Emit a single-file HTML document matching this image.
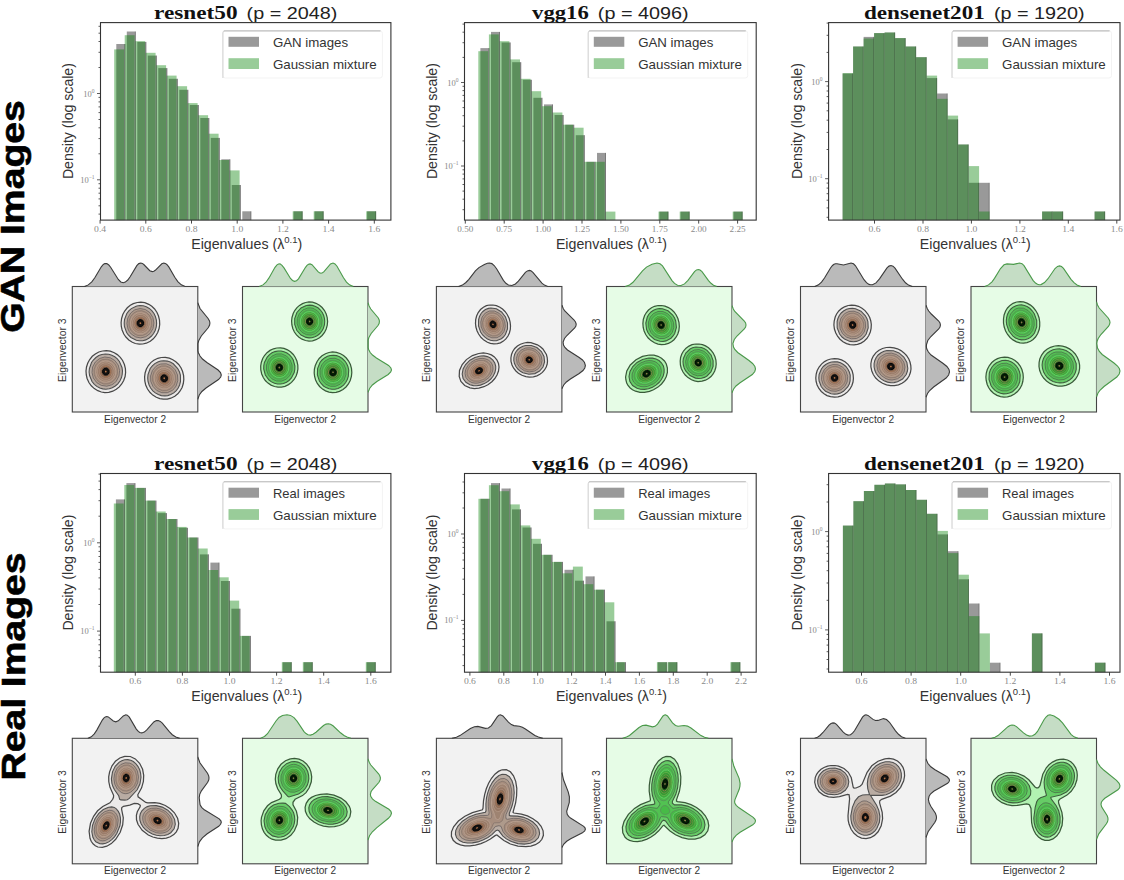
<!DOCTYPE html>
<html><head><meta charset="utf-8"><style>
html,body{margin:0;padding:0;background:#fff;}
svg{display:block;}
</style></head><body>
<svg width="1124" height="880" viewBox="0 0 1124 880">
<rect width="1124" height="880" fill="#fff"/>
<rect x="116.3" y="44" width="9.0" height="176.1" fill="rgba(128,128,128,0.8)"/>
<rect x="126.8" y="31.5" width="9.0" height="188.6" fill="rgba(128,128,128,0.8)"/>
<rect x="137.3" y="41.9" width="9.0" height="178.2" fill="rgba(128,128,128,0.8)"/>
<rect x="147.8" y="55.6" width="9.0" height="164.5" fill="rgba(128,128,128,0.8)"/>
<rect x="158.3" y="68.1" width="9.0" height="152" fill="rgba(128,128,128,0.8)"/>
<rect x="168.8" y="78.8" width="9.0" height="141.3" fill="rgba(128,128,128,0.8)"/>
<rect x="179.3" y="89.8" width="9.0" height="130.3" fill="rgba(128,128,128,0.8)"/>
<rect x="189.8" y="105" width="9.0" height="115.1" fill="rgba(128,128,128,0.8)"/>
<rect x="200.3" y="118" width="9.0" height="102.1" fill="rgba(128,128,128,0.8)"/>
<rect x="210.8" y="137.9" width="9.0" height="82.2" fill="rgba(128,128,128,0.8)"/>
<rect x="221.3" y="159.3" width="9.0" height="60.8" fill="rgba(128,128,128,0.8)"/>
<rect x="231.8" y="185" width="9.0" height="35.1" fill="rgba(128,128,128,0.8)"/>
<rect x="242.3" y="211.3" width="9.0" height="8.8" fill="rgba(128,128,128,0.8)"/>
<rect x="293.6" y="211.3" width="9.0" height="8.8" fill="rgba(128,128,128,0.8)"/>
<rect x="314.6" y="211.3" width="9.0" height="8.8" fill="rgba(128,128,128,0.8)"/>
<rect x="367.1" y="211.3" width="9.0" height="8.8" fill="rgba(128,128,128,0.8)"/>
<rect x="114.2" y="49.4" width="9.9" height="170.7" fill="rgba(0,128,0,0.4)"/>
<rect x="124.7" y="35.2" width="9.9" height="184.8" fill="rgba(0,128,0,0.4)"/>
<rect x="135.2" y="41.2" width="9.9" height="178.8" fill="rgba(0,128,0,0.4)"/>
<rect x="145.7" y="52.8" width="9.9" height="167.3" fill="rgba(0,128,0,0.4)"/>
<rect x="156.2" y="65.2" width="9.9" height="154.8" fill="rgba(0,128,0,0.4)"/>
<rect x="166.7" y="75.6" width="9.9" height="144.5" fill="rgba(0,128,0,0.4)"/>
<rect x="177.2" y="86.2" width="9.9" height="133.8" fill="rgba(0,128,0,0.4)"/>
<rect x="187.7" y="103.1" width="9.9" height="117" fill="rgba(0,128,0,0.4)"/>
<rect x="198.2" y="115.2" width="9.9" height="104.9" fill="rgba(0,128,0,0.4)"/>
<rect x="208.7" y="133.7" width="9.9" height="86.4" fill="rgba(0,128,0,0.4)"/>
<rect x="219.2" y="160" width="9.9" height="60.1" fill="rgba(0,128,0,0.4)"/>
<rect x="229.7" y="170.4" width="9.9" height="49.7" fill="rgba(0,128,0,0.4)"/>
<rect x="292.7" y="211.3" width="9.9" height="8.8" fill="rgba(0,128,0,0.4)"/>
<rect x="313.7" y="211.3" width="9.9" height="8.8" fill="rgba(0,128,0,0.4)"/>
<rect x="366.2" y="211.3" width="9.9" height="8.8" fill="rgba(0,128,0,0.4)"/>
<rect x="124.4" y="44" width="0.9" height="176.1" fill="rgba(40,40,40,0.3)"/>
<rect x="134.9" y="31.5" width="0.9" height="188.6" fill="rgba(40,40,40,0.3)"/>
<rect x="145.4" y="41.9" width="0.9" height="178.2" fill="rgba(40,40,40,0.3)"/>
<rect x="155.9" y="55.6" width="0.9" height="164.5" fill="rgba(40,40,40,0.3)"/>
<rect x="166.4" y="68.1" width="0.9" height="152" fill="rgba(40,40,40,0.3)"/>
<rect x="176.9" y="78.8" width="0.9" height="141.3" fill="rgba(40,40,40,0.3)"/>
<rect x="187.4" y="89.8" width="0.9" height="130.3" fill="rgba(40,40,40,0.3)"/>
<rect x="197.9" y="105" width="0.9" height="115.1" fill="rgba(40,40,40,0.3)"/>
<rect x="208.4" y="118" width="0.9" height="102.1" fill="rgba(40,40,40,0.3)"/>
<rect x="218.9" y="137.9" width="0.9" height="82.2" fill="rgba(40,40,40,0.3)"/>
<rect x="229.4" y="159.3" width="0.9" height="60.8" fill="rgba(40,40,40,0.3)"/>
<rect x="239.9" y="185" width="0.9" height="35.1" fill="rgba(40,40,40,0.3)"/>
<rect x="250.4" y="211.3" width="0.9" height="8.8" fill="rgba(40,40,40,0.3)"/>
<rect x="301.7" y="211.3" width="0.9" height="8.8" fill="rgba(40,40,40,0.3)"/>
<rect x="322.7" y="211.3" width="0.9" height="8.8" fill="rgba(40,40,40,0.3)"/>
<rect x="375.2" y="211.3" width="0.9" height="8.8" fill="rgba(40,40,40,0.3)"/>
<rect x="100.5" y="22.6" width="290.4" height="197.5" fill="none" stroke="#333" stroke-width="1.1"/>
<line x1="100.1" y1="220.1" x2="100.1" y2="223.6" stroke="#333" stroke-width="0.9"/>
<text x="100.1" y="231.6" font-family='"Liberation Serif", serif' font-size="8" fill="#8a8a8a" text-anchor="middle" textLength="12" lengthAdjust="spacingAndGlyphs">0.4</text>
<line x1="145.8" y1="220.1" x2="145.8" y2="223.6" stroke="#333" stroke-width="0.9"/>
<text x="145.8" y="231.6" font-family='"Liberation Serif", serif' font-size="8" fill="#8a8a8a" text-anchor="middle" textLength="12" lengthAdjust="spacingAndGlyphs">0.6</text>
<line x1="191.5" y1="220.1" x2="191.5" y2="223.6" stroke="#333" stroke-width="0.9"/>
<text x="191.5" y="231.6" font-family='"Liberation Serif", serif' font-size="8" fill="#8a8a8a" text-anchor="middle" textLength="12" lengthAdjust="spacingAndGlyphs">0.8</text>
<line x1="237.2" y1="220.1" x2="237.2" y2="223.6" stroke="#333" stroke-width="0.9"/>
<text x="237.2" y="231.6" font-family='"Liberation Serif", serif' font-size="8" fill="#8a8a8a" text-anchor="middle" textLength="12" lengthAdjust="spacingAndGlyphs">1.0</text>
<line x1="282.9" y1="220.1" x2="282.9" y2="223.6" stroke="#333" stroke-width="0.9"/>
<text x="282.9" y="231.6" font-family='"Liberation Serif", serif' font-size="8" fill="#8a8a8a" text-anchor="middle" textLength="12" lengthAdjust="spacingAndGlyphs">1.2</text>
<line x1="328.6" y1="220.1" x2="328.6" y2="223.6" stroke="#333" stroke-width="0.9"/>
<text x="328.6" y="231.6" font-family='"Liberation Serif", serif' font-size="8" fill="#8a8a8a" text-anchor="middle" textLength="12" lengthAdjust="spacingAndGlyphs">1.4</text>
<line x1="374.3" y1="220.1" x2="374.3" y2="223.6" stroke="#333" stroke-width="0.9"/>
<text x="374.3" y="231.6" font-family='"Liberation Serif", serif' font-size="8" fill="#8a8a8a" text-anchor="middle" textLength="12" lengthAdjust="spacingAndGlyphs">1.6</text>
<line x1="98.5" y1="214.1" x2="100.5" y2="214.1" stroke="#333" stroke-width="0.8"/>
<line x1="98.5" y1="205.8" x2="100.5" y2="205.8" stroke="#333" stroke-width="0.8"/>
<line x1="98.5" y1="198.9" x2="100.5" y2="198.9" stroke="#333" stroke-width="0.8"/>
<line x1="98.5" y1="193.2" x2="100.5" y2="193.2" stroke="#333" stroke-width="0.8"/>
<line x1="98.5" y1="188.2" x2="100.5" y2="188.2" stroke="#333" stroke-width="0.8"/>
<line x1="98.5" y1="183.7" x2="100.5" y2="183.7" stroke="#333" stroke-width="0.8"/>
<line x1="97" y1="179.8" x2="100.5" y2="179.8" stroke="#333" stroke-width="0.8"/>
<line x1="98.5" y1="153.8" x2="100.5" y2="153.8" stroke="#333" stroke-width="0.8"/>
<line x1="98.5" y1="138.6" x2="100.5" y2="138.6" stroke="#333" stroke-width="0.8"/>
<line x1="98.5" y1="127.8" x2="100.5" y2="127.8" stroke="#333" stroke-width="0.8"/>
<line x1="98.5" y1="119.5" x2="100.5" y2="119.5" stroke="#333" stroke-width="0.8"/>
<line x1="98.5" y1="112.6" x2="100.5" y2="112.6" stroke="#333" stroke-width="0.8"/>
<line x1="98.5" y1="106.9" x2="100.5" y2="106.9" stroke="#333" stroke-width="0.8"/>
<line x1="98.5" y1="101.9" x2="100.5" y2="101.9" stroke="#333" stroke-width="0.8"/>
<line x1="98.5" y1="97.4" x2="100.5" y2="97.4" stroke="#333" stroke-width="0.8"/>
<line x1="97" y1="93.5" x2="100.5" y2="93.5" stroke="#333" stroke-width="0.8"/>
<line x1="98.5" y1="67.5" x2="100.5" y2="67.5" stroke="#333" stroke-width="0.8"/>
<line x1="98.5" y1="52.3" x2="100.5" y2="52.3" stroke="#333" stroke-width="0.8"/>
<line x1="98.5" y1="41.5" x2="100.5" y2="41.5" stroke="#333" stroke-width="0.8"/>
<line x1="98.5" y1="33.2" x2="100.5" y2="33.2" stroke="#333" stroke-width="0.8"/>
<line x1="98.5" y1="26.3" x2="100.5" y2="26.3" stroke="#333" stroke-width="0.8"/>
<text x="94.5" y="96.5" font-family='"Liberation Serif", serif' font-size="8.5" fill="#888" text-anchor="end">10<tspan dy="-4" font-size="5.5">0</tspan></text>
<text x="94.5" y="182.8" font-family='"Liberation Serif", serif' font-size="8.5" fill="#888" text-anchor="end">10<tspan dy="-4" font-size="5.5">−1</tspan></text>
<text x="154" y="19" font-family='"Liberation Serif", serif' font-size="19" font-weight="bold" fill="#111" text-anchor="start" textLength="83.6" lengthAdjust="spacingAndGlyphs">resnet50</text>
<text x="246.6" y="19" font-family='"Liberation Sans", sans-serif' font-size="16.5" fill="#222" text-anchor="start" textLength="90.8" lengthAdjust="spacingAndGlyphs">(p = 2048)</text>
<text x="73.5" y="121.1" font-family='"Liberation Sans", sans-serif' font-size="14" fill="#333" text-anchor="middle" textLength="116" lengthAdjust="spacingAndGlyphs" transform="rotate(-90 73.5 121.1)">Density (log scale)</text>
<text x="191.2" y="249.1" font-family='"Liberation Sans", sans-serif' font-size="14.2" fill="#333" text-anchor="start">Eigenvalues (λ<tspan dy="-6" font-size="9.5">0.1</tspan><tspan dy="6">)</tspan></text>
<rect x="222.9" y="30.8" width="159.5" height="47.2" rx="2.5" fill="none" stroke="#f3f3f3" stroke-width="1"/>
<path d="M222.9 78 L222.9 32.8 Q222.9 30.8 224.9 30.8 L380.4 30.8" fill="none" stroke="#d2d2d2" stroke-width="1"/>
<path d="M223.9 30.8 L380.4 30.8" fill="none" stroke="#c8c8c8" stroke-width="1.2"/>
<rect x="228.5" y="36.8" width="30.5" height="10" fill="rgba(128,128,128,0.8)"/>
<rect x="228.5" y="58.2" width="30.5" height="10.8" fill="rgba(0,128,0,0.4)"/>
<text x="272.9" y="47.3" font-family='"Liberation Sans", sans-serif' font-size="13.5" fill="#333" text-anchor="start" textLength="75.2" lengthAdjust="spacingAndGlyphs">GAN images</text>
<text x="272.9" y="68.6" font-family='"Liberation Sans", sans-serif' font-size="13.5" fill="#333" text-anchor="start" textLength="103.8" lengthAdjust="spacingAndGlyphs">Gaussian mixture</text>
<rect x="480.4" y="48.1" width="9.0" height="172" fill="rgba(128,128,128,0.8)"/>
<rect x="491" y="31.9" width="9.0" height="188.2" fill="rgba(128,128,128,0.8)"/>
<rect x="501.6" y="42.5" width="9.0" height="177.6" fill="rgba(128,128,128,0.8)"/>
<rect x="512.2" y="62.2" width="9.0" height="157.8" fill="rgba(128,128,128,0.8)"/>
<rect x="522.8" y="79.8" width="9.0" height="140.3" fill="rgba(128,128,128,0.8)"/>
<rect x="533.4" y="97.8" width="9.0" height="122.3" fill="rgba(128,128,128,0.8)"/>
<rect x="544" y="104.4" width="9.0" height="115.7" fill="rgba(128,128,128,0.8)"/>
<rect x="554.6" y="115" width="9.0" height="105.1" fill="rgba(128,128,128,0.8)"/>
<rect x="565.2" y="124.7" width="9.0" height="95.4" fill="rgba(128,128,128,0.8)"/>
<rect x="575.8" y="135.2" width="9.0" height="84.9" fill="rgba(128,128,128,0.8)"/>
<rect x="586.4" y="161.8" width="9.0" height="58.3" fill="rgba(128,128,128,0.8)"/>
<rect x="597" y="152.9" width="9.0" height="67.2" fill="rgba(128,128,128,0.8)"/>
<rect x="659.4" y="211.6" width="9.0" height="8.5" fill="rgba(128,128,128,0.8)"/>
<rect x="680.6" y="211.6" width="9.0" height="8.5" fill="rgba(128,128,128,0.8)"/>
<rect x="733.6" y="211.6" width="9.0" height="8.5" fill="rgba(128,128,128,0.8)"/>
<rect x="478.3" y="51.2" width="9.9" height="168.8" fill="rgba(0,128,0,0.4)"/>
<rect x="488.9" y="34.4" width="9.9" height="185.7" fill="rgba(0,128,0,0.4)"/>
<rect x="499.5" y="41.2" width="9.9" height="178.8" fill="rgba(0,128,0,0.4)"/>
<rect x="510.1" y="59.4" width="9.9" height="160.7" fill="rgba(0,128,0,0.4)"/>
<rect x="520.7" y="78.8" width="9.9" height="141.3" fill="rgba(0,128,0,0.4)"/>
<rect x="531.3" y="91.2" width="9.9" height="128.8" fill="rgba(0,128,0,0.4)"/>
<rect x="541.9" y="106.2" width="9.9" height="113.8" fill="rgba(0,128,0,0.4)"/>
<rect x="552.5" y="112.5" width="9.9" height="107.6" fill="rgba(0,128,0,0.4)"/>
<rect x="563.1" y="124.7" width="9.9" height="95.4" fill="rgba(0,128,0,0.4)"/>
<rect x="573.7" y="127.7" width="9.9" height="92.4" fill="rgba(0,128,0,0.4)"/>
<rect x="584.3" y="161.8" width="9.9" height="58.3" fill="rgba(0,128,0,0.4)"/>
<rect x="594.9" y="161.8" width="9.9" height="58.3" fill="rgba(0,128,0,0.4)"/>
<rect x="605.5" y="211.6" width="9.9" height="8.5" fill="rgba(0,128,0,0.4)"/>
<rect x="658.5" y="211.6" width="9.9" height="8.5" fill="rgba(0,128,0,0.4)"/>
<rect x="679.7" y="211.6" width="9.9" height="8.5" fill="rgba(0,128,0,0.4)"/>
<rect x="732.7" y="211.6" width="9.9" height="8.5" fill="rgba(0,128,0,0.4)"/>
<rect x="488.5" y="48.1" width="0.9" height="172" fill="rgba(40,40,40,0.3)"/>
<rect x="499.1" y="31.9" width="0.9" height="188.2" fill="rgba(40,40,40,0.3)"/>
<rect x="509.7" y="42.5" width="0.9" height="177.6" fill="rgba(40,40,40,0.3)"/>
<rect x="520.3" y="62.2" width="0.9" height="157.8" fill="rgba(40,40,40,0.3)"/>
<rect x="530.9" y="79.8" width="0.9" height="140.3" fill="rgba(40,40,40,0.3)"/>
<rect x="541.5" y="97.8" width="0.9" height="122.3" fill="rgba(40,40,40,0.3)"/>
<rect x="552.1" y="104.4" width="0.9" height="115.7" fill="rgba(40,40,40,0.3)"/>
<rect x="562.7" y="115" width="0.9" height="105.1" fill="rgba(40,40,40,0.3)"/>
<rect x="573.3" y="124.7" width="0.9" height="95.4" fill="rgba(40,40,40,0.3)"/>
<rect x="583.9" y="135.2" width="0.9" height="84.9" fill="rgba(40,40,40,0.3)"/>
<rect x="594.5" y="161.8" width="0.9" height="58.3" fill="rgba(40,40,40,0.3)"/>
<rect x="605.1" y="152.9" width="0.9" height="67.2" fill="rgba(40,40,40,0.3)"/>
<rect x="667.5" y="211.6" width="0.9" height="8.5" fill="rgba(40,40,40,0.3)"/>
<rect x="688.7" y="211.6" width="0.9" height="8.5" fill="rgba(40,40,40,0.3)"/>
<rect x="741.7" y="211.6" width="0.9" height="8.5" fill="rgba(40,40,40,0.3)"/>
<rect x="464.5" y="22.6" width="291.7" height="197.5" fill="none" stroke="#333" stroke-width="1.1"/>
<line x1="465.3" y1="220.1" x2="465.3" y2="223.6" stroke="#333" stroke-width="0.9"/>
<text x="465.3" y="231.6" font-family='"Liberation Serif", serif' font-size="8" fill="#8a8a8a" text-anchor="middle" textLength="16" lengthAdjust="spacingAndGlyphs">0.50</text>
<line x1="504.2" y1="220.1" x2="504.2" y2="223.6" stroke="#333" stroke-width="0.9"/>
<text x="504.2" y="231.6" font-family='"Liberation Serif", serif' font-size="8" fill="#8a8a8a" text-anchor="middle" textLength="16" lengthAdjust="spacingAndGlyphs">0.75</text>
<line x1="543.1" y1="220.1" x2="543.1" y2="223.6" stroke="#333" stroke-width="0.9"/>
<text x="543.1" y="231.6" font-family='"Liberation Serif", serif' font-size="8" fill="#8a8a8a" text-anchor="middle" textLength="16" lengthAdjust="spacingAndGlyphs">1.00</text>
<line x1="582" y1="220.1" x2="582" y2="223.6" stroke="#333" stroke-width="0.9"/>
<text x="582" y="231.6" font-family='"Liberation Serif", serif' font-size="8" fill="#8a8a8a" text-anchor="middle" textLength="16" lengthAdjust="spacingAndGlyphs">1.25</text>
<line x1="620.9" y1="220.1" x2="620.9" y2="223.6" stroke="#333" stroke-width="0.9"/>
<text x="620.9" y="231.6" font-family='"Liberation Serif", serif' font-size="8" fill="#8a8a8a" text-anchor="middle" textLength="16" lengthAdjust="spacingAndGlyphs">1.50</text>
<line x1="659.8" y1="220.1" x2="659.8" y2="223.6" stroke="#333" stroke-width="0.9"/>
<text x="659.8" y="231.6" font-family='"Liberation Serif", serif' font-size="8" fill="#8a8a8a" text-anchor="middle" textLength="16" lengthAdjust="spacingAndGlyphs">1.75</text>
<line x1="698.7" y1="220.1" x2="698.7" y2="223.6" stroke="#333" stroke-width="0.9"/>
<text x="698.7" y="231.6" font-family='"Liberation Serif", serif' font-size="8" fill="#8a8a8a" text-anchor="middle" textLength="16" lengthAdjust="spacingAndGlyphs">2.00</text>
<line x1="737.6" y1="220.1" x2="737.6" y2="223.6" stroke="#333" stroke-width="0.9"/>
<text x="737.6" y="231.6" font-family='"Liberation Serif", serif' font-size="8" fill="#8a8a8a" text-anchor="middle" textLength="16" lengthAdjust="spacingAndGlyphs">2.25</text>
<line x1="462.5" y1="209.7" x2="464.5" y2="209.7" stroke="#333" stroke-width="0.8"/>
<line x1="462.5" y1="199.2" x2="464.5" y2="199.2" stroke="#333" stroke-width="0.8"/>
<line x1="462.5" y1="191.1" x2="464.5" y2="191.1" stroke="#333" stroke-width="0.8"/>
<line x1="462.5" y1="184.5" x2="464.5" y2="184.5" stroke="#333" stroke-width="0.8"/>
<line x1="462.5" y1="178.9" x2="464.5" y2="178.9" stroke="#333" stroke-width="0.8"/>
<line x1="462.5" y1="174.1" x2="464.5" y2="174.1" stroke="#333" stroke-width="0.8"/>
<line x1="462.5" y1="169.8" x2="464.5" y2="169.8" stroke="#333" stroke-width="0.8"/>
<line x1="461" y1="166" x2="464.5" y2="166" stroke="#333" stroke-width="0.8"/>
<line x1="462.5" y1="140.9" x2="464.5" y2="140.9" stroke="#333" stroke-width="0.8"/>
<line x1="462.5" y1="126.2" x2="464.5" y2="126.2" stroke="#333" stroke-width="0.8"/>
<line x1="462.5" y1="115.7" x2="464.5" y2="115.7" stroke="#333" stroke-width="0.8"/>
<line x1="462.5" y1="107.6" x2="464.5" y2="107.6" stroke="#333" stroke-width="0.8"/>
<line x1="462.5" y1="101" x2="464.5" y2="101" stroke="#333" stroke-width="0.8"/>
<line x1="462.5" y1="95.4" x2="464.5" y2="95.4" stroke="#333" stroke-width="0.8"/>
<line x1="462.5" y1="90.6" x2="464.5" y2="90.6" stroke="#333" stroke-width="0.8"/>
<line x1="462.5" y1="86.3" x2="464.5" y2="86.3" stroke="#333" stroke-width="0.8"/>
<line x1="461" y1="82.5" x2="464.5" y2="82.5" stroke="#333" stroke-width="0.8"/>
<line x1="462.5" y1="57.4" x2="464.5" y2="57.4" stroke="#333" stroke-width="0.8"/>
<line x1="462.5" y1="42.7" x2="464.5" y2="42.7" stroke="#333" stroke-width="0.8"/>
<line x1="462.5" y1="32.2" x2="464.5" y2="32.2" stroke="#333" stroke-width="0.8"/>
<line x1="462.5" y1="24.1" x2="464.5" y2="24.1" stroke="#333" stroke-width="0.8"/>
<text x="458.5" y="85.5" font-family='"Liberation Serif", serif' font-size="8.5" fill="#888" text-anchor="end">10<tspan dy="-4" font-size="5.5">0</tspan></text>
<text x="458.5" y="169" font-family='"Liberation Serif", serif' font-size="8.5" fill="#888" text-anchor="end">10<tspan dy="-4" font-size="5.5">−1</tspan></text>
<text x="532.1" y="19" font-family='"Liberation Serif", serif' font-size="19" font-weight="bold" fill="#111" text-anchor="start" textLength="56.7" lengthAdjust="spacingAndGlyphs">vgg16</text>
<text x="597.8" y="19" font-family='"Liberation Sans", sans-serif' font-size="16.5" fill="#222" text-anchor="start" textLength="90.8" lengthAdjust="spacingAndGlyphs">(p = 4096)</text>
<text x="437.5" y="121.1" font-family='"Liberation Sans", sans-serif' font-size="14" fill="#333" text-anchor="middle" textLength="116" lengthAdjust="spacingAndGlyphs" transform="rotate(-90 437.5 121.1)">Density (log scale)</text>
<text x="555.9" y="249.1" font-family='"Liberation Sans", sans-serif' font-size="14.2" fill="#333" text-anchor="start">Eigenvalues (λ<tspan dy="-6" font-size="9.5">0.1</tspan><tspan dy="6">)</tspan></text>
<rect x="588.2" y="30.8" width="159.5" height="47.2" rx="2.5" fill="none" stroke="#f3f3f3" stroke-width="1"/>
<path d="M588.2 78 L588.2 32.8 Q588.2 30.8 590.2 30.8 L745.7 30.8" fill="none" stroke="#d2d2d2" stroke-width="1"/>
<path d="M589.2 30.8 L745.7 30.8" fill="none" stroke="#c8c8c8" stroke-width="1.2"/>
<rect x="593.8" y="36.8" width="30.5" height="10" fill="rgba(128,128,128,0.8)"/>
<rect x="593.8" y="58.2" width="30.5" height="10.8" fill="rgba(0,128,0,0.4)"/>
<text x="638.2" y="47.3" font-family='"Liberation Sans", sans-serif' font-size="13.5" fill="#333" text-anchor="start" textLength="75.2" lengthAdjust="spacingAndGlyphs">GAN images</text>
<text x="638.2" y="68.6" font-family='"Liberation Sans", sans-serif' font-size="13.5" fill="#333" text-anchor="start" textLength="103.8" lengthAdjust="spacingAndGlyphs">Gaussian mixture</text>
<rect x="842.6" y="73.5" width="10.5" height="146.6" fill="rgba(128,128,128,0.8)"/>
<rect x="853.1" y="46.5" width="10.5" height="173.6" fill="rgba(128,128,128,0.8)"/>
<rect x="863.6" y="36.9" width="10.5" height="183.2" fill="rgba(128,128,128,0.8)"/>
<rect x="874.1" y="33.1" width="10.5" height="187" fill="rgba(128,128,128,0.8)"/>
<rect x="884.6" y="32.5" width="10.5" height="187.6" fill="rgba(128,128,128,0.8)"/>
<rect x="895.1" y="38.1" width="10.5" height="182" fill="rgba(128,128,128,0.8)"/>
<rect x="905.6" y="46.5" width="10.5" height="173.6" fill="rgba(128,128,128,0.8)"/>
<rect x="916.1" y="57.2" width="10.5" height="162.8" fill="rgba(128,128,128,0.8)"/>
<rect x="926.6" y="78.1" width="10.5" height="142" fill="rgba(128,128,128,0.8)"/>
<rect x="937.1" y="93.5" width="10.5" height="126.6" fill="rgba(128,128,128,0.8)"/>
<rect x="947.6" y="119.4" width="10.5" height="100.7" fill="rgba(128,128,128,0.8)"/>
<rect x="958.1" y="144.5" width="10.5" height="75.6" fill="rgba(128,128,128,0.8)"/>
<rect x="968.6" y="182.8" width="10.5" height="37.3" fill="rgba(128,128,128,0.8)"/>
<rect x="979.1" y="182.8" width="10.5" height="37.3" fill="rgba(128,128,128,0.8)"/>
<rect x="1042.1" y="211.5" width="10.5" height="8.6" fill="rgba(128,128,128,0.8)"/>
<rect x="1052.6" y="211.5" width="10.5" height="8.6" fill="rgba(128,128,128,0.8)"/>
<rect x="1094.6" y="211.5" width="10.5" height="8.6" fill="rgba(128,128,128,0.8)"/>
<rect x="842.6" y="73.1" width="10.5" height="147" fill="rgba(0,128,0,0.4)"/>
<rect x="853.1" y="46.5" width="10.5" height="173.6" fill="rgba(0,128,0,0.4)"/>
<rect x="863.6" y="38.5" width="10.5" height="181.6" fill="rgba(0,128,0,0.4)"/>
<rect x="874.1" y="33.1" width="10.5" height="187" fill="rgba(0,128,0,0.4)"/>
<rect x="884.6" y="32.5" width="10.5" height="187.6" fill="rgba(0,128,0,0.4)"/>
<rect x="895.1" y="38.1" width="10.5" height="182" fill="rgba(0,128,0,0.4)"/>
<rect x="905.6" y="46.5" width="10.5" height="173.6" fill="rgba(0,128,0,0.4)"/>
<rect x="916.1" y="57.2" width="10.5" height="162.8" fill="rgba(0,128,0,0.4)"/>
<rect x="926.6" y="75.6" width="10.5" height="144.5" fill="rgba(0,128,0,0.4)"/>
<rect x="937.1" y="98.8" width="10.5" height="121.3" fill="rgba(0,128,0,0.4)"/>
<rect x="947.6" y="115.6" width="10.5" height="104.5" fill="rgba(0,128,0,0.4)"/>
<rect x="958.1" y="144.5" width="10.5" height="75.6" fill="rgba(0,128,0,0.4)"/>
<rect x="968.6" y="166.1" width="10.5" height="54" fill="rgba(0,128,0,0.4)"/>
<rect x="979.1" y="211.5" width="10.5" height="8.6" fill="rgba(0,128,0,0.4)"/>
<rect x="1042.1" y="211.5" width="10.5" height="8.6" fill="rgba(0,128,0,0.4)"/>
<rect x="1052.6" y="211.5" width="10.5" height="8.6" fill="rgba(0,128,0,0.4)"/>
<rect x="1094.6" y="211.5" width="10.5" height="8.6" fill="rgba(0,128,0,0.4)"/>
<rect x="852.2" y="73.5" width="0.9" height="146.6" fill="rgba(40,40,40,0.3)"/>
<rect x="862.7" y="46.5" width="0.9" height="173.6" fill="rgba(40,40,40,0.3)"/>
<rect x="873.2" y="36.9" width="0.9" height="183.2" fill="rgba(40,40,40,0.3)"/>
<rect x="883.7" y="33.1" width="0.9" height="187" fill="rgba(40,40,40,0.3)"/>
<rect x="894.2" y="32.5" width="0.9" height="187.6" fill="rgba(40,40,40,0.3)"/>
<rect x="904.7" y="38.1" width="0.9" height="182" fill="rgba(40,40,40,0.3)"/>
<rect x="915.2" y="46.5" width="0.9" height="173.6" fill="rgba(40,40,40,0.3)"/>
<rect x="925.7" y="57.2" width="0.9" height="162.8" fill="rgba(40,40,40,0.3)"/>
<rect x="936.2" y="78.1" width="0.9" height="142" fill="rgba(40,40,40,0.3)"/>
<rect x="946.7" y="93.5" width="0.9" height="126.6" fill="rgba(40,40,40,0.3)"/>
<rect x="957.2" y="119.4" width="0.9" height="100.7" fill="rgba(40,40,40,0.3)"/>
<rect x="967.7" y="144.5" width="0.9" height="75.6" fill="rgba(40,40,40,0.3)"/>
<rect x="978.2" y="182.8" width="0.9" height="37.3" fill="rgba(40,40,40,0.3)"/>
<rect x="988.7" y="182.8" width="0.9" height="37.3" fill="rgba(40,40,40,0.3)"/>
<rect x="1051.7" y="211.5" width="0.9" height="8.6" fill="rgba(40,40,40,0.3)"/>
<rect x="1062.2" y="211.5" width="0.9" height="8.6" fill="rgba(40,40,40,0.3)"/>
<rect x="1104.2" y="211.5" width="0.9" height="8.6" fill="rgba(40,40,40,0.3)"/>
<rect x="828.6" y="22.6" width="291.4" height="197.5" fill="none" stroke="#333" stroke-width="1.1"/>
<line x1="874.5" y1="220.1" x2="874.5" y2="223.6" stroke="#333" stroke-width="0.9"/>
<text x="874.5" y="231.6" font-family='"Liberation Serif", serif' font-size="8" fill="#8a8a8a" text-anchor="middle" textLength="12" lengthAdjust="spacingAndGlyphs">0.6</text>
<line x1="923" y1="220.1" x2="923" y2="223.6" stroke="#333" stroke-width="0.9"/>
<text x="923" y="231.6" font-family='"Liberation Serif", serif' font-size="8" fill="#8a8a8a" text-anchor="middle" textLength="12" lengthAdjust="spacingAndGlyphs">0.8</text>
<line x1="971.4" y1="220.1" x2="971.4" y2="223.6" stroke="#333" stroke-width="0.9"/>
<text x="971.4" y="231.6" font-family='"Liberation Serif", serif' font-size="8" fill="#8a8a8a" text-anchor="middle" textLength="12" lengthAdjust="spacingAndGlyphs">1.0</text>
<line x1="1019.9" y1="220.1" x2="1019.9" y2="223.6" stroke="#333" stroke-width="0.9"/>
<text x="1019.9" y="231.6" font-family='"Liberation Serif", serif' font-size="8" fill="#8a8a8a" text-anchor="middle" textLength="12" lengthAdjust="spacingAndGlyphs">1.2</text>
<line x1="1068.3" y1="220.1" x2="1068.3" y2="223.6" stroke="#333" stroke-width="0.9"/>
<text x="1068.3" y="231.6" font-family='"Liberation Serif", serif' font-size="8" fill="#8a8a8a" text-anchor="middle" textLength="12" lengthAdjust="spacingAndGlyphs">1.4</text>
<line x1="1116.8" y1="220.1" x2="1116.8" y2="223.6" stroke="#333" stroke-width="0.9"/>
<text x="1116.8" y="231.6" font-family='"Liberation Serif", serif' font-size="8" fill="#8a8a8a" text-anchor="middle" textLength="12" lengthAdjust="spacingAndGlyphs">1.6</text>
<line x1="826.6" y1="217.3" x2="828.6" y2="217.3" stroke="#333" stroke-width="0.8"/>
<line x1="826.6" y1="207.9" x2="828.6" y2="207.9" stroke="#333" stroke-width="0.8"/>
<line x1="826.6" y1="200.2" x2="828.6" y2="200.2" stroke="#333" stroke-width="0.8"/>
<line x1="826.6" y1="193.7" x2="828.6" y2="193.7" stroke="#333" stroke-width="0.8"/>
<line x1="826.6" y1="188.1" x2="828.6" y2="188.1" stroke="#333" stroke-width="0.8"/>
<line x1="826.6" y1="183.1" x2="828.6" y2="183.1" stroke="#333" stroke-width="0.8"/>
<line x1="825.1" y1="178.7" x2="828.6" y2="178.7" stroke="#333" stroke-width="0.8"/>
<line x1="826.6" y1="149.5" x2="828.6" y2="149.5" stroke="#333" stroke-width="0.8"/>
<line x1="826.6" y1="132.4" x2="828.6" y2="132.4" stroke="#333" stroke-width="0.8"/>
<line x1="826.6" y1="120.2" x2="828.6" y2="120.2" stroke="#333" stroke-width="0.8"/>
<line x1="826.6" y1="110.8" x2="828.6" y2="110.8" stroke="#333" stroke-width="0.8"/>
<line x1="826.6" y1="103.1" x2="828.6" y2="103.1" stroke="#333" stroke-width="0.8"/>
<line x1="826.6" y1="96.6" x2="828.6" y2="96.6" stroke="#333" stroke-width="0.8"/>
<line x1="826.6" y1="91" x2="828.6" y2="91" stroke="#333" stroke-width="0.8"/>
<line x1="826.6" y1="86" x2="828.6" y2="86" stroke="#333" stroke-width="0.8"/>
<line x1="825.1" y1="81.6" x2="828.6" y2="81.6" stroke="#333" stroke-width="0.8"/>
<line x1="826.6" y1="52.4" x2="828.6" y2="52.4" stroke="#333" stroke-width="0.8"/>
<line x1="826.6" y1="35.3" x2="828.6" y2="35.3" stroke="#333" stroke-width="0.8"/>
<line x1="826.6" y1="23.1" x2="828.6" y2="23.1" stroke="#333" stroke-width="0.8"/>
<text x="822.6" y="84.6" font-family='"Liberation Serif", serif' font-size="8.5" fill="#888" text-anchor="end">10<tspan dy="-4" font-size="5.5">0</tspan></text>
<text x="822.6" y="181.7" font-family='"Liberation Serif", serif' font-size="8.5" fill="#888" text-anchor="end">10<tspan dy="-4" font-size="5.5">−1</tspan></text>
<text x="863.9" y="19" font-family='"Liberation Serif", serif' font-size="19" font-weight="bold" fill="#111" text-anchor="start" textLength="121" lengthAdjust="spacingAndGlyphs">densenet201</text>
<text x="993.9" y="19" font-family='"Liberation Sans", sans-serif' font-size="16.5" fill="#222" text-anchor="start" textLength="90.8" lengthAdjust="spacingAndGlyphs">(p = 1920)</text>
<text x="801.6" y="121.1" font-family='"Liberation Sans", sans-serif' font-size="14" fill="#333" text-anchor="middle" textLength="116" lengthAdjust="spacingAndGlyphs" transform="rotate(-90 801.6 121.1)">Density (log scale)</text>
<text x="919.8" y="249.1" font-family='"Liberation Sans", sans-serif' font-size="14.2" fill="#333" text-anchor="start">Eigenvalues (λ<tspan dy="-6" font-size="9.5">0.1</tspan><tspan dy="6">)</tspan></text>
<rect x="952" y="30.8" width="159.5" height="47.2" rx="2.5" fill="none" stroke="#f3f3f3" stroke-width="1"/>
<path d="M952 78 L952 32.8 Q952 30.8 954 30.8 L1109.5 30.8" fill="none" stroke="#d2d2d2" stroke-width="1"/>
<path d="M953 30.8 L1109.5 30.8" fill="none" stroke="#c8c8c8" stroke-width="1.2"/>
<rect x="957.6" y="36.8" width="30.5" height="10" fill="rgba(128,128,128,0.8)"/>
<rect x="957.6" y="58.2" width="30.5" height="10.8" fill="rgba(0,128,0,0.4)"/>
<text x="1002" y="47.3" font-family='"Liberation Sans", sans-serif' font-size="13.5" fill="#333" text-anchor="start" textLength="75.2" lengthAdjust="spacingAndGlyphs">GAN images</text>
<text x="1002" y="68.6" font-family='"Liberation Sans", sans-serif' font-size="13.5" fill="#333" text-anchor="start" textLength="103.8" lengthAdjust="spacingAndGlyphs">Gaussian mixture</text>
<rect x="115.9" y="499.4" width="9.0" height="172.8" fill="rgba(128,128,128,0.8)"/>
<rect x="126.4" y="483.1" width="9.0" height="189.1" fill="rgba(128,128,128,0.8)"/>
<rect x="136.9" y="487.9" width="9.0" height="184.3" fill="rgba(128,128,128,0.8)"/>
<rect x="147.4" y="500.6" width="9.0" height="171.6" fill="rgba(128,128,128,0.8)"/>
<rect x="157.9" y="513.1" width="9.0" height="159.1" fill="rgba(128,128,128,0.8)"/>
<rect x="168.4" y="519" width="9.0" height="153.2" fill="rgba(128,128,128,0.8)"/>
<rect x="178.9" y="527.8" width="9.0" height="144.5" fill="rgba(128,128,128,0.8)"/>
<rect x="189.4" y="537.5" width="9.0" height="134.7" fill="rgba(128,128,128,0.8)"/>
<rect x="199.9" y="554.4" width="9.0" height="117.8" fill="rgba(128,128,128,0.8)"/>
<rect x="210.4" y="562.6" width="9.0" height="109.6" fill="rgba(128,128,128,0.8)"/>
<rect x="220.9" y="581" width="9.0" height="91.2" fill="rgba(128,128,128,0.8)"/>
<rect x="231.4" y="608.7" width="9.0" height="63.5" fill="rgba(128,128,128,0.8)"/>
<rect x="241.9" y="635.9" width="9.0" height="36.3" fill="rgba(128,128,128,0.8)"/>
<rect x="282.7" y="662.2" width="9.0" height="10" fill="rgba(128,128,128,0.8)"/>
<rect x="303.7" y="662.2" width="9.0" height="10" fill="rgba(128,128,128,0.8)"/>
<rect x="366.7" y="662.2" width="9.0" height="10" fill="rgba(128,128,128,0.8)"/>
<rect x="113.8" y="503.5" width="9.9" height="168.7" fill="rgba(0,128,0,0.4)"/>
<rect x="124.3" y="485" width="9.9" height="187.2" fill="rgba(0,128,0,0.4)"/>
<rect x="134.8" y="487.9" width="9.9" height="184.3" fill="rgba(0,128,0,0.4)"/>
<rect x="145.3" y="500.6" width="9.9" height="171.6" fill="rgba(0,128,0,0.4)"/>
<rect x="155.8" y="511.5" width="9.9" height="160.7" fill="rgba(0,128,0,0.4)"/>
<rect x="166.3" y="519" width="9.9" height="153.2" fill="rgba(0,128,0,0.4)"/>
<rect x="176.8" y="526.9" width="9.9" height="145.3" fill="rgba(0,128,0,0.4)"/>
<rect x="187.3" y="537.5" width="9.9" height="134.7" fill="rgba(0,128,0,0.4)"/>
<rect x="197.8" y="548.5" width="9.9" height="123.7" fill="rgba(0,128,0,0.4)"/>
<rect x="208.3" y="570" width="9.9" height="102.2" fill="rgba(0,128,0,0.4)"/>
<rect x="218.8" y="577.3" width="9.9" height="94.9" fill="rgba(0,128,0,0.4)"/>
<rect x="229.3" y="600.6" width="9.9" height="71.6" fill="rgba(0,128,0,0.4)"/>
<rect x="239.8" y="635.9" width="9.9" height="36.3" fill="rgba(0,128,0,0.4)"/>
<rect x="281.8" y="662.2" width="9.9" height="10" fill="rgba(0,128,0,0.4)"/>
<rect x="302.8" y="662.2" width="9.9" height="10" fill="rgba(0,128,0,0.4)"/>
<rect x="365.8" y="662.2" width="9.9" height="10" fill="rgba(0,128,0,0.4)"/>
<rect x="124" y="499.4" width="0.9" height="172.8" fill="rgba(40,40,40,0.3)"/>
<rect x="134.5" y="483.1" width="0.9" height="189.1" fill="rgba(40,40,40,0.3)"/>
<rect x="145" y="487.9" width="0.9" height="184.3" fill="rgba(40,40,40,0.3)"/>
<rect x="155.5" y="500.6" width="0.9" height="171.6" fill="rgba(40,40,40,0.3)"/>
<rect x="166" y="513.1" width="0.9" height="159.1" fill="rgba(40,40,40,0.3)"/>
<rect x="176.5" y="519" width="0.9" height="153.2" fill="rgba(40,40,40,0.3)"/>
<rect x="187" y="527.8" width="0.9" height="144.5" fill="rgba(40,40,40,0.3)"/>
<rect x="197.5" y="537.5" width="0.9" height="134.7" fill="rgba(40,40,40,0.3)"/>
<rect x="208" y="554.4" width="0.9" height="117.8" fill="rgba(40,40,40,0.3)"/>
<rect x="218.5" y="562.6" width="0.9" height="109.6" fill="rgba(40,40,40,0.3)"/>
<rect x="229" y="581" width="0.9" height="91.2" fill="rgba(40,40,40,0.3)"/>
<rect x="239.5" y="608.7" width="0.9" height="63.5" fill="rgba(40,40,40,0.3)"/>
<rect x="250" y="635.9" width="0.9" height="36.3" fill="rgba(40,40,40,0.3)"/>
<rect x="290.8" y="662.2" width="0.9" height="10" fill="rgba(40,40,40,0.3)"/>
<rect x="311.8" y="662.2" width="0.9" height="10" fill="rgba(40,40,40,0.3)"/>
<rect x="374.8" y="662.2" width="0.9" height="10" fill="rgba(40,40,40,0.3)"/>
<rect x="100.5" y="473.5" width="290.4" height="198.7" fill="none" stroke="#333" stroke-width="1.1"/>
<line x1="135.3" y1="672.2" x2="135.3" y2="675.7" stroke="#333" stroke-width="0.9"/>
<text x="135.3" y="683.7" font-family='"Liberation Serif", serif' font-size="8" fill="#8a8a8a" text-anchor="middle" textLength="12" lengthAdjust="spacingAndGlyphs">0.6</text>
<line x1="182.4" y1="672.2" x2="182.4" y2="675.7" stroke="#333" stroke-width="0.9"/>
<text x="182.4" y="683.7" font-family='"Liberation Serif", serif' font-size="8" fill="#8a8a8a" text-anchor="middle" textLength="12" lengthAdjust="spacingAndGlyphs">0.8</text>
<line x1="229.5" y1="672.2" x2="229.5" y2="675.7" stroke="#333" stroke-width="0.9"/>
<text x="229.5" y="683.7" font-family='"Liberation Serif", serif' font-size="8" fill="#8a8a8a" text-anchor="middle" textLength="12" lengthAdjust="spacingAndGlyphs">1.0</text>
<line x1="276.6" y1="672.2" x2="276.6" y2="675.7" stroke="#333" stroke-width="0.9"/>
<text x="276.6" y="683.7" font-family='"Liberation Serif", serif' font-size="8" fill="#8a8a8a" text-anchor="middle" textLength="12" lengthAdjust="spacingAndGlyphs">1.2</text>
<line x1="323.7" y1="672.2" x2="323.7" y2="675.7" stroke="#333" stroke-width="0.9"/>
<text x="323.7" y="683.7" font-family='"Liberation Serif", serif' font-size="8" fill="#8a8a8a" text-anchor="middle" textLength="12" lengthAdjust="spacingAndGlyphs">1.4</text>
<line x1="370.8" y1="672.2" x2="370.8" y2="675.7" stroke="#333" stroke-width="0.9"/>
<text x="370.8" y="683.7" font-family='"Liberation Serif", serif' font-size="8" fill="#8a8a8a" text-anchor="middle" textLength="12" lengthAdjust="spacingAndGlyphs">1.6</text>
<line x1="98.5" y1="666.2" x2="100.5" y2="666.2" stroke="#333" stroke-width="0.8"/>
<line x1="98.5" y1="657.7" x2="100.5" y2="657.7" stroke="#333" stroke-width="0.8"/>
<line x1="98.5" y1="650.7" x2="100.5" y2="650.7" stroke="#333" stroke-width="0.8"/>
<line x1="98.5" y1="644.8" x2="100.5" y2="644.8" stroke="#333" stroke-width="0.8"/>
<line x1="98.5" y1="639.7" x2="100.5" y2="639.7" stroke="#333" stroke-width="0.8"/>
<line x1="98.5" y1="635.1" x2="100.5" y2="635.1" stroke="#333" stroke-width="0.8"/>
<line x1="97" y1="631.1" x2="100.5" y2="631.1" stroke="#333" stroke-width="0.8"/>
<line x1="98.5" y1="604.5" x2="100.5" y2="604.5" stroke="#333" stroke-width="0.8"/>
<line x1="98.5" y1="589" x2="100.5" y2="589" stroke="#333" stroke-width="0.8"/>
<line x1="98.5" y1="577.9" x2="100.5" y2="577.9" stroke="#333" stroke-width="0.8"/>
<line x1="98.5" y1="569.4" x2="100.5" y2="569.4" stroke="#333" stroke-width="0.8"/>
<line x1="98.5" y1="562.4" x2="100.5" y2="562.4" stroke="#333" stroke-width="0.8"/>
<line x1="98.5" y1="556.5" x2="100.5" y2="556.5" stroke="#333" stroke-width="0.8"/>
<line x1="98.5" y1="551.4" x2="100.5" y2="551.4" stroke="#333" stroke-width="0.8"/>
<line x1="98.5" y1="546.8" x2="100.5" y2="546.8" stroke="#333" stroke-width="0.8"/>
<line x1="97" y1="542.8" x2="100.5" y2="542.8" stroke="#333" stroke-width="0.8"/>
<line x1="98.5" y1="516.2" x2="100.5" y2="516.2" stroke="#333" stroke-width="0.8"/>
<line x1="98.5" y1="500.7" x2="100.5" y2="500.7" stroke="#333" stroke-width="0.8"/>
<line x1="98.5" y1="489.6" x2="100.5" y2="489.6" stroke="#333" stroke-width="0.8"/>
<line x1="98.5" y1="481.1" x2="100.5" y2="481.1" stroke="#333" stroke-width="0.8"/>
<line x1="98.5" y1="474.1" x2="100.5" y2="474.1" stroke="#333" stroke-width="0.8"/>
<text x="94.5" y="545.8" font-family='"Liberation Serif", serif' font-size="8.5" fill="#888" text-anchor="end">10<tspan dy="-4" font-size="5.5">0</tspan></text>
<text x="94.5" y="634.1" font-family='"Liberation Serif", serif' font-size="8.5" fill="#888" text-anchor="end">10<tspan dy="-4" font-size="5.5">−1</tspan></text>
<text x="154" y="469.9" font-family='"Liberation Serif", serif' font-size="19" font-weight="bold" fill="#111" text-anchor="start" textLength="83.6" lengthAdjust="spacingAndGlyphs">resnet50</text>
<text x="246.6" y="469.9" font-family='"Liberation Sans", sans-serif' font-size="16.5" fill="#222" text-anchor="start" textLength="90.8" lengthAdjust="spacingAndGlyphs">(p = 2048)</text>
<text x="73.5" y="572.6" font-family='"Liberation Sans", sans-serif' font-size="14" fill="#333" text-anchor="middle" textLength="116" lengthAdjust="spacingAndGlyphs" transform="rotate(-90 73.5 572.6)">Density (log scale)</text>
<text x="191.2" y="701.2" font-family='"Liberation Sans", sans-serif' font-size="14.2" fill="#333" text-anchor="start">Eigenvalues (λ<tspan dy="-6" font-size="9.5">0.1</tspan><tspan dy="6">)</tspan></text>
<rect x="222.9" y="481.7" width="159.5" height="47.2" rx="2.5" fill="none" stroke="#f3f3f3" stroke-width="1"/>
<path d="M222.9 528.9 L222.9 483.7 Q222.9 481.7 224.9 481.7 L380.4 481.7" fill="none" stroke="#d2d2d2" stroke-width="1"/>
<path d="M223.9 481.7 L380.4 481.7" fill="none" stroke="#c8c8c8" stroke-width="1.2"/>
<rect x="228.5" y="487.7" width="30.5" height="10" fill="rgba(128,128,128,0.8)"/>
<rect x="228.5" y="509.1" width="30.5" height="10.8" fill="rgba(0,128,0,0.4)"/>
<text x="272.9" y="498.2" font-family='"Liberation Sans", sans-serif' font-size="13.5" fill="#333" text-anchor="start" textLength="72" lengthAdjust="spacingAndGlyphs">Real images</text>
<text x="272.9" y="519.5" font-family='"Liberation Sans", sans-serif' font-size="13.5" fill="#333" text-anchor="start" textLength="103.8" lengthAdjust="spacingAndGlyphs">Gaussian mixture</text>
<rect x="480.5" y="498.8" width="9.0" height="173.5" fill="rgba(128,128,128,0.8)"/>
<rect x="491" y="483.1" width="9.0" height="189.1" fill="rgba(128,128,128,0.8)"/>
<rect x="501.5" y="488.5" width="9.0" height="183.7" fill="rgba(128,128,128,0.8)"/>
<rect x="512" y="509.4" width="9.0" height="162.8" fill="rgba(128,128,128,0.8)"/>
<rect x="522.5" y="527.5" width="9.0" height="144.7" fill="rgba(128,128,128,0.8)"/>
<rect x="533" y="543.8" width="9.0" height="128.5" fill="rgba(128,128,128,0.8)"/>
<rect x="543.5" y="554.8" width="9.0" height="117.5" fill="rgba(128,128,128,0.8)"/>
<rect x="554" y="561.9" width="9.0" height="110.3" fill="rgba(128,128,128,0.8)"/>
<rect x="564.5" y="569.8" width="9.0" height="102.4" fill="rgba(128,128,128,0.8)"/>
<rect x="575" y="580.7" width="9.0" height="91.5" fill="rgba(128,128,128,0.8)"/>
<rect x="585.5" y="576.4" width="9.0" height="95.8" fill="rgba(128,128,128,0.8)"/>
<rect x="596" y="589.7" width="9.0" height="82.5" fill="rgba(128,128,128,0.8)"/>
<rect x="606.5" y="621.3" width="9.0" height="50.9" fill="rgba(128,128,128,0.8)"/>
<rect x="617" y="662.2" width="9.0" height="10" fill="rgba(128,128,128,0.8)"/>
<rect x="657.8" y="662.2" width="9.0" height="10" fill="rgba(128,128,128,0.8)"/>
<rect x="668.3" y="662.2" width="9.0" height="10" fill="rgba(128,128,128,0.8)"/>
<rect x="731.3" y="662.2" width="9.0" height="10" fill="rgba(128,128,128,0.8)"/>
<rect x="478.4" y="498.8" width="9.9" height="173.5" fill="rgba(0,128,0,0.4)"/>
<rect x="488.9" y="485.2" width="9.9" height="187" fill="rgba(0,128,0,0.4)"/>
<rect x="499.4" y="491.2" width="9.9" height="181" fill="rgba(0,128,0,0.4)"/>
<rect x="509.9" y="504.4" width="9.9" height="167.8" fill="rgba(0,128,0,0.4)"/>
<rect x="520.4" y="525.4" width="9.9" height="146.8" fill="rgba(0,128,0,0.4)"/>
<rect x="530.9" y="538.8" width="9.9" height="133.5" fill="rgba(0,128,0,0.4)"/>
<rect x="541.4" y="554.8" width="9.9" height="117.5" fill="rgba(0,128,0,0.4)"/>
<rect x="551.9" y="561.9" width="9.9" height="110.3" fill="rgba(0,128,0,0.4)"/>
<rect x="562.4" y="573.3" width="9.9" height="98.9" fill="rgba(0,128,0,0.4)"/>
<rect x="572.9" y="566.6" width="9.9" height="105.6" fill="rgba(0,128,0,0.4)"/>
<rect x="583.4" y="584.2" width="9.9" height="88" fill="rgba(0,128,0,0.4)"/>
<rect x="593.9" y="589.7" width="9.9" height="82.5" fill="rgba(0,128,0,0.4)"/>
<rect x="604.4" y="602.3" width="9.9" height="69.9" fill="rgba(0,128,0,0.4)"/>
<rect x="614.9" y="662.2" width="9.9" height="10" fill="rgba(0,128,0,0.4)"/>
<rect x="656.9" y="662.2" width="9.9" height="10" fill="rgba(0,128,0,0.4)"/>
<rect x="667.4" y="662.2" width="9.9" height="10" fill="rgba(0,128,0,0.4)"/>
<rect x="730.4" y="662.2" width="9.9" height="10" fill="rgba(0,128,0,0.4)"/>
<rect x="488.6" y="498.8" width="0.9" height="173.5" fill="rgba(40,40,40,0.3)"/>
<rect x="499.1" y="483.1" width="0.9" height="189.1" fill="rgba(40,40,40,0.3)"/>
<rect x="509.6" y="488.5" width="0.9" height="183.7" fill="rgba(40,40,40,0.3)"/>
<rect x="520.1" y="509.4" width="0.9" height="162.8" fill="rgba(40,40,40,0.3)"/>
<rect x="530.6" y="527.5" width="0.9" height="144.7" fill="rgba(40,40,40,0.3)"/>
<rect x="541.1" y="543.8" width="0.9" height="128.5" fill="rgba(40,40,40,0.3)"/>
<rect x="551.6" y="554.8" width="0.9" height="117.5" fill="rgba(40,40,40,0.3)"/>
<rect x="562.1" y="561.9" width="0.9" height="110.3" fill="rgba(40,40,40,0.3)"/>
<rect x="572.6" y="569.8" width="0.9" height="102.4" fill="rgba(40,40,40,0.3)"/>
<rect x="583.1" y="580.7" width="0.9" height="91.5" fill="rgba(40,40,40,0.3)"/>
<rect x="593.6" y="576.4" width="0.9" height="95.8" fill="rgba(40,40,40,0.3)"/>
<rect x="604.1" y="589.7" width="0.9" height="82.5" fill="rgba(40,40,40,0.3)"/>
<rect x="614.6" y="621.3" width="0.9" height="50.9" fill="rgba(40,40,40,0.3)"/>
<rect x="625.1" y="662.2" width="0.9" height="10" fill="rgba(40,40,40,0.3)"/>
<rect x="665.9" y="662.2" width="0.9" height="10" fill="rgba(40,40,40,0.3)"/>
<rect x="676.4" y="662.2" width="0.9" height="10" fill="rgba(40,40,40,0.3)"/>
<rect x="739.4" y="662.2" width="0.9" height="10" fill="rgba(40,40,40,0.3)"/>
<rect x="464.5" y="473.5" width="291.7" height="198.7" fill="none" stroke="#333" stroke-width="1.1"/>
<line x1="469.9" y1="672.2" x2="469.9" y2="675.7" stroke="#333" stroke-width="0.9"/>
<text x="469.9" y="683.7" font-family='"Liberation Serif", serif' font-size="8" fill="#8a8a8a" text-anchor="middle" textLength="12" lengthAdjust="spacingAndGlyphs">0.6</text>
<line x1="503.8" y1="672.2" x2="503.8" y2="675.7" stroke="#333" stroke-width="0.9"/>
<text x="503.8" y="683.7" font-family='"Liberation Serif", serif' font-size="8" fill="#8a8a8a" text-anchor="middle" textLength="12" lengthAdjust="spacingAndGlyphs">0.8</text>
<line x1="537.7" y1="672.2" x2="537.7" y2="675.7" stroke="#333" stroke-width="0.9"/>
<text x="537.7" y="683.7" font-family='"Liberation Serif", serif' font-size="8" fill="#8a8a8a" text-anchor="middle" textLength="12" lengthAdjust="spacingAndGlyphs">1.0</text>
<line x1="571.6" y1="672.2" x2="571.6" y2="675.7" stroke="#333" stroke-width="0.9"/>
<text x="571.6" y="683.7" font-family='"Liberation Serif", serif' font-size="8" fill="#8a8a8a" text-anchor="middle" textLength="12" lengthAdjust="spacingAndGlyphs">1.2</text>
<line x1="605.5" y1="672.2" x2="605.5" y2="675.7" stroke="#333" stroke-width="0.9"/>
<text x="605.5" y="683.7" font-family='"Liberation Serif", serif' font-size="8" fill="#8a8a8a" text-anchor="middle" textLength="12" lengthAdjust="spacingAndGlyphs">1.4</text>
<line x1="639.4" y1="672.2" x2="639.4" y2="675.7" stroke="#333" stroke-width="0.9"/>
<text x="639.4" y="683.7" font-family='"Liberation Serif", serif' font-size="8" fill="#8a8a8a" text-anchor="middle" textLength="12" lengthAdjust="spacingAndGlyphs">1.6</text>
<line x1="673.3" y1="672.2" x2="673.3" y2="675.7" stroke="#333" stroke-width="0.9"/>
<text x="673.3" y="683.7" font-family='"Liberation Serif", serif' font-size="8" fill="#8a8a8a" text-anchor="middle" textLength="12" lengthAdjust="spacingAndGlyphs">1.8</text>
<line x1="707.2" y1="672.2" x2="707.2" y2="675.7" stroke="#333" stroke-width="0.9"/>
<text x="707.2" y="683.7" font-family='"Liberation Serif", serif' font-size="8" fill="#8a8a8a" text-anchor="middle" textLength="12" lengthAdjust="spacingAndGlyphs">2.0</text>
<line x1="741.1" y1="672.2" x2="741.1" y2="675.7" stroke="#333" stroke-width="0.9"/>
<text x="741.1" y="683.7" font-family='"Liberation Serif", serif' font-size="8" fill="#8a8a8a" text-anchor="middle" textLength="12" lengthAdjust="spacingAndGlyphs">2.2</text>
<line x1="462.5" y1="665.6" x2="464.5" y2="665.6" stroke="#333" stroke-width="0.8"/>
<line x1="462.5" y1="654.8" x2="464.5" y2="654.8" stroke="#333" stroke-width="0.8"/>
<line x1="462.5" y1="646.4" x2="464.5" y2="646.4" stroke="#333" stroke-width="0.8"/>
<line x1="462.5" y1="639.6" x2="464.5" y2="639.6" stroke="#333" stroke-width="0.8"/>
<line x1="462.5" y1="633.8" x2="464.5" y2="633.8" stroke="#333" stroke-width="0.8"/>
<line x1="462.5" y1="628.8" x2="464.5" y2="628.8" stroke="#333" stroke-width="0.8"/>
<line x1="462.5" y1="624.4" x2="464.5" y2="624.4" stroke="#333" stroke-width="0.8"/>
<line x1="461" y1="620.4" x2="464.5" y2="620.4" stroke="#333" stroke-width="0.8"/>
<line x1="462.5" y1="594.4" x2="464.5" y2="594.4" stroke="#333" stroke-width="0.8"/>
<line x1="462.5" y1="579.2" x2="464.5" y2="579.2" stroke="#333" stroke-width="0.8"/>
<line x1="462.5" y1="568.4" x2="464.5" y2="568.4" stroke="#333" stroke-width="0.8"/>
<line x1="462.5" y1="560" x2="464.5" y2="560" stroke="#333" stroke-width="0.8"/>
<line x1="462.5" y1="553.2" x2="464.5" y2="553.2" stroke="#333" stroke-width="0.8"/>
<line x1="462.5" y1="547.4" x2="464.5" y2="547.4" stroke="#333" stroke-width="0.8"/>
<line x1="462.5" y1="542.4" x2="464.5" y2="542.4" stroke="#333" stroke-width="0.8"/>
<line x1="462.5" y1="538" x2="464.5" y2="538" stroke="#333" stroke-width="0.8"/>
<line x1="461" y1="534" x2="464.5" y2="534" stroke="#333" stroke-width="0.8"/>
<line x1="462.5" y1="508" x2="464.5" y2="508" stroke="#333" stroke-width="0.8"/>
<line x1="462.5" y1="492.8" x2="464.5" y2="492.8" stroke="#333" stroke-width="0.8"/>
<line x1="462.5" y1="482" x2="464.5" y2="482" stroke="#333" stroke-width="0.8"/>
<text x="458.5" y="537" font-family='"Liberation Serif", serif' font-size="8.5" fill="#888" text-anchor="end">10<tspan dy="-4" font-size="5.5">0</tspan></text>
<text x="458.5" y="623.4" font-family='"Liberation Serif", serif' font-size="8.5" fill="#888" text-anchor="end">10<tspan dy="-4" font-size="5.5">−1</tspan></text>
<text x="532.1" y="469.9" font-family='"Liberation Serif", serif' font-size="19" font-weight="bold" fill="#111" text-anchor="start" textLength="56.7" lengthAdjust="spacingAndGlyphs">vgg16</text>
<text x="597.8" y="469.9" font-family='"Liberation Sans", sans-serif' font-size="16.5" fill="#222" text-anchor="start" textLength="90.8" lengthAdjust="spacingAndGlyphs">(p = 4096)</text>
<text x="437.5" y="572.6" font-family='"Liberation Sans", sans-serif' font-size="14" fill="#333" text-anchor="middle" textLength="116" lengthAdjust="spacingAndGlyphs" transform="rotate(-90 437.5 572.6)">Density (log scale)</text>
<text x="555.9" y="701.2" font-family='"Liberation Sans", sans-serif' font-size="14.2" fill="#333" text-anchor="start">Eigenvalues (λ<tspan dy="-6" font-size="9.5">0.1</tspan><tspan dy="6">)</tspan></text>
<rect x="588.2" y="481.7" width="159.5" height="47.2" rx="2.5" fill="none" stroke="#f3f3f3" stroke-width="1"/>
<path d="M588.2 528.9 L588.2 483.7 Q588.2 481.7 590.2 481.7 L745.7 481.7" fill="none" stroke="#d2d2d2" stroke-width="1"/>
<path d="M589.2 481.7 L745.7 481.7" fill="none" stroke="#c8c8c8" stroke-width="1.2"/>
<rect x="593.8" y="487.7" width="30.5" height="10" fill="rgba(128,128,128,0.8)"/>
<rect x="593.8" y="509.1" width="30.5" height="10.8" fill="rgba(0,128,0,0.4)"/>
<text x="638.2" y="498.2" font-family='"Liberation Sans", sans-serif' font-size="13.5" fill="#333" text-anchor="start" textLength="72" lengthAdjust="spacingAndGlyphs">Real images</text>
<text x="638.2" y="519.5" font-family='"Liberation Sans", sans-serif' font-size="13.5" fill="#333" text-anchor="start" textLength="103.8" lengthAdjust="spacingAndGlyphs">Gaussian mixture</text>
<rect x="842.9" y="525.6" width="10.5" height="146.6" fill="rgba(128,128,128,0.8)"/>
<rect x="853.4" y="501.2" width="10.5" height="171" fill="rgba(128,128,128,0.8)"/>
<rect x="863.9" y="491" width="10.5" height="181.2" fill="rgba(128,128,128,0.8)"/>
<rect x="874.4" y="484.8" width="10.5" height="187.5" fill="rgba(128,128,128,0.8)"/>
<rect x="884.9" y="483.5" width="10.5" height="188.7" fill="rgba(128,128,128,0.8)"/>
<rect x="895.4" y="484.4" width="10.5" height="187.8" fill="rgba(128,128,128,0.8)"/>
<rect x="905.9" y="490" width="10.5" height="182.2" fill="rgba(128,128,128,0.8)"/>
<rect x="916.4" y="499.8" width="10.5" height="172.5" fill="rgba(128,128,128,0.8)"/>
<rect x="926.9" y="513.8" width="10.5" height="158.5" fill="rgba(128,128,128,0.8)"/>
<rect x="937.4" y="534.4" width="10.5" height="137.8" fill="rgba(128,128,128,0.8)"/>
<rect x="947.9" y="551.2" width="10.5" height="121" fill="rgba(128,128,128,0.8)"/>
<rect x="958.4" y="579.3" width="10.5" height="92.9" fill="rgba(128,128,128,0.8)"/>
<rect x="968.9" y="603.5" width="10.5" height="68.7" fill="rgba(128,128,128,0.8)"/>
<rect x="989.9" y="662.7" width="10.5" height="9.5" fill="rgba(128,128,128,0.8)"/>
<rect x="1031.9" y="633.4" width="10.5" height="38.8" fill="rgba(128,128,128,0.8)"/>
<rect x="1094.9" y="662.7" width="10.5" height="9.5" fill="rgba(128,128,128,0.8)"/>
<rect x="842.9" y="525.6" width="10.5" height="146.6" fill="rgba(0,128,0,0.4)"/>
<rect x="853.4" y="501.2" width="10.5" height="171" fill="rgba(0,128,0,0.4)"/>
<rect x="863.9" y="491" width="10.5" height="181.2" fill="rgba(0,128,0,0.4)"/>
<rect x="874.4" y="484.8" width="10.5" height="187.5" fill="rgba(0,128,0,0.4)"/>
<rect x="884.9" y="483.5" width="10.5" height="188.7" fill="rgba(0,128,0,0.4)"/>
<rect x="895.4" y="484.4" width="10.5" height="187.8" fill="rgba(0,128,0,0.4)"/>
<rect x="905.9" y="490" width="10.5" height="182.2" fill="rgba(0,128,0,0.4)"/>
<rect x="916.4" y="499.8" width="10.5" height="172.5" fill="rgba(0,128,0,0.4)"/>
<rect x="926.9" y="513.8" width="10.5" height="158.5" fill="rgba(0,128,0,0.4)"/>
<rect x="937.4" y="530.9" width="10.5" height="141.3" fill="rgba(0,128,0,0.4)"/>
<rect x="947.9" y="553.1" width="10.5" height="119.1" fill="rgba(0,128,0,0.4)"/>
<rect x="958.4" y="574.7" width="10.5" height="97.5" fill="rgba(0,128,0,0.4)"/>
<rect x="968.9" y="616.1" width="10.5" height="56.1" fill="rgba(0,128,0,0.4)"/>
<rect x="979.4" y="633.4" width="10.5" height="38.8" fill="rgba(0,128,0,0.4)"/>
<rect x="1031.9" y="633.4" width="10.5" height="38.8" fill="rgba(0,128,0,0.4)"/>
<rect x="1094.9" y="662.7" width="10.5" height="9.5" fill="rgba(0,128,0,0.4)"/>
<rect x="852.5" y="525.6" width="0.9" height="146.6" fill="rgba(40,40,40,0.3)"/>
<rect x="863" y="501.2" width="0.9" height="171" fill="rgba(40,40,40,0.3)"/>
<rect x="873.5" y="491" width="0.9" height="181.2" fill="rgba(40,40,40,0.3)"/>
<rect x="884" y="484.8" width="0.9" height="187.5" fill="rgba(40,40,40,0.3)"/>
<rect x="894.5" y="483.5" width="0.9" height="188.7" fill="rgba(40,40,40,0.3)"/>
<rect x="905" y="484.4" width="0.9" height="187.8" fill="rgba(40,40,40,0.3)"/>
<rect x="915.5" y="490" width="0.9" height="182.2" fill="rgba(40,40,40,0.3)"/>
<rect x="926" y="499.8" width="0.9" height="172.5" fill="rgba(40,40,40,0.3)"/>
<rect x="936.5" y="513.8" width="0.9" height="158.5" fill="rgba(40,40,40,0.3)"/>
<rect x="947" y="534.4" width="0.9" height="137.8" fill="rgba(40,40,40,0.3)"/>
<rect x="957.5" y="551.2" width="0.9" height="121" fill="rgba(40,40,40,0.3)"/>
<rect x="968" y="579.3" width="0.9" height="92.9" fill="rgba(40,40,40,0.3)"/>
<rect x="978.5" y="603.5" width="0.9" height="68.7" fill="rgba(40,40,40,0.3)"/>
<rect x="999.5" y="662.7" width="0.9" height="9.5" fill="rgba(40,40,40,0.3)"/>
<rect x="1041.5" y="633.4" width="0.9" height="38.8" fill="rgba(40,40,40,0.3)"/>
<rect x="1104.5" y="662.7" width="0.9" height="9.5" fill="rgba(40,40,40,0.3)"/>
<rect x="828.6" y="473.5" width="291.4" height="198.7" fill="none" stroke="#333" stroke-width="1.1"/>
<line x1="861.5" y1="672.2" x2="861.5" y2="675.7" stroke="#333" stroke-width="0.9"/>
<text x="861.5" y="683.7" font-family='"Liberation Serif", serif' font-size="8" fill="#8a8a8a" text-anchor="middle" textLength="12" lengthAdjust="spacingAndGlyphs">0.6</text>
<line x1="911.1" y1="672.2" x2="911.1" y2="675.7" stroke="#333" stroke-width="0.9"/>
<text x="911.1" y="683.7" font-family='"Liberation Serif", serif' font-size="8" fill="#8a8a8a" text-anchor="middle" textLength="12" lengthAdjust="spacingAndGlyphs">0.8</text>
<line x1="960.7" y1="672.2" x2="960.7" y2="675.7" stroke="#333" stroke-width="0.9"/>
<text x="960.7" y="683.7" font-family='"Liberation Serif", serif' font-size="8" fill="#8a8a8a" text-anchor="middle" textLength="12" lengthAdjust="spacingAndGlyphs">1.0</text>
<line x1="1010.3" y1="672.2" x2="1010.3" y2="675.7" stroke="#333" stroke-width="0.9"/>
<text x="1010.3" y="683.7" font-family='"Liberation Serif", serif' font-size="8" fill="#8a8a8a" text-anchor="middle" textLength="12" lengthAdjust="spacingAndGlyphs">1.2</text>
<line x1="1059.9" y1="672.2" x2="1059.9" y2="675.7" stroke="#333" stroke-width="0.9"/>
<text x="1059.9" y="683.7" font-family='"Liberation Serif", serif' font-size="8" fill="#8a8a8a" text-anchor="middle" textLength="12" lengthAdjust="spacingAndGlyphs">1.4</text>
<line x1="1109.5" y1="672.2" x2="1109.5" y2="675.7" stroke="#333" stroke-width="0.9"/>
<text x="1109.5" y="683.7" font-family='"Liberation Serif", serif' font-size="8" fill="#8a8a8a" text-anchor="middle" textLength="12" lengthAdjust="spacingAndGlyphs">1.6</text>
<line x1="826.6" y1="669" x2="828.6" y2="669" stroke="#333" stroke-width="0.8"/>
<line x1="826.6" y1="659.5" x2="828.6" y2="659.5" stroke="#333" stroke-width="0.8"/>
<line x1="826.6" y1="651.7" x2="828.6" y2="651.7" stroke="#333" stroke-width="0.8"/>
<line x1="826.6" y1="645.1" x2="828.6" y2="645.1" stroke="#333" stroke-width="0.8"/>
<line x1="826.6" y1="639.4" x2="828.6" y2="639.4" stroke="#333" stroke-width="0.8"/>
<line x1="826.6" y1="634.4" x2="828.6" y2="634.4" stroke="#333" stroke-width="0.8"/>
<line x1="825.1" y1="629.9" x2="828.6" y2="629.9" stroke="#333" stroke-width="0.8"/>
<line x1="826.6" y1="600.3" x2="828.6" y2="600.3" stroke="#333" stroke-width="0.8"/>
<line x1="826.6" y1="583" x2="828.6" y2="583" stroke="#333" stroke-width="0.8"/>
<line x1="826.6" y1="570.7" x2="828.6" y2="570.7" stroke="#333" stroke-width="0.8"/>
<line x1="826.6" y1="561.2" x2="828.6" y2="561.2" stroke="#333" stroke-width="0.8"/>
<line x1="826.6" y1="553.4" x2="828.6" y2="553.4" stroke="#333" stroke-width="0.8"/>
<line x1="826.6" y1="546.8" x2="828.6" y2="546.8" stroke="#333" stroke-width="0.8"/>
<line x1="826.6" y1="541.1" x2="828.6" y2="541.1" stroke="#333" stroke-width="0.8"/>
<line x1="826.6" y1="536.1" x2="828.6" y2="536.1" stroke="#333" stroke-width="0.8"/>
<line x1="825.1" y1="531.6" x2="828.6" y2="531.6" stroke="#333" stroke-width="0.8"/>
<line x1="826.6" y1="502" x2="828.6" y2="502" stroke="#333" stroke-width="0.8"/>
<line x1="826.6" y1="484.7" x2="828.6" y2="484.7" stroke="#333" stroke-width="0.8"/>
<text x="822.6" y="534.6" font-family='"Liberation Serif", serif' font-size="8.5" fill="#888" text-anchor="end">10<tspan dy="-4" font-size="5.5">0</tspan></text>
<text x="822.6" y="632.9" font-family='"Liberation Serif", serif' font-size="8.5" fill="#888" text-anchor="end">10<tspan dy="-4" font-size="5.5">−1</tspan></text>
<text x="863.9" y="469.9" font-family='"Liberation Serif", serif' font-size="19" font-weight="bold" fill="#111" text-anchor="start" textLength="121" lengthAdjust="spacingAndGlyphs">densenet201</text>
<text x="993.9" y="469.9" font-family='"Liberation Sans", sans-serif' font-size="16.5" fill="#222" text-anchor="start" textLength="90.8" lengthAdjust="spacingAndGlyphs">(p = 1920)</text>
<text x="801.6" y="572.6" font-family='"Liberation Sans", sans-serif' font-size="14" fill="#333" text-anchor="middle" textLength="116" lengthAdjust="spacingAndGlyphs" transform="rotate(-90 801.6 572.6)">Density (log scale)</text>
<text x="919.8" y="701.2" font-family='"Liberation Sans", sans-serif' font-size="14.2" fill="#333" text-anchor="start">Eigenvalues (λ<tspan dy="-6" font-size="9.5">0.1</tspan><tspan dy="6">)</tspan></text>
<rect x="952" y="481.7" width="159.5" height="47.2" rx="2.5" fill="none" stroke="#f3f3f3" stroke-width="1"/>
<path d="M952 528.9 L952 483.7 Q952 481.7 954 481.7 L1109.5 481.7" fill="none" stroke="#d2d2d2" stroke-width="1"/>
<path d="M953 481.7 L1109.5 481.7" fill="none" stroke="#c8c8c8" stroke-width="1.2"/>
<rect x="957.6" y="487.7" width="30.5" height="10" fill="rgba(128,128,128,0.8)"/>
<rect x="957.6" y="509.1" width="30.5" height="10.8" fill="rgba(0,128,0,0.4)"/>
<text x="1002" y="498.2" font-family='"Liberation Sans", sans-serif' font-size="13.5" fill="#333" text-anchor="start" textLength="72" lengthAdjust="spacingAndGlyphs">Real images</text>
<text x="1002" y="519.5" font-family='"Liberation Sans", sans-serif' font-size="13.5" fill="#333" text-anchor="start" textLength="103.8" lengthAdjust="spacingAndGlyphs">Gaussian mixture</text>
<text x="24" y="216.5" font-family='"Liberation Sans", sans-serif' font-size="34" font-weight="bold" fill="#000" text-anchor="middle" textLength="232.7" lengthAdjust="spacingAndGlyphs" transform="rotate(-90 24 216.5)" stroke="#000" stroke-width="0.6">GAN Images</text>
<text x="25" y="666.5" font-family='"Liberation Sans", sans-serif' font-size="34" font-weight="bold" fill="#000" text-anchor="middle" textLength="228" lengthAdjust="spacingAndGlyphs" transform="rotate(-90 25 666.5)" stroke="#000" stroke-width="0.6">Real Images</text>
<clipPath id="clip72_286"><rect x="72.3" y="286.5" width="125.5" height="125.5"/></clipPath>
<rect x="72.3" y="286.5" width="125.5" height="125.5" fill="#f2f2f2"/>
<g clip-path="url(#clip72_286)">
<path d="M137.2 302.5 140.8 302.2 144.8 302.7 148.8 304.3 151.8 306.3 154.6 309 157 312.5 158.5 316 159.5 320 159.7 324.5 159.1 328.5 157.7 332.5 155.7 336 153.3 338.8 150.3 341.2 146.3 343.2 142.8 344 139.3 344.2 135.3 343.5 132.3 342.3 128.8 340 125.9 337 123.8 334 122.1 330 121.3 326.5 121.1 322.5 121.6 318.5 122.8 314.5 124.7 311 127.3 307.8 130.3 305.3 133.3 303.7 137.2 302.5ZM102.5 351 106.3 350.7 110.3 351.2 114.3 352.7 117.3 354.6 120.3 357.4 122.6 360.5 124.4 364.5 125.4 368.5 125.6 372.5 125.1 376.5 123.7 380.5 121.7 384 119.3 386.9 116.3 389.3 112.8 391.2 108.8 392.3 104.8 392.5 101.3 392 97.8 390.7 94.3 388.6 91.3 385.8 88.9 382.5 87.1 378.5 86.3 375 86 371 86.5 367 87.8 363 89.7 359.5 92.3 356.3 95.3 353.9 98.8 352 102.5 351ZM161.3 357.5 165.3 357.4 169.3 358.2 172.8 359.7 175.8 361.7 178.7 364.5 181.1 368 182.6 371.5 183.6 375.5 183.8 379.5 183.3 383.5 182.1 387.5 180.1 391 177.8 393.8 174.8 396.2 170.8 398.2 167.3 399.1 163.3 399.2 159.8 398.6 156.3 397.3 152.8 395.1 150.1 392.5 147.5 389 145.7 385 144.8 381 144.6 377 145.1 373 146.4 369 148.4 365.5 150.8 362.6 153.8 360.3 157.8 358.3 161.3 357.5Z" fill="#ebe9e8" fill-rule="evenodd"/>
<path d="M136.7 306 139.8 305.5 143.3 305.8 146.3 306.7 149.3 308.4 151.8 310.6 154 313.5 155.4 316.5 156.4 320 156.6 323.5 156.3 327 155.2 330.5 153.6 333.5 151.3 336.3 148.8 338.3 145.8 339.9 142.8 340.7 139.3 340.8 136.3 340.3 130.9 337.5 128.3 335 126.6 332.5 124.4 326.5 124.2 323 124.5 319.5 126.8 313.5 128.8 310.8 131.3 308.6 136.7 306ZM101.9 354.5 105.3 354 108.8 354.3 111.8 355.2 114.8 356.8 117.3 358.9 119.4 361.5 122 367.5 122.5 371 122.2 374.5 121.5 377.5 119.9 381 117.8 383.8 115.3 386 112.3 387.8 109.3 388.8 105.8 389.2 102.8 388.9 99.8 388 96.8 386.4 94.3 384.3 92 381.5 89.6 375.5 89.1 372 89.4 368.5 91.5 362.5 93.3 360 95.9 357.5 98.8 355.6 101.9 354.5ZM160.6 361 163.8 360.7 167.3 361.1 170.3 362.1 173.3 363.8 177.7 368.5 179.5 372 180.4 375 180.5 381.5 179.6 385 178.2 388 176.3 390.6 173.8 392.9 170.8 394.6 167.8 395.6 164.8 395.9 161.3 395.6 158.3 394.6 155.3 392.9 152.8 390.8 150.6 388 149.1 385 148 381.5 147.7 378 148 374.5 150.2 368.5 152.3 365.8 154.8 363.6 157.8 361.9 160.6 361Z" fill="#b9aca3" fill-rule="evenodd"/>
<path d="M140.1 308.5 145.3 309.5 149.8 312.6 152.9 317.5 153.9 323 153 328.5 150.1 333.5 145.8 336.7 140.8 337.9 135.8 337 131.2 334 129.3 331.6 128 329 126.9 323.5 127.8 318 130.7 313 134.8 309.8 140.1 308.5ZM104.8 357 110.3 357.8 114.8 360.5 118.2 365 119.6 370.5 119 376 116.3 381.2 114.3 383.2 111.8 384.8 106.8 386.2 101.3 385.4 96.8 382.7 93.3 378 92 372.5 92.6 367 95.3 362 99.8 358.4 104.8 357ZM160.8 364 166.3 363.8 171.3 365.9 175.3 369.9 177.5 375 177.8 380.5 176.1 386 174.3 388.5 172.3 390.4 167.3 392.7 161.8 392.7 156.8 390.5 153 386.5 150.8 381.5 150.6 376 152.4 370.5 155.8 366.5 158.3 364.9 160.8 364Z" fill="#ae9a8b" fill-rule="evenodd"/>
<path d="M137.5 311 141.8 310.7 146.3 312.4 149.8 315.8 151.7 320.5 151.8 325.5 150.2 330 146.8 333.7 142.3 335.6 137.8 335.5 133.8 333.6 130.8 330.2 129.1 326 129 321 130.6 316.5 133.6 313 137.5 311ZM102.7 359.5 107.3 359.2 111.8 360.8 115.3 364 117.3 368.5 117.5 373.5 116 378 112.8 381.7 108.3 383.9 103.8 384 99.3 382.1 96.2 379 94.2 374.5 94.1 369.5 95.7 365 98.8 361.5 102.7 359.5ZM161.5 366 165.8 365.9 170.3 367.7 173.6 371 175.6 375.5 175.9 380.5 174.3 385 171.3 388.5 166.8 390.6 162.3 390.7 157.8 388.7 154.7 385.5 152.7 381 152.6 376 154.1 371.5 157.3 367.9 161.5 366Z" fill="#a78e7e" fill-rule="evenodd"/>
<path d="M137.5 313 141.3 312.6 145.3 313.9 148.3 316.8 149.9 320.5 150.2 324.5 148.9 328.5 146.3 331.7 142.8 333.6 138.8 333.7 135.3 332.3 132.5 329.5 130.9 326 130.6 322 131.8 318 134.3 314.8 137.5 313ZM105 361 108.8 361.4 112.3 363.5 114.9 367 115.9 371 115.4 375 113.3 378.7 110.3 381.1 106.3 382.2 102.8 381.8 99.3 379.7 96.9 376.5 95.8 372.5 96.3 368 98.3 364.5 101.3 362.1 105 361ZM161.4 368 165.3 367.7 168.9 369 171.8 371.6 173.8 375.5 174.2 379.5 173 383.5 170.3 386.9 166.8 388.7 162.8 388.8 159.3 387.5 156.3 384.6 154.6 381 154.2 377 155.4 373 157.8 369.9 161.4 368Z" fill="#9e8371" fill-rule="evenodd"/>
<path d="M139.1 314.5 142.3 314.6 145.3 316.2 147.3 318.6 148.4 322 148.2 325.5 146.8 328.6 144.3 330.9 141.3 332 138.3 331.7 135.3 330 133.3 327.5 132.4 324.5 132.6 321 133.9 318 136.3 315.6 139.1 314.5ZM104.2 363 107.3 363 110.3 364.2 112.8 366.9 114 370 113.9 373.5 112.7 376.5 110.3 379 107.3 380.2 103.8 380.1 100.8 378.6 98.6 376 97.6 373 97.7 369.5 99 366.5 101.3 364.2 104.2 363ZM161.3 370 164.8 369.5 167.8 370.5 170.3 372.5 171.9 375.5 172.4 379 171.5 382.5 169.7 385 166.8 386.7 163.3 387 160.4 386 158.1 384 156.4 381 156 377.5 156.7 374.5 158.8 371.5 161.3 370Z" fill="#977966" fill-rule="evenodd"/>
<path d="M138.7 316.5 141.3 316.3 143.8 317.3 145.5 319 146.6 321.5 146.7 324.5 145.8 326.9 143.9 329 141.8 330 139.3 330 137.3 329.3 135.4 327.5 134.2 325 134 322.5 134.8 319.9 136.3 317.9 138.7 316.5ZM103.8 365 106.3 364.7 108.9 365.5 111.1 367.5 112.2 370 112.2 373 111.3 375.4 109.8 377.1 107.3 378.3 104.8 378.4 102.4 377.5 100.7 376 99.5 373.5 99.3 371 99.9 368.5 101.4 366.5 103.8 365ZM162.8 371.5 165.3 371.5 167.8 372.6 169.6 374.5 170.6 377 170.6 379.5 169.8 382 168 384 165.8 385.1 163.3 385.1 160.8 384.1 158.8 382 157.8 379.5 157.8 377 158.7 374.5 160.3 372.7 162.8 371.5Z" fill="#8f705b" fill-rule="evenodd"/>
<path d="M139.9 318 141.8 318.2 143.3 319 144.5 320.5 145.2 322.5 145.1 324.5 144.1 326.5 142.8 327.7 140.8 328.4 138.8 328.1 137.3 327.2 136.1 325.5 135.6 323.5 135.8 321.5 136.8 319.7 138.3 318.5 139.9 318ZM104.8 366.5 106.8 366.5 108.3 367.1 109.8 368.5 110.6 370.5 110.7 372.5 109.9 374.5 108.4 376 106.8 376.7 104.8 376.7 103.2 376 101.7 374.5 100.9 372.5 101 370.5 101.8 368.5 103.3 367.1 104.8 366.5ZM162.2 373.5 164.3 373.1 166 373.5 167.8 374.9 168.8 376.5 169.1 378.5 168.7 380.5 167.3 382.4 165.8 383.3 163.8 383.5 162.2 383 160.8 382 159.6 380 159.3 378 159.8 376 160.8 374.5 162.2 373.5Z" fill="#6c5547" fill-rule="evenodd"/>
<path d="M139 320 140.3 319.6 141.8 320 143.5 322 143.3 324.9 141.3 326.6 138.8 326.3 137.3 324.5 137.3 322 139 320ZM104.2 368.5 106.8 368.2 108.8 370 109 372.5 108.3 374 107.3 374.8 104.8 375 102.8 373.2 102.6 370.5 104.2 368.5ZM162.9 375 165.3 375 167.3 377 167.3 379.7 166.4 381 165.3 381.7 162.8 381.5 161.1 379.5 161.1 377 162.9 375Z" fill="#141110" fill-rule="evenodd"/>
<path d="M139.7 322.5 140.3 322.2 141 322.5 141.3 323.5 140.8 324.1 139.8 324 139.5 323 139.7 322.5ZM105.1 371 105.8 370.6 106.5 371 106.7 371.5 106.3 372.5 105.3 372.5 104.9 371.5 105.1 371ZM163.6 377.5 164.3 377.3 164.8 377.5 165.1 378.5 164.8 379.1 164.3 379.3 163.6 379 163.3 378 163.6 377.5Z" fill="#b87448"/>
<path d="M139 320 140.3 319.6 141.8 320 143.5 322 143.3 324.9 141.3 326.6 138.8 326.3 137.3 324.5 137.3 322 139 320M104.2 368.5 106.8 368.2 108.8 370 109 372.5 108.3 374 107.3 374.8 104.8 375 102.8 373.2 102.6 370.5 104.2 368.5M162.9 375 165.3 375 167.3 377 167.3 379.7 166.4 381 165.3 381.7 162.8 381.5 161.1 379.5 161.1 377 162.9 375" fill="none" stroke="#050505" stroke-width="1.0"/>
<path d="M139.9 318 141.8 318.2 143.3 319 144.5 320.5 145.2 322.5 145.1 324.5 144.1 326.5 142.8 327.7 140.8 328.4 138.8 328.1 137.3 327.2 136.1 325.5 135.6 323.5 135.8 321.5 136.8 319.7 138.3 318.5 139.9 318M104.8 366.5 106.8 366.5 108.3 367.1 109.8 368.5 110.6 370.5 110.7 372.5 109.9 374.5 108.4 376 106.8 376.7 104.8 376.7 103.2 376 101.7 374.5 100.9 372.5 101 370.5 101.8 368.5 103.3 367.1 104.8 366.5M162.2 373.5 164.3 373.1 166 373.5 167.8 374.9 168.8 376.5 169.1 378.5 168.7 380.5 167.3 382.4 165.8 383.3 163.8 383.5 162.2 383 160.8 382 159.6 380 159.3 378 159.8 376 160.8 374.5 162.2 373.5" fill="none" stroke="#b07a58" stroke-width="0.8"/>
<path d="M138.7 316.5 141.3 316.3 143.8 317.3 145.5 319 146.6 321.5 146.7 324.5 145.8 326.9 143.9 329 141.8 330 139.3 330 137.3 329.3 135.4 327.5 134.2 325 134 322.5 134.8 319.9 136.3 317.9 138.7 316.5M103.8 365 106.3 364.7 108.9 365.5 111.1 367.5 112.2 370 112.2 373 111.3 375.4 109.8 377.1 107.3 378.3 104.8 378.4 102.4 377.5 100.7 376 99.5 373.5 99.3 371 99.9 368.5 101.4 366.5 103.8 365M162.8 371.5 165.3 371.5 167.8 372.6 169.6 374.5 170.6 377 170.6 379.5 169.8 382 168 384 165.8 385.1 163.3 385.1 160.8 384.1 158.8 382 157.8 379.5 157.8 377 158.7 374.5 160.3 372.7 162.8 371.5" fill="none" stroke="#b69684" stroke-width="0.6"/>
<path d="M139.1 314.5 142.3 314.6 145.3 316.2 147.3 318.6 148.4 322 148.2 325.5 146.8 328.6 144.3 330.9 141.3 332 138.3 331.7 135.3 330 133.3 327.5 132.4 324.5 132.6 321 133.9 318 136.3 315.6 139.1 314.5M104.2 363 107.3 363 110.3 364.2 112.8 366.9 114 370 113.9 373.5 112.7 376.5 110.3 379 107.3 380.2 103.8 380.1 100.8 378.6 98.6 376 97.6 373 97.7 369.5 99 366.5 101.3 364.2 104.2 363M161.3 370 164.8 369.5 167.8 370.5 170.3 372.5 171.9 375.5 172.4 379 171.5 382.5 169.7 385 166.8 386.7 163.3 387 160.4 386 158.1 384 156.4 381 156 377.5 156.7 374.5 158.8 371.5 161.3 370" fill="none" stroke="#bca190" stroke-width="0.6"/>
<path d="M137.5 313 141.3 312.6 145.3 313.9 148.3 316.8 149.9 320.5 150.2 324.5 148.9 328.5 146.3 331.7 142.8 333.6 138.8 333.7 135.3 332.3 132.5 329.5 130.9 326 130.6 322 131.8 318 134.3 314.8 137.5 313M105 361 108.8 361.4 112.3 363.5 114.9 367 115.9 371 115.4 375 113.3 378.7 110.3 381.1 106.3 382.2 102.8 381.8 99.3 379.7 96.9 376.5 95.8 372.5 96.3 368 98.3 364.5 101.3 362.1 105 361M161.4 368 165.3 367.7 168.9 369 171.8 371.6 173.8 375.5 174.2 379.5 173 383.5 170.3 386.9 166.8 388.7 162.8 388.8 159.3 387.5 156.3 384.6 154.6 381 154.2 377 155.4 373 157.8 369.9 161.4 368" fill="none" stroke="#c2ab9c" stroke-width="0.6"/>
<path d="M137.5 311 141.8 310.7 146.3 312.4 149.8 315.8 151.7 320.5 151.8 325.5 150.2 330 146.8 333.7 142.3 335.6 137.8 335.5 133.8 333.6 130.8 330.2 129.1 326 129 321 130.6 316.5 133.6 313 137.5 311M102.7 359.5 107.3 359.2 111.8 360.8 115.3 364 117.3 368.5 117.5 373.5 116 378 112.8 381.7 108.3 383.9 103.8 384 99.3 382.1 96.2 379 94.2 374.5 94.1 369.5 95.7 365 98.8 361.5 102.7 359.5M161.5 366 165.8 365.9 170.3 367.7 173.6 371 175.6 375.5 175.9 380.5 174.3 385 171.3 388.5 166.8 390.6 162.3 390.7 157.8 388.7 154.7 385.5 152.7 381 152.6 376 154.1 371.5 157.3 367.9 161.5 366" fill="none" stroke="#807068" stroke-width="0.7"/>
<path d="M140.1 308.5 145.3 309.5 149.8 312.6 152.9 317.5 153.9 323 153 328.5 150.1 333.5 145.8 336.7 140.8 337.9 135.8 337 131.2 334 129.3 331.6 128 329 126.9 323.5 127.8 318 130.7 313 134.8 309.8 140.1 308.5M104.8 357 110.3 357.8 114.8 360.5 118.2 365 119.6 370.5 119 376 116.3 381.2 114.3 383.2 111.8 384.8 106.8 386.2 101.3 385.4 96.8 382.7 93.3 378 92 372.5 92.6 367 95.3 362 99.8 358.4 104.8 357M160.8 364 166.3 363.8 171.3 365.9 175.3 369.9 177.5 375 177.8 380.5 176.1 386 174.3 388.5 172.3 390.4 167.3 392.7 161.8 392.7 156.8 390.5 153 386.5 150.8 381.5 150.6 376 152.4 370.5 155.8 366.5 158.3 364.9 160.8 364" fill="none" stroke="#686060" stroke-width="0.8"/>
<path d="M136.7 306 139.8 305.5 143.3 305.8 146.3 306.7 149.3 308.4 151.8 310.6 154 313.5 155.4 316.5 156.4 320 156.6 323.5 156.3 327 155.2 330.5 153.6 333.5 151.3 336.3 148.8 338.3 145.8 339.9 142.8 340.7 139.3 340.8 136.3 340.3 130.9 337.5 128.3 335 126.6 332.5 124.4 326.5 124.2 323 124.5 319.5 126.8 313.5 128.8 310.8 131.3 308.6 136.7 306M101.9 354.5 105.3 354 108.8 354.3 111.8 355.2 114.8 356.8 117.3 358.9 119.4 361.5 122 367.5 122.5 371 122.2 374.5 121.5 377.5 119.9 381 117.8 383.8 115.3 386 112.3 387.8 109.3 388.8 105.8 389.2 102.8 388.9 99.8 388 96.8 386.4 94.3 384.3 92 381.5 89.6 375.5 89.1 372 89.4 368.5 91.5 362.5 93.3 360 95.9 357.5 98.8 355.6 101.9 354.5M160.6 361 163.8 360.7 167.3 361.1 170.3 362.1 173.3 363.8 177.7 368.5 179.5 372 180.4 375 180.5 381.5 179.6 385 178.2 388 176.3 390.6 173.8 392.9 170.8 394.6 167.8 395.6 164.8 395.9 161.3 395.6 158.3 394.6 155.3 392.9 152.8 390.8 150.6 388 149.1 385 148 381.5 147.7 378 148 374.5 150.2 368.5 152.3 365.8 154.8 363.6 157.8 361.9 160.6 361" fill="none" stroke="#505050" stroke-width="1.1"/>
<path d="M137.2 302.5 140.8 302.2 144.8 302.7 148.8 304.3 151.8 306.3 154.6 309 157 312.5 158.5 316 159.5 320 159.7 324.5 159.1 328.5 157.7 332.5 155.7 336 153.3 338.8 150.3 341.2 146.3 343.2 142.8 344 139.3 344.2 135.3 343.5 132.3 342.3 128.8 340 125.9 337 123.8 334 122.1 330 121.3 326.5 121.1 322.5 121.6 318.5 122.8 314.5 124.7 311 127.3 307.8 130.3 305.3 133.3 303.7 137.2 302.5M102.5 351 106.3 350.7 110.3 351.2 114.3 352.7 117.3 354.6 120.3 357.4 122.6 360.5 124.4 364.5 125.4 368.5 125.6 372.5 125.1 376.5 123.7 380.5 121.7 384 119.3 386.9 116.3 389.3 112.8 391.2 108.8 392.3 104.8 392.5 101.3 392 97.8 390.7 94.3 388.6 91.3 385.8 88.9 382.5 87.1 378.5 86.3 375 86 371 86.5 367 87.8 363 89.7 359.5 92.3 356.3 95.3 353.9 98.8 352 102.5 351M161.3 357.5 165.3 357.4 169.3 358.2 172.8 359.7 175.8 361.7 178.7 364.5 181.1 368 182.6 371.5 183.6 375.5 183.8 379.5 183.3 383.5 182.1 387.5 180.1 391 177.8 393.8 174.8 396.2 170.8 398.2 167.3 399.1 163.3 399.2 159.8 398.6 156.3 397.3 152.8 395.1 150.1 392.5 147.5 389 145.7 385 144.8 381 144.6 377 145.1 373 146.4 369 148.4 365.5 150.8 362.6 153.8 360.3 157.8 358.3 161.3 357.5" fill="none" stroke="#484848" stroke-width="1.25"/>
</g>
<rect x="72.3" y="286.5" width="125.5" height="125.5" fill="none" stroke="#444" stroke-width="1.1"/>
<path d="M84.8 286.5 L84.8 286.4 L88.3 284.9 L91.8 281.9 L94.8 277.8 L101.3 266.8 L103.3 264.5 L104.8 263.6 L106.8 263.6 L108.8 265 L110.8 267.5 L118.3 279.5 L120.8 281.9 L123.3 282.7 L125.3 282.1 L127.8 280 L130.3 276.5 L136.8 265.6 L138.8 263.6 L140.8 263 L142.3 263.4 L143.8 264.5 L149.8 270.7 L152.3 271.6 L153.8 271.3 L155.3 270.3 L161.8 263.8 L163.8 263.1 L165.3 263.4 L166.8 264.5 L168.8 266.9 L174.8 277.3 L177.8 281.6 L181.3 284.8 L184.8 286.3 L184.8 286.5" fill="#bababa" stroke="#3a3a3a" stroke-width="1.1"/>
<path d="M197.8 303 L197.9 303 L200 308.5 L208.1 318.5 L209.5 321 L209.9 323 L209.6 325 L208.4 327.5 L201.3 336 L198.8 340.5 L197.9 343.5 L197.9 351 L198.3 352.5 L200 356 L202.5 359 L206.9 362.5 L218.1 370 L220.5 372.5 L221.3 375 L220.7 377 L218.5 379.5 L206 388 L201.9 391.5 L199.3 395 L197.9 399 L197.8 399" fill="#bababa" stroke="#3a3a3a" stroke-width="1.1"/>
<text x="65.8" y="350.2" font-family='"Liberation Sans", sans-serif' font-size="11.5" fill="#333" text-anchor="middle" textLength="63.5" lengthAdjust="spacingAndGlyphs" transform="rotate(-90 65.8 350.2)">Eigenvector 3</text>
<text x="135.1" y="422.5" font-family='"Liberation Sans", sans-serif' font-size="11.5" fill="#333" text-anchor="middle" textLength="62" lengthAdjust="spacingAndGlyphs">Eigenvector 2</text>
<clipPath id="clip242_286"><rect x="242.5" y="286.5" width="125.5" height="125.5"/></clipPath>
<rect x="242.5" y="286.5" width="125.5" height="125.5" fill="#e6fce6"/>
<g clip-path="url(#clip242_286)">
<path d="M305.6 302.5 309 302 312.5 302.2 316 303.3 319.5 305.2 322.1 307.5 324.5 310.5 326.2 314 327.2 317.5 327.6 321.5 327.2 325.5 326.2 329 324.5 332.5 322.1 335.5 319.5 337.8 316 339.7 312.5 340.8 309 341 305.5 340.5 302 339.2 299 337.3 296.5 334.9 294.4 332 292.8 328.5 291.9 325 291.6 321 292 317.5 293.2 313.5 294.7 310.5 297 307.6 299.5 305.4 302.5 303.6 305.6 302.5ZM276.7 348 280.5 347.8 284 348.4 287.5 349.8 290.5 351.8 293.3 354.5 295.3 357.5 296.9 361 297.8 365 297.9 369 297.3 372.5 296.1 376 294.1 379.5 291.5 382.4 288.5 384.6 285 386.3 281.5 387.1 278 387.2 274.5 386.5 271 385.1 268 383.1 265.3 380.5 263.3 377.5 261.7 374 260.8 370 260.7 366 261.3 362.5 262.7 358.5 264.5 355.5 267 352.7 270 350.4 273.5 348.8 276.7 348ZM328.9 352.5 332.5 352 336.5 352.4 340.5 353.7 343.5 355.5 346.3 358 348.6 361 350.4 364.5 351.5 368.5 351.8 372.5 351.4 376.5 350.2 380.5 348.4 384 346 387 343 389.5 339.5 391.4 336 392.3 332.5 392.6 329 392.1 325.5 390.9 322.5 389.1 319.6 386.5 317.3 383.5 315.6 380 314.6 376.5 314.2 373 314.4 369 315.3 365.5 317.1 361.5 319.2 358.5 322 355.8 325.5 353.7 328.9 352.5Z" fill="#b2f2b2" fill-rule="evenodd"/>
<path d="M306.3 305.5 309.5 305.1 312.5 305.4 315.5 306.4 318 307.8 320.4 310 322.3 312.5 323.7 315.5 324.5 318.5 324.7 321.5 324.4 325 323.3 328.5 321.9 331 319.9 333.5 317.5 335.5 315 336.8 312 337.7 309 337.9 306 337.4 301 335 296.9 330.5 294.7 324.5 294.7 318.5 296.9 312.5 301 308 306.3 305.5ZM277.9 351 281 351 284 351.7 287 353.1 289.5 354.9 291.8 357.5 293.3 360 294.9 366 294.8 369.5 294.2 372.5 291.4 378 289 380.5 286.5 382.2 283.5 383.5 280.5 384 277.5 384 274.5 383.3 271.5 381.9 269 380 265.3 375 263.7 369 263.8 365.5 264.4 362.5 267.2 357 269.5 354.6 272 352.8 275 351.6 277.9 351ZM330.2 355.5 333.5 355.2 336.5 355.6 339.5 356.7 342.3 358.5 344.9 361 346.6 363.5 347.9 366.5 348.7 370 348.3 376.5 347.3 379.5 345.7 382.5 343.5 385.1 341 387 338 388.5 335 389.2 332 389.3 329 388.8 326 387.6 323.5 386 321.1 383.5 319.4 381 317.4 375 317.6 368.5 320 362.5 322 360 324.5 357.9 327.5 356.3 330.2 355.5Z" fill="#66cc66" fill-rule="evenodd"/>
<path d="M307.7 308 310.5 307.9 313 308.3 317.5 310.9 320.7 315 322.1 320 321.7 325.5 319.5 330 315.5 333.6 311 335.1 306.5 334.7 302 332.4 298.8 328.5 297.1 323.5 297.3 318.5 299.4 313.5 303 309.9 307.7 308ZM276.6 354 281.5 353.9 286.5 356 290.2 360 292.1 365 292 370.5 289.9 375.5 286 379.3 281.5 381.1 276.5 381 272 378.9 268.4 375 266.5 370 266.5 365 268.4 360 272 356.1 276.6 354ZM329.8 358.5 335 358.2 340 360.3 343.7 364 345.8 369 346 374.5 344.1 380 340.5 384 335.5 386.3 330.5 386.3 326 384.3 322.2 380.5 320.2 375.5 320 370 321.7 365 325 361 329.8 358.5Z" fill="#52c252" fill-rule="evenodd"/>
<path d="M307.6 310 312 310.1 315.9 312 318.9 315.5 320.2 319.5 320.2 324 318.3 328.5 315 331.6 311 333.1 307 332.9 303.3 331 300.3 327.5 299 323.5 299 319 300.6 315 303.5 311.8 307.6 310ZM276.7 356 281 355.8 285.2 357.5 288.5 360.8 290.2 365 290.3 369.5 288.6 374 285.5 377.3 281.5 379.1 277 379.1 273 377.3 270 374 268.4 370 268.3 365.5 270 361 273 357.7 276.7 356ZM330.2 360.5 334.5 360.2 339 362 342 365 344 369.5 344.1 374.5 342.4 379 339.2 382.5 335 384.3 331 384.3 326.8 382.5 323.9 379.5 322 375 321.8 370.5 323.3 366 326.3 362.5 330.2 360.5Z" fill="#47bb47" fill-rule="evenodd"/>
<path d="M306.9 312 310.5 311.6 314 312.8 316.9 315.5 318.5 319 318.7 323 317.5 326.5 315 329.5 311.5 331.2 308 331.3 304.9 330 302.3 327.5 300.7 324 300.5 320 301.7 316.5 304 313.6 306.9 312ZM278.6 357.5 282.5 358.1 285.6 360 287.8 363 288.8 367 288.3 370.5 286.5 374 283.5 376.5 280 377.5 276.5 377.1 273 375 270.8 372 269.8 368 270.3 364.5 272.1 361 275 358.6 278.6 357.5ZM332.3 362 336 362.5 339.3 364.5 341.5 367.5 342.5 371.5 342.1 375.5 340.3 379 337.4 381.5 333.5 382.6 330 382.1 326.6 380 324.5 377 323.5 373 323.9 369 325.8 365.5 328.5 363.2 332.3 362Z" fill="#3cab3c" fill-rule="evenodd"/>
<path d="M308 313.5 311 313.5 314 314.8 315.9 317 317 320 317 323 315.9 326 314 328.2 311 329.5 308 329.5 305.5 328.4 303.3 326 302.2 323 302.2 320 303.3 317 305.5 314.6 308 313.5ZM277.3 359.5 280.5 359.3 283.5 360.5 285.5 362.5 286.9 365.5 287 369 285.8 372 283.5 374.5 281 375.6 278 375.7 275.2 374.5 273 372.4 271.7 369.5 271.6 366.5 272.5 363.4 274.5 361 277.3 359.5ZM331.2 364 334 363.8 337.1 365 339.5 367.5 340.7 370.5 340.7 374 339.6 377 337.5 379.3 334.5 380.7 331.5 380.7 328.5 379.3 326.4 377 325.3 374 325.3 370.5 326.5 367.5 328.5 365.3 331.2 364Z" fill="#349b34" fill-rule="evenodd"/>
<path d="M307.4 315.5 309.5 315 312 315.6 314 317.1 315.3 319.5 315.5 322 314.9 324.5 313.5 326.4 311.5 327.6 309 327.9 307 327.3 305.3 326 304 323.7 303.6 321.5 304.1 319 305.5 316.8 307.4 315.5ZM278.8 361 281 361.2 283.2 362.5 284.8 364.5 285.4 367 285.2 369.5 284 371.7 282 373.4 279.5 374 277.5 373.7 275.3 372.5 273.8 370.5 273.2 368 273.4 365.5 274.5 363.4 276.5 361.7 278.8 361ZM330.8 366 333.5 365.6 336 366.4 337.8 368 339 370.5 339.2 373 338.5 375.5 336.9 377.5 334.5 378.8 332 378.9 330 378.2 328.1 376.5 327 374.1 326.8 371.5 327.5 369.2 329 367.2 330.8 366Z" fill="#2d8b2d" fill-rule="evenodd"/>
<path d="M307.9 317 309.5 316.6 311.5 317.1 313 318.3 313.9 320 314.1 322 313.5 323.9 312.5 325.2 311 326.1 309 326.3 307.5 325.8 306.1 324.5 305.3 323 305.5 319.5 306.5 318 307.9 317ZM277.4 363 279 362.6 281 362.9 282.5 363.9 283.5 365.5 283.9 367.5 283.5 369.5 282.5 371.1 281 372.1 279 372.4 277.5 372 276 371 275.1 369.5 274.7 367.5 275 365.7 276 364.1 277.4 363ZM331.5 367.5 333.5 367.3 335.5 368 336.9 369.5 337.5 371 337.6 373 337 375 335.6 376.5 334 377.2 332 377.2 330.5 376.6 329 375 328.4 373.5 328.8 370 330 368.4 331.5 367.5Z" fill="#1f6c1f" fill-rule="evenodd"/>
<path d="M308.3 318.5 309.5 318.2 310.9 318.5 312.5 320.4 312.3 323 310.5 324.7 308.3 324.5 306.7 322.5 306.9 320 308.3 318.5ZM277.9 364.5 280.5 364.4 282.1 366 282.3 368.5 281.5 369.9 280.5 370.6 278 370.6 276.5 369 276.3 366.5 277.9 364.5ZM332.1 369 334.5 369.3 336.1 371.5 336.1 373 335.5 374.4 333.5 375.7 331 375 329.9 373 330.3 370.5 332.1 369Z" fill="#031e03" fill-rule="evenodd"/>
<path d="M308.9 321 309.5 320.6 310 320.7 310.5 321.5 310.3 322 309.5 322.4 309 322.1 308.9 321ZM278.5 367 279.5 366.6 280.1 367 280.1 368 279.5 368.4 279 368.4 278.5 367.9 278.5 367ZM332.5 371.5 333.5 371.5 333.9 372.5 333.5 373.1 332.4 373 332.2 372 332.5 371.5Z" fill="#8a7a48"/>
<path d="M308.3 318.5 309.5 318.2 310.9 318.5 312.5 320.4 312.3 323 310.5 324.7 308.3 324.5 306.7 322.5 306.9 320 308.3 318.5M277.9 364.5 280.5 364.4 282.1 366 282.3 368.5 281.5 369.9 280.5 370.6 278 370.6 276.5 369 276.3 366.5 277.9 364.5M332.1 369 334.5 369.3 336.1 371.5 336.1 373 335.5 374.4 333.5 375.7 331 375 329.9 373 330.3 370.5 332.1 369" fill="none" stroke="#050505" stroke-width="1.0"/>
<path d="M307.9 317 309.5 316.6 311.5 317.1 313 318.3 313.9 320 314.1 322 313.5 323.9 312.5 325.2 311 326.1 309 326.3 307.5 325.8 306.1 324.5 305.3 323 305.5 319.5 306.5 318 307.9 317M277.4 363 279 362.6 281 362.9 282.5 363.9 283.5 365.5 283.9 367.5 283.5 369.5 282.5 371.1 281 372.1 279 372.4 277.5 372 276 371 275.1 369.5 274.7 367.5 275 365.7 276 364.1 277.4 363M331.5 367.5 333.5 367.3 335.5 368 336.9 369.5 337.5 371 337.6 373 337 375 335.6 376.5 334 377.2 332 377.2 330.5 376.6 329 375 328.4 373.5 328.8 370 330 368.4 331.5 367.5" fill="none" stroke="#948650" stroke-width="0.8"/>
<path d="M307.4 315.5 309.5 315 312 315.6 314 317.1 315.3 319.5 315.5 322 314.9 324.5 313.5 326.4 311.5 327.6 309 327.9 307 327.3 305.3 326 304 323.7 303.6 321.5 304.1 319 305.5 316.8 307.4 315.5M278.8 361 281 361.2 283.2 362.5 284.8 364.5 285.4 367 285.2 369.5 284 371.7 282 373.4 279.5 374 277.5 373.7 275.3 372.5 273.8 370.5 273.2 368 273.4 365.5 274.5 363.4 276.5 361.7 278.8 361M330.8 366 333.5 365.6 336 366.4 337.8 368 339 370.5 339.2 373 338.5 375.5 336.9 377.5 334.5 378.8 332 378.9 330 378.2 328.1 376.5 327 374.1 326.8 371.5 327.5 369.2 329 367.2 330.8 366" fill="none" stroke="#88944a" stroke-width="0.6"/>
<path d="M308 313.5 311 313.5 314 314.8 315.9 317 317 320 317 323 315.9 326 314 328.2 311 329.5 308 329.5 305.5 328.4 303.3 326 302.2 323 302.2 320 303.3 317 305.5 314.6 308 313.5M277.3 359.5 280.5 359.3 283.5 360.5 285.5 362.5 286.9 365.5 287 369 285.8 372 283.5 374.5 281 375.6 278 375.7 275.2 374.5 273 372.4 271.7 369.5 271.6 366.5 272.5 363.4 274.5 361 277.3 359.5M331.2 364 334 363.8 337.1 365 339.5 367.5 340.7 370.5 340.7 374 339.6 377 337.5 379.3 334.5 380.7 331.5 380.7 328.5 379.3 326.4 377 325.3 374 325.3 370.5 326.5 367.5 328.5 365.3 331.2 364" fill="none" stroke="#78b050" stroke-width="0.6"/>
<path d="M306.9 312 310.5 311.6 314 312.8 316.9 315.5 318.5 319 318.7 323 317.5 326.5 315 329.5 311.5 331.2 308 331.3 304.9 330 302.3 327.5 300.7 324 300.5 320 301.7 316.5 304 313.6 306.9 312M278.6 357.5 282.5 358.1 285.6 360 287.8 363 288.8 367 288.3 370.5 286.5 374 283.5 376.5 280 377.5 276.5 377.1 273 375 270.8 372 269.8 368 270.3 364.5 272.1 361 275 358.6 278.6 357.5M332.3 362 336 362.5 339.3 364.5 341.5 367.5 342.5 371.5 342.1 375.5 340.3 379 337.4 381.5 333.5 382.6 330 382.1 326.6 380 324.5 377 323.5 373 323.9 369 325.8 365.5 328.5 363.2 332.3 362" fill="none" stroke="#80d880" stroke-width="0.6"/>
<path d="M307.6 310 312 310.1 315.9 312 318.9 315.5 320.2 319.5 320.2 324 318.3 328.5 315 331.6 311 333.1 307 332.9 303.3 331 300.3 327.5 299 323.5 299 319 300.6 315 303.5 311.8 307.6 310M276.7 356 281 355.8 285.2 357.5 288.5 360.8 290.2 365 290.3 369.5 288.6 374 285.5 377.3 281.5 379.1 277 379.1 273 377.3 270 374 268.4 370 268.3 365.5 270 361 273 357.7 276.7 356M330.2 360.5 334.5 360.2 339 362 342 365 344 369.5 344.1 374.5 342.4 379 339.2 382.5 335 384.3 331 384.3 326.8 382.5 323.9 379.5 322 375 321.8 370.5 323.3 366 326.3 362.5 330.2 360.5" fill="none" stroke="#5a8a5a" stroke-width="0.7"/>
<path d="M307.7 308 310.5 307.9 313 308.3 317.5 310.9 320.7 315 322.1 320 321.7 325.5 319.5 330 315.5 333.6 311 335.1 306.5 334.7 302 332.4 298.8 328.5 297.1 323.5 297.3 318.5 299.4 313.5 303 309.9 307.7 308M276.6 354 281.5 353.9 286.5 356 290.2 360 292.1 365 292 370.5 289.9 375.5 286 379.3 281.5 381.1 276.5 381 272 378.9 268.4 375 266.5 370 266.5 365 268.4 360 272 356.1 276.6 354M329.8 358.5 335 358.2 340 360.3 343.7 364 345.8 369 346 374.5 344.1 380 340.5 384 335.5 386.3 330.5 386.3 326 384.3 322.2 380.5 320.2 375.5 320 370 321.7 365 325 361 329.8 358.5" fill="none" stroke="#4a704a" stroke-width="0.8"/>
<path d="M306.3 305.5 309.5 305.1 312.5 305.4 315.5 306.4 318 307.8 320.4 310 322.3 312.5 323.7 315.5 324.5 318.5 324.7 321.5 324.4 325 323.3 328.5 321.9 331 319.9 333.5 317.5 335.5 315 336.8 312 337.7 309 337.9 306 337.4 301 335 296.9 330.5 294.7 324.5 294.7 318.5 296.9 312.5 301 308 306.3 305.5M277.9 351 281 351 284 351.7 287 353.1 289.5 354.9 291.8 357.5 293.3 360 294.9 366 294.8 369.5 294.2 372.5 291.4 378 289 380.5 286.5 382.2 283.5 383.5 280.5 384 277.5 384 274.5 383.3 271.5 381.9 269 380 265.3 375 263.7 369 263.8 365.5 264.4 362.5 267.2 357 269.5 354.6 272 352.8 275 351.6 277.9 351M330.2 355.5 333.5 355.2 336.5 355.6 339.5 356.7 342.3 358.5 344.9 361 346.6 363.5 347.9 366.5 348.7 370 348.3 376.5 347.3 379.5 345.7 382.5 343.5 385.1 341 387 338 388.5 335 389.2 332 389.3 329 388.8 326 387.6 323.5 386 321.1 383.5 319.4 381 317.4 375 317.6 368.5 320 362.5 322 360 324.5 357.9 327.5 356.3 330.2 355.5" fill="none" stroke="#3e5e3e" stroke-width="1.1"/>
<path d="M305.6 302.5 309 302 312.5 302.2 316 303.3 319.5 305.2 322.1 307.5 324.5 310.5 326.2 314 327.2 317.5 327.6 321.5 327.2 325.5 326.2 329 324.5 332.5 322.1 335.5 319.5 337.8 316 339.7 312.5 340.8 309 341 305.5 340.5 302 339.2 299 337.3 296.5 334.9 294.4 332 292.8 328.5 291.9 325 291.6 321 292 317.5 293.2 313.5 294.7 310.5 297 307.6 299.5 305.4 302.5 303.6 305.6 302.5M276.7 348 280.5 347.8 284 348.4 287.5 349.8 290.5 351.8 293.3 354.5 295.3 357.5 296.9 361 297.8 365 297.9 369 297.3 372.5 296.1 376 294.1 379.5 291.5 382.4 288.5 384.6 285 386.3 281.5 387.1 278 387.2 274.5 386.5 271 385.1 268 383.1 265.3 380.5 263.3 377.5 261.7 374 260.8 370 260.7 366 261.3 362.5 262.7 358.5 264.5 355.5 267 352.7 270 350.4 273.5 348.8 276.7 348M328.9 352.5 332.5 352 336.5 352.4 340.5 353.7 343.5 355.5 346.3 358 348.6 361 350.4 364.5 351.5 368.5 351.8 372.5 351.4 376.5 350.2 380.5 348.4 384 346 387 343 389.5 339.5 391.4 336 392.3 332.5 392.6 329 392.1 325.5 390.9 322.5 389.1 319.6 386.5 317.3 383.5 315.6 380 314.6 376.5 314.2 373 314.4 369 315.3 365.5 317.1 361.5 319.2 358.5 322 355.8 325.5 353.7 328.9 352.5" fill="none" stroke="#3a5a3a" stroke-width="1.25"/>
</g>
<rect x="242.5" y="286.5" width="125.5" height="125.5" fill="none" stroke="#444" stroke-width="1.1"/>
<path d="M259.5 286.5 L259.5 286.4 L263 284.9 L266 282.2 L269 277.9 L275 267.3 L277 264.9 L278.5 264 L280 263.9 L282 265.3 L284 267.9 L290.5 278.5 L292.5 280.5 L294.5 281.3 L296.5 280.7 L298.5 278.9 L305.5 267.3 L307 265.4 L308.5 264.2 L310 263.9 L312 264.7 L318 271.6 L319.5 272.7 L321 273.2 L322.5 272.8 L324 271.7 L330.5 264 L333 263 L335 263.9 L337 266.2 L343.5 277.8 L346.5 282.1 L349.5 284.8 L353 286.4 L353 286.5" fill="#c5ddc5" stroke="#4a9a4a" stroke-width="1.1"/>
<path d="M368 303 L368.1 303 L369.1 306 L370.8 309 L378.3 318 L379.2 320 L379.4 321.5 L379.1 323.5 L378 325.5 L371.2 333.5 L368.9 337.5 L368.1 340 L368.1 347.5 L368.6 349.5 L370.2 352.5 L372.5 355 L376.4 358 L388.6 365.5 L390.9 368 L391.5 370 L390.7 372 L388.2 374.5 L376.9 381.5 L372.4 385 L369.6 388.5 L368.2 392 L368 392" fill="#c5ddc5" stroke="#4a9a4a" stroke-width="1.1"/>
<text x="236" y="350.2" font-family='"Liberation Sans", sans-serif' font-size="11.5" fill="#333" text-anchor="middle" textLength="63.5" lengthAdjust="spacingAndGlyphs" transform="rotate(-90 236 350.2)">Eigenvector 3</text>
<text x="305.2" y="422.5" font-family='"Liberation Sans", sans-serif' font-size="11.5" fill="#333" text-anchor="middle" textLength="62" lengthAdjust="spacingAndGlyphs">Eigenvector 2</text>
<clipPath id="clip436_286"><rect x="436.4" y="286.5" width="125.5" height="125.5"/></clipPath>
<rect x="436.4" y="286.5" width="125.5" height="125.5" fill="#f2f2f2"/>
<g clip-path="url(#clip436_286)">
<path d="M489.6 305 492.9 305 496.4 305.7 499.9 307.2 502.5 309 505 311.5 507.2 314.5 509.2 318.5 510.1 322 510.5 326 510.3 329.5 509.4 333 508 336 505.9 338.9 503.4 341.1 500.4 342.8 497.4 343.7 493.9 343.9 490.4 343.4 487.4 342.3 483.9 340.1 481.1 337.5 478.6 334 477.1 331 475.9 327 475.5 323.5 475.7 319.5 476.6 316 478.2 312.5 480.5 309.5 483.4 307.2 486.4 305.7 489.6 305ZM524.1 343 527.4 342.5 530.9 342.7 537.4 344.8 540.4 346.7 542.9 349 546.4 354.5 547.2 357.5 547.5 361 547.2 364 546.2 367 544.5 370 542.4 372.4 539.9 374.3 536.9 375.8 533.4 376.8 529.4 377.1 525.9 376.6 521.9 375.3 518.4 373.2 515.9 371 513.5 368 512 365 511 361.5 510.9 358 511.5 354.5 512.7 351.5 514.7 348.5 517.4 346 520.4 344.2 524.1 343ZM478.7 353.5 483.4 353 487.4 353.5 491.4 354.9 494.4 356.9 497 360 498.5 363.5 499 367 498.5 371 497 375 494.8 378.5 491.9 381.7 487.9 384.7 483.9 386.7 478.9 388.2 474.4 388.5 469.9 387.9 464.7 385.5 460.9 381.5 459.2 376.5 459.5 370.5 462.2 364.5 466.4 359.6 472.4 355.6 478.7 353.5Z" fill="#ebe9e8" fill-rule="evenodd"/>
<path d="M491.1 308 496.4 308.8 501.6 312 505.5 317 507.5 323 507.5 329 505.4 334.5 503.4 337 501.4 338.7 496.4 340.7 493.4 340.8 490.4 340.2 487.4 339 484.9 337.2 482.6 335 480.6 332 478.5 326 478.6 319.5 479.5 316.5 481.1 313.5 482.9 311.5 485.4 309.6 488.4 308.4 491.1 308ZM525.7 345.5 531.4 345.5 536.9 347.6 541.4 351.5 544 356.5 544.6 362 543 367 539.6 371 534.9 373.6 528.9 374.3 522.9 372.8 520.4 371.3 517.8 369 515.9 366.5 514.5 363.5 513.8 360.5 513.9 357.5 514.6 354.5 515.8 352 517.8 349.5 519.9 347.8 522.9 346.2 525.7 345.5ZM480.4 356 483.9 355.9 487.4 356.6 490.4 358 492.9 360.1 494.8 363 495.7 366 495.7 369 494.9 372.5 493.2 376 490.8 379 487.9 381.5 484.4 383.6 480.4 385.1 476.9 385.7 473.4 385.6 469.9 384.7 465.9 382.3 463.1 378.5 462.2 374 463.1 369 465.6 364.5 469.9 360.2 474.9 357.4 480.4 356Z" fill="#b9aca3" fill-rule="evenodd"/>
<path d="M489.5 311 494.4 311 498.9 313.1 502.4 316.6 504.7 321.5 505.3 326.5 504 331.5 501 335.5 496.9 337.7 491.9 337.8 487.4 335.9 483.5 332 481.2 327 480.8 322 482.1 317 485.3 313 489.5 311ZM525.8 348 530.4 347.8 534.9 349.2 538.6 352 541.2 356 542 360.5 541.1 365 538.4 368.7 534.4 371.1 529.4 371.9 524.4 370.8 519.9 367.7 517.2 363.5 516.4 358.5 517.6 354 520.9 350.2 525.8 348ZM480 358.5 482.9 358.4 485.9 359 488.4 360.1 490.7 362 492 364 492.8 366.5 493 369 492.3 372 490.9 375 489 377.5 483.9 381.3 477.9 383.1 474.9 383.2 471.9 382.6 468.4 380.7 465.9 377.5 465 373.5 465.7 369.5 467.9 365.5 470.9 362.4 475.4 359.7 480 358.5Z" fill="#ae9a8b" fill-rule="evenodd"/>
<path d="M489.7 313 493.4 312.8 497.4 314.2 500.9 317.5 502.9 321.5 503.5 326 502.4 330.5 499.9 333.9 496.4 335.8 492.4 336 488.4 334.4 485.2 331.5 483 327 482.5 322.5 483.7 318 486.4 314.7 489.7 313ZM527.5 349.5 531.4 349.8 535.4 351.5 538.4 354.5 539.9 358 540.1 362 538.7 365.5 535.9 368.3 532.4 369.9 527.9 370 523.7 368.5 520.3 365.5 518.4 361.5 518.4 357.5 520.1 353.5 523.4 350.7 527.5 349.5ZM478.5 360.5 483.4 360.3 485.9 361 487.9 362.2 489.6 364 490.6 366 490.8 370.5 490 373 488.4 375.5 484.4 379.1 478.9 381.2 473.9 381.2 470.9 380 468.3 377.5 467.1 374.5 467.2 371 468.6 367.5 471 364.5 474.4 362 478.5 360.5Z" fill="#a78e7e" fill-rule="evenodd"/>
<path d="M491.5 314.5 494.9 314.9 497.9 316.6 500.3 319.5 501.7 323 501.9 326.5 500.8 330 498.4 332.8 495.4 334.2 491.9 334.1 488.4 332.4 485.8 329.5 484.3 325.5 484.3 321.5 485.7 318 488.3 315.5 491.5 314.5ZM525.7 351.5 528.9 351 532.4 351.7 535.4 353.5 537.7 356.5 538.5 360 538.1 363 536.4 365.7 533.9 367.6 530.4 368.6 526.4 368 523.4 366.4 520.9 363.4 519.9 360 520.4 356.5 522.4 353.5 525.7 351.5ZM478.8 362 483.4 362 486.9 363.8 488.9 367 488.9 371 486.8 375 483.4 378 478.9 379.7 474.4 379.5 471.4 378.1 469.7 376 468.9 373.5 469.1 370.5 470.5 367.5 472.7 365 475.4 363.2 478.8 362Z" fill="#9e8371" fill-rule="evenodd"/>
<path d="M490.4 316.5 493.4 316.3 495.9 317.2 498.4 319.4 499.8 322 500.4 325 499.9 328 498.4 330.5 495.9 332.2 492.9 332.5 489.9 331.5 487.7 329.5 486.1 326.5 485.6 323.5 486.2 320.5 487.9 318 490.4 316.5ZM526.2 353 528.9 352.6 531.9 353.2 534.2 354.5 535.9 356.6 536.8 359 536.6 362 535.4 364.4 533.4 366.1 530.4 367 527.4 366.8 524.4 365.2 522.5 363 521.5 360 522 357 523.7 354.5 526.2 353ZM479.1 363.5 482.4 363.5 485.5 365 487.1 367.5 487.2 371 485.4 374.3 482.4 376.8 478.4 378.2 474.9 377.9 472.9 376.9 471.3 375 470.7 373 470.9 370.5 472.1 368 473.9 366 476.4 364.4 479.1 363.5Z" fill="#977966" fill-rule="evenodd"/>
<path d="M491.7 318 493.9 318.1 495.9 319.1 497.4 320.7 498.5 323 498.8 325.5 498.1 328 496.9 329.6 494.9 330.7 492.4 330.7 490.4 329.9 488.5 328 487.4 325.5 487.2 323 488.1 320.5 489.4 319 491.7 318ZM526.7 354.5 528.9 354.1 531.2 354.5 533.4 355.9 534.6 357.5 535.2 359.5 535.1 361.5 534 363.5 532.4 364.8 530.4 365.5 527.9 365.3 525.4 364.1 523.9 362.3 523.2 360 523.4 357.8 524.5 356 526.7 354.5ZM479.4 365 482.4 365.3 484.4 366.5 485.5 368.5 485.4 371 484.1 373.5 481.8 375.5 478.9 376.6 475.9 376.4 474 375.5 472.9 374.1 472.4 372.5 472.6 370.5 473.6 368.5 475 367 476.9 365.7 479.4 365Z" fill="#8f705b" fill-rule="evenodd"/>
<path d="M490.8 320 492.4 319.5 494.4 320 495.8 321 496.9 322.5 497.4 324.5 497.1 326.5 496.2 328 494.9 329 491.9 329 490.4 328 489.2 326.5 488.7 324.5 488.8 322.5 489.6 321 490.8 320ZM528.8 355.5 532 356.5 533.2 358 533.7 359.5 533.6 361 532.9 362.5 530.4 364 528.4 364 526.9 363.4 525.4 362 524.7 360.5 524.8 358.5 525.6 357 526.9 356 528.8 355.5ZM478.9 366.5 481.1 366.5 482.9 367.4 483.9 369 483.8 371 482.7 373 480.9 374.4 478.9 375.1 476.9 375.1 474.5 373.5 474.1 371 475.9 368 478.9 366.5Z" fill="#6c5547" fill-rule="evenodd"/>
<path d="M491.3 321.5 492.4 321.1 493.9 321.3 495.6 323 495.9 325.5 494.4 327.5 492.2 327.5 490.4 325.7 490.1 323.5 491.3 321.5ZM528.1 357 530.4 357.2 532.1 359 532.1 361 530.5 362.5 528.1 362.5 526.4 361 526.3 358.5 528.1 357ZM478.4 368 479.9 367.8 481.4 368.3 482.1 369 482.4 370.5 481.8 372 480.8 373 477.9 373.8 476.2 373 475.6 371 476.4 369.4 478.4 368Z" fill="#141110" fill-rule="evenodd"/>
<path d="M492.8 323.5 493.7 324 493.8 324.5 493.4 325.2 492.4 325 492.2 324.5 492.2 324 492.8 323.5ZM528.9 359 529.4 359 530 359.5 530 360 529.7 360.5 528.9 360.6 528.4 360 528.4 359.5 528.9 359ZM478.9 370 479.5 370 479.9 370.5 479.9 371 478.9 371.6 478.3 371.5 478.1 371 478.9 370Z" fill="#b87448"/>
<path d="M491.3 321.5 492.4 321.1 493.9 321.3 495.6 323 495.9 325.5 494.4 327.5 492.2 327.5 490.4 325.7 490.1 323.5 491.3 321.5M528.1 357 530.4 357.2 532.1 359 532.1 361 530.5 362.5 528.1 362.5 526.4 361 526.3 358.5 528.1 357M478.4 368 479.9 367.8 481.4 368.3 482.1 369 482.4 370.5 481.8 372 480.8 373 477.9 373.8 476.2 373 475.6 371 476.4 369.4 478.4 368" fill="none" stroke="#050505" stroke-width="1.0"/>
<path d="M490.8 320 492.4 319.5 494.4 320 495.8 321 496.9 322.5 497.4 324.5 497.1 326.5 496.2 328 494.9 329 491.9 329 490.4 328 489.2 326.5 488.7 324.5 488.8 322.5 489.6 321 490.8 320M528.8 355.5 532 356.5 533.2 358 533.7 359.5 533.6 361 532.9 362.5 530.4 364 528.4 364 526.9 363.4 525.4 362 524.7 360.5 524.8 358.5 525.6 357 526.9 356 528.8 355.5M478.9 366.5 481.1 366.5 482.9 367.4 483.9 369 483.8 371 482.7 373 480.9 374.4 478.9 375.1 476.9 375.1 474.5 373.5 474.1 371 475.9 368 478.9 366.5" fill="none" stroke="#b07a58" stroke-width="0.8"/>
<path d="M491.7 318 493.9 318.1 495.9 319.1 497.4 320.7 498.5 323 498.8 325.5 498.1 328 496.9 329.6 494.9 330.7 492.4 330.7 490.4 329.9 488.5 328 487.4 325.5 487.2 323 488.1 320.5 489.4 319 491.7 318M526.7 354.5 528.9 354.1 531.2 354.5 533.4 355.9 534.6 357.5 535.2 359.5 535.1 361.5 534 363.5 532.4 364.8 530.4 365.5 527.9 365.3 525.4 364.1 523.9 362.3 523.2 360 523.4 357.8 524.5 356 526.7 354.5M479.4 365 482.4 365.3 484.4 366.5 485.5 368.5 485.4 371 484.1 373.5 481.8 375.5 478.9 376.6 475.9 376.4 474 375.5 472.9 374.1 472.4 372.5 472.6 370.5 473.6 368.5 475 367 476.9 365.7 479.4 365" fill="none" stroke="#b69684" stroke-width="0.6"/>
<path d="M490.4 316.5 493.4 316.3 495.9 317.2 498.4 319.4 499.8 322 500.4 325 499.9 328 498.4 330.5 495.9 332.2 492.9 332.5 489.9 331.5 487.7 329.5 486.1 326.5 485.6 323.5 486.2 320.5 487.9 318 490.4 316.5M526.2 353 528.9 352.6 531.9 353.2 534.2 354.5 535.9 356.6 536.8 359 536.6 362 535.4 364.4 533.4 366.1 530.4 367 527.4 366.8 524.4 365.2 522.5 363 521.5 360 522 357 523.7 354.5 526.2 353M479.1 363.5 482.4 363.5 485.5 365 487.1 367.5 487.2 371 485.4 374.3 482.4 376.8 478.4 378.2 474.9 377.9 472.9 376.9 471.3 375 470.7 373 470.9 370.5 472.1 368 473.9 366 476.4 364.4 479.1 363.5" fill="none" stroke="#bca190" stroke-width="0.6"/>
<path d="M491.5 314.5 494.9 314.9 497.9 316.6 500.3 319.5 501.7 323 501.9 326.5 500.8 330 498.4 332.8 495.4 334.2 491.9 334.1 488.4 332.4 485.8 329.5 484.3 325.5 484.3 321.5 485.7 318 488.3 315.5 491.5 314.5M525.7 351.5 528.9 351 532.4 351.7 535.4 353.5 537.7 356.5 538.5 360 538.1 363 536.4 365.7 533.9 367.6 530.4 368.6 526.4 368 523.4 366.4 520.9 363.4 519.9 360 520.4 356.5 522.4 353.5 525.7 351.5M478.8 362 483.4 362 486.9 363.8 488.9 367 488.9 371 486.8 375 483.4 378 478.9 379.7 474.4 379.5 471.4 378.1 469.7 376 468.9 373.5 469.1 370.5 470.5 367.5 472.7 365 475.4 363.2 478.8 362" fill="none" stroke="#c2ab9c" stroke-width="0.6"/>
<path d="M489.7 313 493.4 312.8 497.4 314.2 500.9 317.5 502.9 321.5 503.5 326 502.4 330.5 499.9 333.9 496.4 335.8 492.4 336 488.4 334.4 485.2 331.5 483 327 482.5 322.5 483.7 318 486.4 314.7 489.7 313M527.5 349.5 531.4 349.8 535.4 351.5 538.4 354.5 539.9 358 540.1 362 538.7 365.5 535.9 368.3 532.4 369.9 527.9 370 523.7 368.5 520.3 365.5 518.4 361.5 518.4 357.5 520.1 353.5 523.4 350.7 527.5 349.5M478.5 360.5 483.4 360.3 485.9 361 487.9 362.2 489.6 364 490.6 366 490.8 370.5 490 373 488.4 375.5 484.4 379.1 478.9 381.2 473.9 381.2 470.9 380 468.3 377.5 467.1 374.5 467.2 371 468.6 367.5 471 364.5 474.4 362 478.5 360.5" fill="none" stroke="#807068" stroke-width="0.7"/>
<path d="M489.5 311 494.4 311 498.9 313.1 502.4 316.6 504.7 321.5 505.3 326.5 504 331.5 501 335.5 496.9 337.7 491.9 337.8 487.4 335.9 483.5 332 481.2 327 480.8 322 482.1 317 485.3 313 489.5 311M525.8 348 530.4 347.8 534.9 349.2 538.6 352 541.2 356 542 360.5 541.1 365 538.4 368.7 534.4 371.1 529.4 371.9 524.4 370.8 519.9 367.7 517.2 363.5 516.4 358.5 517.6 354 520.9 350.2 525.8 348M480 358.5 482.9 358.4 485.9 359 488.4 360.1 490.7 362 492 364 492.8 366.5 493 369 492.3 372 490.9 375 489 377.5 483.9 381.3 477.9 383.1 474.9 383.2 471.9 382.6 468.4 380.7 465.9 377.5 465 373.5 465.7 369.5 467.9 365.5 470.9 362.4 475.4 359.7 480 358.5" fill="none" stroke="#686060" stroke-width="0.8"/>
<path d="M491.1 308 496.4 308.8 501.6 312 505.5 317 507.5 323 507.5 329 505.4 334.5 503.4 337 501.4 338.7 496.4 340.7 493.4 340.8 490.4 340.2 487.4 339 484.9 337.2 482.6 335 480.6 332 478.5 326 478.6 319.5 479.5 316.5 481.1 313.5 482.9 311.5 485.4 309.6 488.4 308.4 491.1 308M525.7 345.5 531.4 345.5 536.9 347.6 541.4 351.5 544 356.5 544.6 362 543 367 539.6 371 534.9 373.6 528.9 374.3 522.9 372.8 520.4 371.3 517.8 369 515.9 366.5 514.5 363.5 513.8 360.5 513.9 357.5 514.6 354.5 515.8 352 517.8 349.5 519.9 347.8 522.9 346.2 525.7 345.5M480.4 356 483.9 355.9 487.4 356.6 490.4 358 492.9 360.1 494.8 363 495.7 366 495.7 369 494.9 372.5 493.2 376 490.8 379 487.9 381.5 484.4 383.6 480.4 385.1 476.9 385.7 473.4 385.6 469.9 384.7 465.9 382.3 463.1 378.5 462.2 374 463.1 369 465.6 364.5 469.9 360.2 474.9 357.4 480.4 356" fill="none" stroke="#505050" stroke-width="1.1"/>
<path d="M489.6 305 492.9 305 496.4 305.7 499.9 307.2 502.5 309 505 311.5 507.2 314.5 509.2 318.5 510.1 322 510.5 326 510.3 329.5 509.4 333 508 336 505.9 338.9 503.4 341.1 500.4 342.8 497.4 343.7 493.9 343.9 490.4 343.4 487.4 342.3 483.9 340.1 481.1 337.5 478.6 334 477.1 331 475.9 327 475.5 323.5 475.7 319.5 476.6 316 478.2 312.5 480.5 309.5 483.4 307.2 486.4 305.7 489.6 305M524.1 343 527.4 342.5 530.9 342.7 537.4 344.8 540.4 346.7 542.9 349 546.4 354.5 547.2 357.5 547.5 361 547.2 364 546.2 367 544.5 370 542.4 372.4 539.9 374.3 536.9 375.8 533.4 376.8 529.4 377.1 525.9 376.6 521.9 375.3 518.4 373.2 515.9 371 513.5 368 512 365 511 361.5 510.9 358 511.5 354.5 512.7 351.5 514.7 348.5 517.4 346 520.4 344.2 524.1 343M478.7 353.5 483.4 353 487.4 353.5 491.4 354.9 494.4 356.9 497 360 498.5 363.5 499 367 498.5 371 497 375 494.8 378.5 491.9 381.7 487.9 384.7 483.9 386.7 478.9 388.2 474.4 388.5 469.9 387.9 464.7 385.5 460.9 381.5 459.2 376.5 459.5 370.5 462.2 364.5 466.4 359.6 472.4 355.6 478.7 353.5" fill="none" stroke="#484848" stroke-width="1.25"/>
</g>
<rect x="436.4" y="286.5" width="125.5" height="125.5" fill="none" stroke="#444" stroke-width="1.1"/>
<path d="M458.9 286.5 L458.9 286.4 L462.4 285.1 L465.9 282.5 L468.9 279.3 L475.4 270.9 L478.9 267.6 L484.4 264.4 L487.4 263.3 L489.4 263 L491.9 263.6 L494.4 265.8 L496.9 269.3 L503.4 280.4 L505.9 283.3 L508.4 285 L511.9 285.5 L515.4 284 L518.4 281.2 L525.4 272.4 L527.4 270.9 L529.4 270.4 L530.9 270.8 L532.9 272.3 L541.9 283.2 L544.4 285.1 L547.4 286.3 L547.4 286.5" fill="#bababa" stroke="#3a3a3a" stroke-width="1.1"/>
<path d="M561.9 305.5 L562.1 305.5 L563.2 308.5 L564.8 311 L574.1 320 L575.5 322 L576.2 324 L575.9 326 L574.7 328 L566.9 335.5 L564.5 338.5 L563.1 342 L563.5 345 L564.9 347.5 L567.5 350 L579.2 357.5 L582.5 360 L584.5 362.5 L585.4 365.5 L584.8 368 L583 370.5 L579.2 373.5 L570.4 379 L566.4 382 L563.7 385 L562 388.5 L561.9 388.5" fill="#bababa" stroke="#3a3a3a" stroke-width="1.1"/>
<text x="429.9" y="350.2" font-family='"Liberation Sans", sans-serif' font-size="11.5" fill="#333" text-anchor="middle" textLength="63.5" lengthAdjust="spacingAndGlyphs" transform="rotate(-90 429.9 350.2)">Eigenvector 3</text>
<text x="499.1" y="422.5" font-family='"Liberation Sans", sans-serif' font-size="11.5" fill="#333" text-anchor="middle" textLength="62" lengthAdjust="spacingAndGlyphs">Eigenvector 2</text>
<clipPath id="clip606_286"><rect x="606.5" y="286.5" width="125.5" height="125.5"/></clipPath>
<rect x="606.5" y="286.5" width="125.5" height="125.5" fill="#e6fce6"/>
<g clip-path="url(#clip606_286)">
<path d="M658.2 305.5 661.5 305.5 665 306.1 668.5 307.6 671.5 309.6 674 312 676.2 315 677.9 318.5 679 322.5 679.3 326.5 678.9 330.5 677.8 334 676.2 337 674 339.7 671.5 341.8 668.5 343.4 665 344.4 661.5 344.6 658 344.1 654.5 342.8 651 340.6 648.2 338 645.7 334.5 644.1 331 643.2 327.5 642.9 323.5 643.3 319.5 644.6 315.5 646.4 312.5 648.5 310 651.5 307.7 654.5 306.3 658.2 305.5ZM695.6 344 699 344 702.5 344.7 705.5 345.9 708.5 347.8 711 350.2 713.2 353 714.9 356.5 715.9 360 716.2 364 715.8 367.5 714.7 371 713.1 374 711 376.6 708.5 378.6 705.5 380.2 702 381.2 698 381.5 694.5 380.9 691.5 379.8 688 377.6 685.2 375 683 372 681.3 368.5 680.4 365 680.2 361 680.6 357.5 681.8 354 683.5 351 686 348.2 689 346.1 692 344.7 695.6 344ZM649.4 355 654 355.2 658 356.3 661.5 358.2 664.5 361 666.3 364 667.4 368 667.4 372.5 666.3 376.5 664.3 380.5 661.5 384 658 387.1 653.5 389.8 649.5 391.4 644.5 392.3 640 392.3 635.5 391.2 632.5 389.8 630.2 388 628 385.5 626.7 383 625.9 380 625.6 377 626.8 371 630.3 365 636 359.7 642.5 356.4 649.4 355Z" fill="#b2f2b2" fill-rule="evenodd"/>
<path d="M656.5 309 659.5 308.5 662.5 308.7 668 310.8 672.7 315 674.6 318 675.7 321 676.4 327.5 674.7 333.5 673.1 336 671 338.2 666 340.9 663 341.5 660 341.3 654.5 339.4 649.9 335.5 647.9 332.5 646.6 329.5 645.8 323 647.3 317 648.7 314.5 651 312 653.5 310.2 656.5 309ZM695.7 347 701.5 347.5 704.5 348.7 707 350.3 711.1 355 713.1 360.5 713.1 366.5 710.9 372 707 376 704.5 377.4 701.5 378.3 698.5 378.5 695.5 378.1 690 375.6 685.7 371 684.2 368 683.3 365 683 361.5 683.4 358.5 685.8 353 690 349 692.5 347.8 695.7 347ZM648.6 358 652.5 358.1 656 359 659 360.5 661.6 363 663.4 366 664.1 369 664.1 372.5 663.2 376 661.4 379.5 659 382.5 656 385.1 652.5 387.2 648.5 388.7 644.5 389.4 640.5 389.3 637 388.3 632.6 385.5 629.9 381.5 629 376.5 630 371.5 632.8 366.5 637 362.4 642.5 359.4 648.6 358Z" fill="#66cc66" fill-rule="evenodd"/>
<path d="M658 311.5 663 311.6 667.5 313.6 671.3 317.5 673.5 322.5 673.8 327.5 672.2 332.5 669 336.3 664.5 338.4 659.5 338.5 654.5 336.3 650.9 332.5 648.7 327.5 648.5 322 650.3 317 653.5 313.5 658 311.5ZM694.3 350 699 349.6 704 351.3 707.7 354.5 710.1 359 710.8 364 709.6 369 706.5 373 702.5 375.3 697.5 375.8 693 374.4 688.8 371 686.3 366.5 685.6 361.5 686.8 356.5 690 352.3 694.3 350ZM645.8 361 649 360.6 652 360.8 655 361.7 657.5 363.2 659.3 365 660.7 367.5 661.3 370.5 661 373.5 660.1 376.5 658.5 379.2 656.5 381.5 653.5 383.8 647.5 386.4 644 386.8 641 386.6 636.8 385 633.6 382 632.1 378.5 632.1 374 633.9 369.5 637 365.6 641 362.8 645.8 361Z" fill="#52c252" fill-rule="evenodd"/>
<path d="M658.2 313.5 662.5 313.5 666.5 315.1 669.8 318.5 671.6 322.5 672 327 670.8 331 668.1 334.5 664.5 336.4 660 336.6 656 335 652.7 332 650.6 327.5 650.2 323 651.6 318.5 654.5 315.2 658.2 313.5ZM696.4 351.5 700.5 351.8 704.5 353.9 707.2 357 708.8 361 708.8 365.5 707.1 369.5 704.5 372.2 700.5 373.8 696.5 373.7 692.5 372 689.2 368.5 687.6 364.5 687.6 360 689.2 356 692.5 352.8 696.4 351.5ZM648.1 362.5 651 362.6 653.5 363.3 657.3 366 658.5 368 659.1 370.5 659.1 373 658.4 375.5 655.4 380 650.5 383.5 645 384.9 640 384.2 637 382.5 634.8 379.5 634 376 634.8 372 636.8 368.5 640 365.5 644 363.4 648.1 362.5Z" fill="#47bb47" fill-rule="evenodd"/>
<path d="M657.7 315.5 661.5 315.1 665 316.2 667.8 318.5 669.8 322 670.4 326 669.6 329.5 667.5 332.6 664.5 334.5 661 335 657.5 333.9 654.4 331.5 652.4 328 651.8 324 652.6 320.5 654.6 317.5 657.7 315.5ZM695.3 353.5 698.5 353.2 702 354.2 705 356.6 706.9 360 707.4 363.5 706.6 367 704.5 370 701.5 371.8 698 372.2 694.5 371.3 691.5 368.9 689.6 365.5 689.1 361.5 690 358 692 355.3 695.3 353.5ZM645.9 364.5 650.5 364.3 654.5 366 655.9 367.5 656.9 369.5 657.1 373.5 655.4 377.5 651.7 381 647 383 642.5 383 639.5 381.9 637.4 380 636.1 377 636.1 374 637.2 371 639.5 368 642.5 365.8 645.9 364.5Z" fill="#3cab3c" fill-rule="evenodd"/>
<path d="M658.9 317 661.5 316.8 664.5 317.9 666.9 320 668.4 323 668.7 326 668 329 666.1 331.5 663.5 333 660.5 333.1 657.5 332 655.3 330 653.8 327 653.5 323.5 654.5 320.5 656.5 318.1 658.9 317ZM696.2 355 699 354.9 702 356.1 704 358 705.5 361 705.7 364 704.7 367 703 369 700.5 370.3 697.5 370.5 694.5 369.4 692.4 367.5 690.9 364.5 690.7 361.5 691.6 358.5 693.5 356.3 696.2 355ZM646.6 366 650.5 366.1 653.5 367.7 655.2 370.5 655.2 374 653.5 377.3 650.5 379.9 647 381.3 643 381.4 640.5 380.3 638.7 378.5 637.8 376 638 373.5 639.1 371 641 368.7 643.5 367 646.6 366Z" fill="#349b34" fill-rule="evenodd"/>
<path d="M658.5 319 660.5 318.5 663 319 665 320.3 666.5 322.5 667.1 325 666.8 327.5 665.5 329.7 663.5 331.1 661.5 331.5 659 330.9 657 329.5 655.7 327.5 655.1 325 655.4 322.5 656.5 320.5 658.5 319ZM697.4 356.5 700 356.9 701.9 358 703.4 360 704.1 362 704 364.5 703.1 366.5 701.5 368 699.5 368.8 697 368.7 695 367.8 693.3 366 692.3 363.5 692.4 361 693.5 358.6 695.5 357 697.4 356.5ZM648 367.5 651 368.2 652.9 370 653.5 372.5 653 375 651.1 377.5 648.5 379.2 645.5 379.9 642.5 379.3 641 378.3 639.9 376.5 639.7 374.5 640.2 372.5 641.5 370.5 643.5 368.8 645.5 367.9 648 367.5Z" fill="#2d8b2d" fill-rule="evenodd"/>
<path d="M659.1 320.5 661 320.1 662.5 320.5 664 321.4 665.1 323 665.6 325 665.3 327 664.5 328.5 663 329.6 661.5 329.9 659.5 329.5 658 328.4 657 326.8 656.6 325 656.9 323 657.7 321.5 659.1 320.5ZM696 358.5 697.5 358 699.5 358.3 701 359.2 702.1 360.5 702.6 362 702.6 364 701.9 365.5 700.5 366.8 699 367.3 697 367.1 694.4 365 693.8 363.5 693.8 361.5 694.5 359.9 696 358.5ZM645.3 369.5 647.5 369 649.8 369.5 651 370.5 651.8 372.5 651.5 374.5 650.1 376.5 648 377.9 646 378.4 642.8 377.5 641.9 376.5 641.4 375 642.2 372 643.6 370.5 645.3 369.5Z" fill="#1f6c1f" fill-rule="evenodd"/>
<path d="M659.6 322 662 321.9 663.8 323.5 664.1 326 662.5 328.1 660 328 658.4 326.5 658.1 324 659.6 322ZM696.4 360 698.5 359.5 700.7 361 701.2 363.5 700 365.4 698 365.9 695.8 364.5 695.2 362 696.4 360ZM645.4 371 648 370.6 649.9 372 649.8 374.5 647.5 376.6 646 376.9 644.5 376.6 643.1 375 643.5 372.7 645.4 371Z" fill="#031e03" fill-rule="evenodd"/>
<path d="M660.4 324.5 661 324.1 661.5 324.2 662 325 661.8 325.5 661 325.9 660.5 325.6 660.4 324.5ZM697.7 362 698.5 361.9 699 362.4 699 363 698.6 363.5 698 363.6 697.5 363.2 697.4 362.5 697.7 362ZM646.2 373 647 372.8 647.5 373.2 647.5 374 647 374.4 646 374.5 645.6 374 646.2 373Z" fill="#8a7a48"/>
<path d="M659.6 322 662 321.9 663.8 323.5 664.1 326 662.5 328.1 660 328 658.4 326.5 658.1 324 659.6 322M696.4 360 698.5 359.5 700.7 361 701.2 363.5 700 365.4 698 365.9 695.8 364.5 695.2 362 696.4 360M645.4 371 648 370.6 649.9 372 649.8 374.5 647.5 376.6 646 376.9 644.5 376.6 643.1 375 643.5 372.7 645.4 371" fill="none" stroke="#050505" stroke-width="1.0"/>
<path d="M659.1 320.5 661 320.1 662.5 320.5 664 321.4 665.1 323 665.6 325 665.3 327 664.5 328.5 663 329.6 661.5 329.9 659.5 329.5 658 328.4 657 326.8 656.6 325 656.9 323 657.7 321.5 659.1 320.5M696 358.5 697.5 358 699.5 358.3 701 359.2 702.1 360.5 702.6 362 702.6 364 701.9 365.5 700.5 366.8 699 367.3 697 367.1 694.4 365 693.8 363.5 693.8 361.5 694.5 359.9 696 358.5M645.3 369.5 647.5 369 649.8 369.5 651 370.5 651.8 372.5 651.5 374.5 650.1 376.5 648 377.9 646 378.4 642.8 377.5 641.9 376.5 641.4 375 642.2 372 643.6 370.5 645.3 369.5" fill="none" stroke="#948650" stroke-width="0.8"/>
<path d="M658.5 319 660.5 318.5 663 319 665 320.3 666.5 322.5 667.1 325 666.8 327.5 665.5 329.7 663.5 331.1 661.5 331.5 659 330.9 657 329.5 655.7 327.5 655.1 325 655.4 322.5 656.5 320.5 658.5 319M697.4 356.5 700 356.9 701.9 358 703.4 360 704.1 362 704 364.5 703.1 366.5 701.5 368 699.5 368.8 697 368.7 695 367.8 693.3 366 692.3 363.5 692.4 361 693.5 358.6 695.5 357 697.4 356.5M648 367.5 651 368.2 652.9 370 653.5 372.5 653 375 651.1 377.5 648.5 379.2 645.5 379.9 642.5 379.3 641 378.3 639.9 376.5 639.7 374.5 640.2 372.5 641.5 370.5 643.5 368.8 645.5 367.9 648 367.5" fill="none" stroke="#88944a" stroke-width="0.6"/>
<path d="M658.9 317 661.5 316.8 664.5 317.9 666.9 320 668.4 323 668.7 326 668 329 666.1 331.5 663.5 333 660.5 333.1 657.5 332 655.3 330 653.8 327 653.5 323.5 654.5 320.5 656.5 318.1 658.9 317M696.2 355 699 354.9 702 356.1 704 358 705.5 361 705.7 364 704.7 367 703 369 700.5 370.3 697.5 370.5 694.5 369.4 692.4 367.5 690.9 364.5 690.7 361.5 691.6 358.5 693.5 356.3 696.2 355M646.6 366 650.5 366.1 653.5 367.7 655.2 370.5 655.2 374 653.5 377.3 650.5 379.9 647 381.3 643 381.4 640.5 380.3 638.7 378.5 637.8 376 638 373.5 639.1 371 641 368.7 643.5 367 646.6 366" fill="none" stroke="#78b050" stroke-width="0.6"/>
<path d="M657.7 315.5 661.5 315.1 665 316.2 667.8 318.5 669.8 322 670.4 326 669.6 329.5 667.5 332.6 664.5 334.5 661 335 657.5 333.9 654.4 331.5 652.4 328 651.8 324 652.6 320.5 654.6 317.5 657.7 315.5M695.3 353.5 698.5 353.2 702 354.2 705 356.6 706.9 360 707.4 363.5 706.6 367 704.5 370 701.5 371.8 698 372.2 694.5 371.3 691.5 368.9 689.6 365.5 689.1 361.5 690 358 692 355.3 695.3 353.5M645.9 364.5 650.5 364.3 654.5 366 655.9 367.5 656.9 369.5 657.1 373.5 655.4 377.5 651.7 381 647 383 642.5 383 639.5 381.9 637.4 380 636.1 377 636.1 374 637.2 371 639.5 368 642.5 365.8 645.9 364.5" fill="none" stroke="#80d880" stroke-width="0.6"/>
<path d="M658.2 313.5 662.5 313.5 666.5 315.1 669.8 318.5 671.6 322.5 672 327 670.8 331 668.1 334.5 664.5 336.4 660 336.6 656 335 652.7 332 650.6 327.5 650.2 323 651.6 318.5 654.5 315.2 658.2 313.5M696.4 351.5 700.5 351.8 704.5 353.9 707.2 357 708.8 361 708.8 365.5 707.1 369.5 704.5 372.2 700.5 373.8 696.5 373.7 692.5 372 689.2 368.5 687.6 364.5 687.6 360 689.2 356 692.5 352.8 696.4 351.5M648.1 362.5 651 362.6 653.5 363.3 657.3 366 658.5 368 659.1 370.5 659.1 373 658.4 375.5 655.4 380 650.5 383.5 645 384.9 640 384.2 637 382.5 634.8 379.5 634 376 634.8 372 636.8 368.5 640 365.5 644 363.4 648.1 362.5" fill="none" stroke="#5a8a5a" stroke-width="0.7"/>
<path d="M658 311.5 663 311.6 667.5 313.6 671.3 317.5 673.5 322.5 673.8 327.5 672.2 332.5 669 336.3 664.5 338.4 659.5 338.5 654.5 336.3 650.9 332.5 648.7 327.5 648.5 322 650.3 317 653.5 313.5 658 311.5M694.3 350 699 349.6 704 351.3 707.7 354.5 710.1 359 710.8 364 709.6 369 706.5 373 702.5 375.3 697.5 375.8 693 374.4 688.8 371 686.3 366.5 685.6 361.5 686.8 356.5 690 352.3 694.3 350M645.8 361 649 360.6 652 360.8 655 361.7 657.5 363.2 659.3 365 660.7 367.5 661.3 370.5 661 373.5 660.1 376.5 658.5 379.2 656.5 381.5 653.5 383.8 647.5 386.4 644 386.8 641 386.6 636.8 385 633.6 382 632.1 378.5 632.1 374 633.9 369.5 637 365.6 641 362.8 645.8 361" fill="none" stroke="#4a704a" stroke-width="0.8"/>
<path d="M656.5 309 659.5 308.5 662.5 308.7 668 310.8 672.7 315 674.6 318 675.7 321 676.4 327.5 674.7 333.5 673.1 336 671 338.2 666 340.9 663 341.5 660 341.3 654.5 339.4 649.9 335.5 647.9 332.5 646.6 329.5 645.8 323 647.3 317 648.7 314.5 651 312 653.5 310.2 656.5 309M695.7 347 701.5 347.5 704.5 348.7 707 350.3 711.1 355 713.1 360.5 713.1 366.5 710.9 372 707 376 704.5 377.4 701.5 378.3 698.5 378.5 695.5 378.1 690 375.6 685.7 371 684.2 368 683.3 365 683 361.5 683.4 358.5 685.8 353 690 349 692.5 347.8 695.7 347M648.6 358 652.5 358.1 656 359 659 360.5 661.6 363 663.4 366 664.1 369 664.1 372.5 663.2 376 661.4 379.5 659 382.5 656 385.1 652.5 387.2 648.5 388.7 644.5 389.4 640.5 389.3 637 388.3 632.6 385.5 629.9 381.5 629 376.5 630 371.5 632.8 366.5 637 362.4 642.5 359.4 648.6 358" fill="none" stroke="#3e5e3e" stroke-width="1.1"/>
<path d="M658.2 305.5 661.5 305.5 665 306.1 668.5 307.6 671.5 309.6 674 312 676.2 315 677.9 318.5 679 322.5 679.3 326.5 678.9 330.5 677.8 334 676.2 337 674 339.7 671.5 341.8 668.5 343.4 665 344.4 661.5 344.6 658 344.1 654.5 342.8 651 340.6 648.2 338 645.7 334.5 644.1 331 643.2 327.5 642.9 323.5 643.3 319.5 644.6 315.5 646.4 312.5 648.5 310 651.5 307.7 654.5 306.3 658.2 305.5M695.6 344 699 344 702.5 344.7 705.5 345.9 708.5 347.8 711 350.2 713.2 353 714.9 356.5 715.9 360 716.2 364 715.8 367.5 714.7 371 713.1 374 711 376.6 708.5 378.6 705.5 380.2 702 381.2 698 381.5 694.5 380.9 691.5 379.8 688 377.6 685.2 375 683 372 681.3 368.5 680.4 365 680.2 361 680.6 357.5 681.8 354 683.5 351 686 348.2 689 346.1 692 344.7 695.6 344M649.4 355 654 355.2 658 356.3 661.5 358.2 664.5 361 666.3 364 667.4 368 667.4 372.5 666.3 376.5 664.3 380.5 661.5 384 658 387.1 653.5 389.8 649.5 391.4 644.5 392.3 640 392.3 635.5 391.2 632.5 389.8 630.2 388 628 385.5 626.7 383 625.9 380 625.6 377 626.8 371 630.3 365 636 359.7 642.5 356.4 649.4 355" fill="none" stroke="#3a5a3a" stroke-width="1.25"/>
</g>
<rect x="606.5" y="286.5" width="125.5" height="125.5" fill="none" stroke="#444" stroke-width="1.1"/>
<path d="M625.5 286.5 L625.5 286.4 L629.5 284.9 L633 282.3 L642.5 270.9 L646.5 267.1 L652 264.2 L657 263 L660 263.8 L662.5 265.9 L672 280.6 L674.5 283.4 L677.5 285.2 L681 285.5 L684.5 283.9 L688 280.4 L694.5 271.6 L696.5 269.9 L698.5 269.5 L700 270 L702 271.7 L708.5 280.6 L711 283.3 L713.5 285.2 L716.5 286.4 L716.5 286.5" fill="#c5ddc5" stroke="#4a9a4a" stroke-width="1.1"/>
<path d="M732 306 L732.2 306 L733.3 309 L734.8 311.5 L744.3 321 L745.6 323 L746 325 L745.6 327 L744.3 329 L737 336 L734.3 339.5 L732.9 343.5 L733.5 347 L734.8 349.5 L737.7 352.5 L749 360.5 L752.6 363.5 L754.9 366.5 L755.5 369 L754.8 371.5 L752.3 374.5 L739.7 383 L736 386 L733.6 389 L732.1 392.5 L732 392.5" fill="#c5ddc5" stroke="#4a9a4a" stroke-width="1.1"/>
<text x="600" y="350.2" font-family='"Liberation Sans", sans-serif' font-size="11.5" fill="#333" text-anchor="middle" textLength="63.5" lengthAdjust="spacingAndGlyphs" transform="rotate(-90 600 350.2)">Eigenvector 3</text>
<text x="669.2" y="422.5" font-family='"Liberation Sans", sans-serif' font-size="11.5" fill="#333" text-anchor="middle" textLength="62" lengthAdjust="spacingAndGlyphs">Eigenvector 2</text>
<clipPath id="clip800_286"><rect x="800.5" y="286.5" width="125.5" height="125.5"/></clipPath>
<rect x="800.5" y="286.5" width="125.5" height="125.5" fill="#f2f2f2"/>
<g clip-path="url(#clip800_286)">
<path d="M848.2 305.5 851.5 305.1 855 305.4 858.5 306.3 862 308.2 865 310.6 867.8 314 869.7 317.5 870.8 321 871.3 324.5 871.1 328.5 870.3 332 868.8 335.5 866.8 338.5 864 341.2 861 343.1 857.5 344.4 854 344.9 850 344.6 846.5 343.6 843 341.7 840 339.2 837.7 336.5 835.8 333 834.4 329 833.9 325 834.2 321 835.2 317 836.6 314 838.8 311 841.5 308.6 844.5 306.8 848.2 305.5ZM886.3 347.5 890 347.3 894 347.8 897.5 348.8 901 350.6 904 352.9 906.5 355.5 908.8 359 910 362 910.8 365.5 911 369 910.4 372.5 909.1 376 907.1 379 904.6 381.5 902 383.3 898.5 384.8 894.5 385.6 890.5 385.7 886.5 384.9 882.5 383.3 879 381.1 875.7 378 873.3 374.5 871.8 371 870.9 367 870.9 363.5 871.7 359.5 873.3 356 876 352.6 879 350.2 882.5 348.5 886.3 347.5ZM830.8 359 834.5 358.6 838 358.9 841.5 359.9 845 361.8 848 364.4 850.4 367.5 852.2 371 853.1 374.5 853.4 378.5 853 382 851.9 385.5 850 389 847.5 391.9 844.5 394.3 841.5 395.9 838 396.9 834.5 397.2 830.5 396.7 827 395.6 824 393.8 821.3 391.5 818.9 388.5 817.1 385 816.1 381.5 815.8 378 816.2 374 817.2 370.5 819.1 367 821.5 364.1 824.5 361.6 827.5 360 830.8 359Z" fill="#ebe9e8" fill-rule="evenodd"/>
<path d="M849.4 308.5 852.5 308.3 855.5 308.7 861 311.2 865.2 315.5 866.9 318.5 867.9 321.5 868.2 328 866.2 334 864.4 336.5 862 338.8 859.5 340.3 856.5 341.4 853.5 341.8 850 341.4 844.5 339 842 337 839.6 334 837.2 328 837.1 321.5 837.9 318.5 839.3 315.5 841.2 313 843.5 311 846.5 309.3 849.4 308.5ZM887.1 350.5 893.5 350.7 899 352.9 903.8 357 906.9 362.5 907.8 368.5 907.3 371.5 906.2 374.5 902.6 379 897.5 381.8 894 382.6 891 382.7 887.5 382.1 884 380.7 881 378.9 878.4 376.5 876.2 373.5 874.9 370.5 874.1 367 874.1 363.5 874.8 360.5 876.2 357.5 878.1 355 881 352.7 884 351.3 887.1 350.5ZM831.4 362 834.5 361.7 837.5 361.9 840.5 362.8 843.5 364.5 845.9 366.5 847.8 369 849.3 372 850.2 375 850.1 381 849.3 384 847.7 387 843.5 391.3 840.5 393 837.5 393.9 834.5 394.1 831 393.7 825.5 391.2 823.1 389 821.2 386.5 819.1 381 818.8 378 819.1 374.5 821.4 369 823.3 366.5 825.7 364.5 828.5 362.9 831.4 362Z" fill="#b9aca3" fill-rule="evenodd"/>
<path d="M848.9 311.5 854 311.2 859 313.1 862.7 316.5 865.2 321.5 865.6 327 864.2 332 861 336 856.5 338.5 851.5 338.8 846.5 337.1 842.5 333.5 840.1 328.5 839.6 323 841 318 844.5 313.7 848.9 311.5ZM886.2 353.5 891.5 353.1 896.5 354.6 900.6 357.5 903.8 362 905 367 904.1 372 901.6 376 897.5 378.8 892 380 889 379.7 886 378.7 881.2 375.5 878 371 876.8 365.5 877.9 360.5 879.3 358 881.3 356 886.2 353.5ZM832.9 364.5 838 364.8 842.5 367.1 844.5 369 846.2 371.5 847.7 376.5 847.1 382 844.8 386.5 841 389.7 836 391.3 831 390.9 826.4 388.5 823.1 384.5 821.5 379.5 821.9 374.5 824.3 369.5 828 366.2 832.9 364.5Z" fill="#ae9a8b" fill-rule="evenodd"/>
<path d="M849.2 313.5 853.5 313.1 858 314.7 861.4 318 863.4 322 863.8 326.5 862.5 331 859.7 334.5 856 336.5 851.5 336.8 847.5 335.4 844 332.3 841.8 328 841.4 323.5 842.7 319 845.5 315.5 849.2 313.5ZM889 355 893.5 355.4 897.5 357.3 900.7 360.5 902.6 364.5 902.9 368.5 901.6 372.5 899 375.6 895 377.6 890 377.9 885.5 376.4 881.5 373 879.2 368.5 879 364 880.8 359.5 884.5 356.3 889 355ZM832.6 366.5 837 366.6 841 368.4 844 371.5 845.7 376 845.6 380.5 843.9 384.5 840.5 387.8 836.5 389.3 832 389.2 828 387.3 825 384 823.5 380 823.6 375.5 825.2 371.5 828.5 368.2 832.6 366.5Z" fill="#a78e7e" fill-rule="evenodd"/>
<path d="M850.7 315 854.5 315.1 858 316.9 860.7 320 862 323.5 861.9 327.5 860.5 331 858 333.5 854.5 335 851 334.9 847.5 333.4 844.8 330.5 843.2 326.5 843.3 322.5 844.7 319 847.5 316.3 850.7 315ZM887.7 357 891.5 356.8 895 357.8 898 360 900.4 363.5 901.1 367 900.5 370.5 898.6 373.5 895.5 375.6 891.5 376.3 887.5 375.5 883.8 373 881.4 369.5 880.7 365.5 881.7 361.5 884 358.8 887.7 357ZM831.8 368.5 835.5 368.1 839 369.2 841.9 371.5 843.7 375 844.1 379 843 382.6 840.5 385.6 837 387.4 833.5 387.7 830 386.5 827.1 384 825.4 380.5 825.1 376.5 826.3 373 828.5 370.3 831.8 368.5Z" fill="#9e8371" fill-rule="evenodd"/>
<path d="M850.1 317 853 316.7 856 317.6 858.5 319.7 860 322.5 860.4 326 859.6 329 857.7 331.5 855 333 852 333.3 849 332.3 846.5 330 845.2 327.5 844.8 324 845.6 321 847.5 318.5 850.1 317ZM889.2 358.5 892.5 358.7 895.4 360 897.5 362 899 364.9 899.3 368 898.5 370.5 896.5 372.9 894 374.2 890.5 374.5 887 373.4 884.3 371 882.8 368 882.5 365 883.6 362 886 359.6 889.2 358.5ZM832.9 370 836 369.9 839 371.2 841.2 373.5 842.4 376.5 842.3 379.5 841.1 382.5 839 384.6 836 385.9 833 385.8 830 384.5 828 382.3 826.9 379.5 826.8 376.5 828 373.5 830 371.3 832.9 370Z" fill="#977966" fill-rule="evenodd"/>
<path d="M851.4 318.5 854 318.6 856 319.6 857.7 321.5 858.7 324 858.7 326.5 857.7 329 856 330.6 854 331.5 851.5 331.4 849.4 330.5 847.5 328.5 846.5 326 846.5 323.5 847.5 321.1 849 319.5 851.4 318.5ZM888.2 360.5 890.5 360.1 893 360.6 895.2 362 896.8 364 897.5 366 897.4 368.5 896.4 370.5 894.5 372.1 892 372.8 889 372.5 886.6 371 885 369 884.3 366.5 884.6 364 886 361.9 888.2 360.5ZM832.2 372 834.5 371.5 837 372 839 373.4 840.4 375.5 840.8 378 840.3 380.5 838.9 382.5 836.5 384 834 384.3 832 383.7 830 382.2 828.7 380 828.4 377.5 829 375.1 830.5 373.1 832.2 372Z" fill="#8f705b" fill-rule="evenodd"/>
<path d="M850.5 320.5 852 320.1 854 320.3 855.5 321.2 856.8 323 857.3 325 856.9 327 856 328.5 854.5 329.6 853 330 851 329.6 849.5 328.6 848.4 327 848.1 323.5 849 321.7 850.5 320.5ZM888.8 362 890.5 361.7 892.5 362.1 894 363 895.3 364.5 895.8 366 895.8 368 895 369.5 893.5 370.8 891.5 371.3 889.5 371 887.8 370 886.5 368.5 885.9 366.5 886.2 364.5 887.2 363 888.8 362ZM832.7 373.5 834.5 373.1 836.5 373.5 837.9 374.5 838.9 376 839.3 377.5 839 379.5 838 381.2 836.5 382.3 835 382.7 833 382.4 831.5 381.5 830.4 380 829.9 378.5 830.1 376.5 831 374.8 832.7 373.5Z" fill="#6c5547" fill-rule="evenodd"/>
<path d="M851 322 853.5 321.8 855.4 323.5 855.7 326 854 328.1 851.5 328.1 849.8 326.5 849.5 324 851 322ZM889.3 363.5 892 363.5 893.8 365 894.2 367.5 893 369.2 890.5 369.7 889 369.1 888 368 887.6 365.5 888.1 364.5 889.3 363.5ZM833.1 375 835.5 374.8 837.5 376.5 837.6 379 836 380.8 833.5 381 831.8 379.5 831.5 377 833.1 375Z" fill="#141110" fill-rule="evenodd"/>
<path d="M851.8 324.5 852.5 324.1 853 324.2 853.5 325 853.4 325.5 852.5 325.9 852 325.7 851.8 324.5ZM890.1 366 890.5 365.7 891.5 365.8 891.8 366.5 891.7 367 891 367.4 890.5 367.3 890 366.7 890.1 366ZM834.4 377 835 377.1 835.5 378 835 378.7 834.5 378.8 834 378.6 833.7 378 833.8 377.5 834.4 377Z" fill="#b87448"/>
<path d="M851 322 853.5 321.8 855.4 323.5 855.7 326 854 328.1 851.5 328.1 849.8 326.5 849.5 324 851 322M889.3 363.5 892 363.5 893.8 365 894.2 367.5 893 369.2 890.5 369.7 889 369.1 888 368 887.6 365.5 888.1 364.5 889.3 363.5M833.1 375 835.5 374.8 837.5 376.5 837.6 379 836 380.8 833.5 381 831.8 379.5 831.5 377 833.1 375" fill="none" stroke="#050505" stroke-width="1.0"/>
<path d="M850.5 320.5 852 320.1 854 320.3 855.5 321.2 856.8 323 857.3 325 856.9 327 856 328.5 854.5 329.6 853 330 851 329.6 849.5 328.6 848.4 327 848.1 323.5 849 321.7 850.5 320.5M888.8 362 890.5 361.7 892.5 362.1 894 363 895.3 364.5 895.8 366 895.8 368 895 369.5 893.5 370.8 891.5 371.3 889.5 371 887.8 370 886.5 368.5 885.9 366.5 886.2 364.5 887.2 363 888.8 362M832.7 373.5 834.5 373.1 836.5 373.5 837.9 374.5 838.9 376 839.3 377.5 839 379.5 838 381.2 836.5 382.3 835 382.7 833 382.4 831.5 381.5 830.4 380 829.9 378.5 830.1 376.5 831 374.8 832.7 373.5" fill="none" stroke="#b07a58" stroke-width="0.8"/>
<path d="M851.4 318.5 854 318.6 856 319.6 857.7 321.5 858.7 324 858.7 326.5 857.7 329 856 330.6 854 331.5 851.5 331.4 849.4 330.5 847.5 328.5 846.5 326 846.5 323.5 847.5 321.1 849 319.5 851.4 318.5M888.2 360.5 890.5 360.1 893 360.6 895.2 362 896.8 364 897.5 366 897.4 368.5 896.4 370.5 894.5 372.1 892 372.8 889 372.5 886.6 371 885 369 884.3 366.5 884.6 364 886 361.9 888.2 360.5M832.2 372 834.5 371.5 837 372 839 373.4 840.4 375.5 840.8 378 840.3 380.5 838.9 382.5 836.5 384 834 384.3 832 383.7 830 382.2 828.7 380 828.4 377.5 829 375.1 830.5 373.1 832.2 372" fill="none" stroke="#b69684" stroke-width="0.6"/>
<path d="M850.1 317 853 316.7 856 317.6 858.5 319.7 860 322.5 860.4 326 859.6 329 857.7 331.5 855 333 852 333.3 849 332.3 846.5 330 845.2 327.5 844.8 324 845.6 321 847.5 318.5 850.1 317M889.2 358.5 892.5 358.7 895.4 360 897.5 362 899 364.9 899.3 368 898.5 370.5 896.5 372.9 894 374.2 890.5 374.5 887 373.4 884.3 371 882.8 368 882.5 365 883.6 362 886 359.6 889.2 358.5M832.9 370 836 369.9 839 371.2 841.2 373.5 842.4 376.5 842.3 379.5 841.1 382.5 839 384.6 836 385.9 833 385.8 830 384.5 828 382.3 826.9 379.5 826.8 376.5 828 373.5 830 371.3 832.9 370" fill="none" stroke="#bca190" stroke-width="0.6"/>
<path d="M850.7 315 854.5 315.1 858 316.9 860.7 320 862 323.5 861.9 327.5 860.5 331 858 333.5 854.5 335 851 334.9 847.5 333.4 844.8 330.5 843.2 326.5 843.3 322.5 844.7 319 847.5 316.3 850.7 315M887.7 357 891.5 356.8 895 357.8 898 360 900.4 363.5 901.1 367 900.5 370.5 898.6 373.5 895.5 375.6 891.5 376.3 887.5 375.5 883.8 373 881.4 369.5 880.7 365.5 881.7 361.5 884 358.8 887.7 357M831.8 368.5 835.5 368.1 839 369.2 841.9 371.5 843.7 375 844.1 379 843 382.6 840.5 385.6 837 387.4 833.5 387.7 830 386.5 827.1 384 825.4 380.5 825.1 376.5 826.3 373 828.5 370.3 831.8 368.5" fill="none" stroke="#c2ab9c" stroke-width="0.6"/>
<path d="M849.2 313.5 853.5 313.1 858 314.7 861.4 318 863.4 322 863.8 326.5 862.5 331 859.7 334.5 856 336.5 851.5 336.8 847.5 335.4 844 332.3 841.8 328 841.4 323.5 842.7 319 845.5 315.5 849.2 313.5M889 355 893.5 355.4 897.5 357.3 900.7 360.5 902.6 364.5 902.9 368.5 901.6 372.5 899 375.6 895 377.6 890 377.9 885.5 376.4 881.5 373 879.2 368.5 879 364 880.8 359.5 884.5 356.3 889 355M832.6 366.5 837 366.6 841 368.4 844 371.5 845.7 376 845.6 380.5 843.9 384.5 840.5 387.8 836.5 389.3 832 389.2 828 387.3 825 384 823.5 380 823.6 375.5 825.2 371.5 828.5 368.2 832.6 366.5" fill="none" stroke="#807068" stroke-width="0.7"/>
<path d="M848.9 311.5 854 311.2 859 313.1 862.7 316.5 865.2 321.5 865.6 327 864.2 332 861 336 856.5 338.5 851.5 338.8 846.5 337.1 842.5 333.5 840.1 328.5 839.6 323 841 318 844.5 313.7 848.9 311.5M886.2 353.5 891.5 353.1 896.5 354.6 900.6 357.5 903.8 362 905 367 904.1 372 901.6 376 897.5 378.8 892 380 889 379.7 886 378.7 881.2 375.5 878 371 876.8 365.5 877.9 360.5 879.3 358 881.3 356 886.2 353.5M832.9 364.5 838 364.8 842.5 367.1 844.5 369 846.2 371.5 847.7 376.5 847.1 382 844.8 386.5 841 389.7 836 391.3 831 390.9 826.4 388.5 823.1 384.5 821.5 379.5 821.9 374.5 824.3 369.5 828 366.2 832.9 364.5" fill="none" stroke="#686060" stroke-width="0.8"/>
<path d="M849.4 308.5 852.5 308.3 855.5 308.7 861 311.2 865.2 315.5 866.9 318.5 867.9 321.5 868.2 328 866.2 334 864.4 336.5 862 338.8 859.5 340.3 856.5 341.4 853.5 341.8 850 341.4 844.5 339 842 337 839.6 334 837.2 328 837.1 321.5 837.9 318.5 839.3 315.5 841.2 313 843.5 311 846.5 309.3 849.4 308.5M887.1 350.5 893.5 350.7 899 352.9 903.8 357 906.9 362.5 907.8 368.5 907.3 371.5 906.2 374.5 902.6 379 897.5 381.8 894 382.6 891 382.7 887.5 382.1 884 380.7 881 378.9 878.4 376.5 876.2 373.5 874.9 370.5 874.1 367 874.1 363.5 874.8 360.5 876.2 357.5 878.1 355 881 352.7 884 351.3 887.1 350.5M831.4 362 834.5 361.7 837.5 361.9 840.5 362.8 843.5 364.5 845.9 366.5 847.8 369 849.3 372 850.2 375 850.1 381 849.3 384 847.7 387 843.5 391.3 840.5 393 837.5 393.9 834.5 394.1 831 393.7 825.5 391.2 823.1 389 821.2 386.5 819.1 381 818.8 378 819.1 374.5 821.4 369 823.3 366.5 825.7 364.5 828.5 362.9 831.4 362" fill="none" stroke="#505050" stroke-width="1.1"/>
<path d="M848.2 305.5 851.5 305.1 855 305.4 858.5 306.3 862 308.2 865 310.6 867.8 314 869.7 317.5 870.8 321 871.3 324.5 871.1 328.5 870.3 332 868.8 335.5 866.8 338.5 864 341.2 861 343.1 857.5 344.4 854 344.9 850 344.6 846.5 343.6 843 341.7 840 339.2 837.7 336.5 835.8 333 834.4 329 833.9 325 834.2 321 835.2 317 836.6 314 838.8 311 841.5 308.6 844.5 306.8 848.2 305.5M886.3 347.5 890 347.3 894 347.8 897.5 348.8 901 350.6 904 352.9 906.5 355.5 908.8 359 910 362 910.8 365.5 911 369 910.4 372.5 909.1 376 907.1 379 904.6 381.5 902 383.3 898.5 384.8 894.5 385.6 890.5 385.7 886.5 384.9 882.5 383.3 879 381.1 875.7 378 873.3 374.5 871.8 371 870.9 367 870.9 363.5 871.7 359.5 873.3 356 876 352.6 879 350.2 882.5 348.5 886.3 347.5M830.8 359 834.5 358.6 838 358.9 841.5 359.9 845 361.8 848 364.4 850.4 367.5 852.2 371 853.1 374.5 853.4 378.5 853 382 851.9 385.5 850 389 847.5 391.9 844.5 394.3 841.5 395.9 838 396.9 834.5 397.2 830.5 396.7 827 395.6 824 393.8 821.3 391.5 818.9 388.5 817.1 385 816.1 381.5 815.8 378 816.2 374 817.2 370.5 819.1 367 821.5 364.1 824.5 361.6 827.5 360 830.8 359" fill="none" stroke="#484848" stroke-width="1.25"/>
</g>
<rect x="800.5" y="286.5" width="125.5" height="125.5" fill="none" stroke="#444" stroke-width="1.1"/>
<path d="M815 286.5 L815 286.4 L818.5 284.8 L821.5 282.1 L824.5 278 L830.5 268 L832.5 265.5 L834 264.3 L835.5 263.7 L837 263.7 L843.5 265 L851 263 L853.5 263.8 L855.5 265.8 L864 279.7 L866.5 282.7 L869 284.4 L870.5 284.8 L872.5 284.7 L876 282.9 L879.5 278.9 L887 267.9 L889 266.1 L891 265.5 L893 266.2 L895 268.1 L902.5 279.2 L905.5 282.8 L908.5 285.1 L912 286.4 L912 286.5" fill="#bababa" stroke="#3a3a3a" stroke-width="1.1"/>
<path d="M926 305.5 L926.1 305.5 L927.2 308.5 L928.7 311 L931.3 314 L938.7 321 L940 323 L940.4 325 L940 327 L938.7 329 L930.9 336.5 L927.8 340.5 L926.5 344.5 L926.4 347 L926.8 349 L928.4 352 L931.1 355 L943.2 363.5 L946.9 366.5 L949 369.5 L949.5 372 L948.6 375 L946.1 378 L933.6 387 L929.7 390.5 L927.5 393.5 L926.1 397 L926 397" fill="#bababa" stroke="#3a3a3a" stroke-width="1.1"/>
<text x="794" y="350.2" font-family='"Liberation Sans", sans-serif' font-size="11.5" fill="#333" text-anchor="middle" textLength="63.5" lengthAdjust="spacingAndGlyphs" transform="rotate(-90 794 350.2)">Eigenvector 3</text>
<text x="863.2" y="422.5" font-family='"Liberation Sans", sans-serif' font-size="11.5" fill="#333" text-anchor="middle" textLength="62" lengthAdjust="spacingAndGlyphs">Eigenvector 2</text>
<clipPath id="clip971_286"><rect x="971" y="286.5" width="125.5" height="125.5"/></clipPath>
<rect x="971" y="286.5" width="125.5" height="125.5" fill="#e6fce6"/>
<g clip-path="url(#clip971_286)">
<path d="M1016.6 302 1020 301.6 1023.5 301.9 1027 303.1 1030.5 305.1 1033.3 307.5 1035.7 310.5 1037.7 314 1039.1 318 1039.7 322 1039.7 326 1039.2 329.5 1037.7 333.5 1035.5 337 1033.1 339.5 1030.5 341.3 1027 342.7 1023.5 343.2 1020 342.9 1016.5 341.9 1013 339.9 1010.1 337.5 1007.6 334.5 1005.6 331 1004.2 327 1003.5 323 1003.5 319 1004.1 315 1005.6 311 1007.5 308 1010 305.4 1013 303.3 1016.6 302ZM1054.7 346 1058.5 345.7 1062.5 346.1 1066 347.1 1069.5 348.9 1072.5 351.1 1075.2 354 1077.4 357.5 1078.8 361 1079.6 365 1079.6 368.5 1078.9 372.5 1077.4 376 1075.5 379 1072.5 381.9 1069.5 383.9 1066 385.3 1062 386 1058 386 1054 385.2 1050 383.4 1046.5 381 1043.6 378 1041.3 374.5 1039.7 370.5 1039 366.5 1039.1 362.5 1039.8 359 1041.6 355 1044 351.8 1047 349.2 1050.5 347.3 1054.7 346ZM1000.9 357.5 1004.5 357.1 1008 357.4 1012 358.7 1015 360.5 1017.9 363 1020.2 366 1021.9 369.5 1023 373.5 1023.3 377.5 1022.8 381.5 1021.8 385 1020 388.5 1017.5 391.6 1014.5 394.1 1011 395.9 1007.5 396.9 1004 397.1 1000.5 396.6 997 395.4 993.5 393.2 990.7 390.5 988.6 387.5 987.2 384.5 986.2 380.5 985.9 377 986.3 373 987.3 369.5 989.4 365.5 991.8 362.5 994.5 360.3 997.5 358.6 1000.9 357.5Z" fill="#b2f2b2" fill-rule="evenodd"/>
<path d="M1018.8 305 1021.5 304.9 1024.5 305.5 1027.5 306.8 1030 308.5 1032.4 311 1034.4 314 1036.7 320.5 1036.7 327 1034.5 333 1032.6 335.5 1030.5 337.4 1028 338.8 1025 339.7 1021.5 339.9 1018.5 339.2 1015.5 337.9 1013 336.1 1008.9 331 1006.6 324.5 1006.3 321 1006.6 317.5 1007.4 314.5 1008.9 311.5 1010.9 309 1013 307.2 1016 305.7 1018.8 305ZM1056.5 349 1059.5 348.9 1063 349.5 1066 350.6 1069 352.4 1071.5 354.5 1073.8 357.5 1076.2 363.5 1076.2 369.5 1075.4 372.5 1073.9 375.5 1071.9 378 1069.5 380.1 1066.5 381.7 1063.5 382.6 1060 382.9 1056.5 382.5 1053 381.4 1050 379.7 1047.3 377.5 1045.3 375 1043.6 372 1042.5 368.5 1042.1 365 1042.5 361.5 1043.5 358.5 1045.2 355.5 1047.5 353 1050 351.2 1053 349.8 1056.5 349ZM1002 360.5 1005.5 360.3 1008.5 360.8 1011.5 362 1014 363.6 1016.4 366 1018.1 368.5 1019.4 371.5 1020.2 375 1019.8 381.5 1018.7 384.5 1017 387.5 1012.5 391.7 1009.5 393.1 1006.5 393.8 1003.5 393.9 1000.5 393.3 997.5 392.1 995 390.4 992.6 388 991 385.5 989 379.5 989.3 373 990.3 370 992 367 994 364.7 996.5 362.7 1002 360.5Z" fill="#66cc66" fill-rule="evenodd"/>
<path d="M1018.7 308 1023.5 308.2 1028.1 310.5 1031.8 314.5 1034 320 1034.2 325.5 1032.7 330.5 1029.5 334.5 1025 336.7 1020 336.7 1015.3 334.5 1011.6 330.5 1009.3 325 1008.9 319.5 1010.6 314 1014 310.1 1016 308.8 1018.7 308ZM1055.9 352 1061.5 352 1066.5 354 1070.5 357.7 1073 362.5 1073.5 368 1072 373 1068.7 377 1064 379.5 1058.5 380 1053 378.3 1048.4 374.5 1045.7 369.5 1045.1 364 1045.7 361 1046.8 358.5 1050.5 354.3 1053 352.9 1055.9 352ZM1001.5 363.5 1006.5 363.2 1011.5 365.2 1015.3 369 1017.4 374 1017.5 379.5 1015.5 384.9 1012 388.7 1007 390.9 1002 390.8 997.5 388.9 993.8 385 991.8 380 991.7 374.5 993.6 369.5 997 365.7 1001.5 363.5Z" fill="#52c252" fill-rule="evenodd"/>
<path d="M1019.5 310 1023.5 310.3 1027.6 312.5 1030.8 316.5 1032.3 321 1032.3 326 1030.8 330 1028 333.1 1024 334.8 1019.5 334.4 1015.5 332.2 1012.5 328.5 1010.9 324 1010.9 319 1012.5 314.7 1015.5 311.5 1019.5 310ZM1056.3 354 1061 354 1065.5 355.7 1069 359 1071 363 1071.5 367.5 1070.2 372 1067.2 375.5 1063 377.6 1058 377.9 1053.5 376.3 1049.7 373 1047.5 368.5 1047.1 364 1048.6 359.5 1052 355.8 1056.3 354ZM1001.7 365.5 1006 365.2 1010.5 366.9 1013.6 370 1015.6 374.5 1015.7 379 1014.1 383.5 1011 387 1007 388.8 1002.5 388.9 998.5 387.2 995.4 384 993.7 380 993.5 375.5 994.9 371 997.9 367.5 1001.7 365.5Z" fill="#47bb47" fill-rule="evenodd"/>
<path d="M1019.1 312 1022.5 312 1026 313.5 1028.9 316.5 1030.6 320.5 1030.8 324.5 1029.6 328.5 1027 331.5 1024 332.8 1020.5 332.8 1017 331.2 1014.5 328.5 1012.7 324.5 1012.4 320.5 1013.5 316.5 1016 313.5 1019.1 312ZM1056 356 1060 355.7 1063.5 356.7 1066.7 359 1068.9 362.5 1069.7 366.5 1069 370 1066.7 373.5 1063.5 375.5 1059.5 376.2 1055.5 375.3 1052 372.9 1049.6 369 1048.9 365 1049.9 361 1052.5 357.8 1056 356ZM1003.4 367 1007 367.2 1010.5 369.1 1012.8 372 1014.1 376 1013.7 380 1012 383.5 1009 386.1 1005.5 387.2 1002 386.9 998.5 384.9 996.3 382 995.1 378 995.5 374 997.4 370.5 1000 368.2 1003.4 367Z" fill="#3cab3c" fill-rule="evenodd"/>
<path d="M1019 314 1022 313.7 1025 314.9 1027.2 317 1028.8 320 1029.2 323.5 1028.5 326.7 1026.5 329.5 1024 330.9 1021 331 1018 329.8 1015.8 327.5 1014.3 324.5 1014 321 1014.7 318 1016.5 315.5 1019 314ZM1057.7 357.5 1061 357.7 1064 359 1066.4 361.5 1067.7 364.5 1067.8 367.5 1066.7 370.5 1064.5 372.9 1061.5 374.2 1058 374.2 1055 373 1052.3 370.5 1051 367.5 1050.9 364 1052.1 361 1054.5 358.7 1057.7 357.5ZM1002.6 369 1006 368.8 1008.8 370 1011.2 372.5 1012.3 375.5 1012.2 379 1011 382 1009 384 1006 385.4 1003 385.3 1000.1 384 998.2 382 997 379 996.8 376 997.8 373 999.8 370.5 1002.6 369Z" fill="#349b34" fill-rule="evenodd"/>
<path d="M1018.9 316 1021 315.5 1023.5 316 1025.5 317.5 1027.1 320 1027.6 323 1027.2 325.5 1026 327.5 1024 328.9 1022 329.3 1019.5 328.7 1017.5 327.1 1016.2 325 1015.6 322 1015.9 319.5 1017 317.5 1018.9 316ZM1057 359.5 1059.5 359.2 1062 359.9 1064.2 361.5 1065.5 363.6 1066 366 1065.6 368.5 1064.4 370.5 1062 372.2 1059.5 372.6 1056.8 372 1054.5 370.4 1053 368 1052.5 365.5 1053.1 363 1054.5 361 1057 359.5ZM1004.1 370.5 1006.5 370.8 1008.5 372 1010.1 374 1010.8 376.5 1010.5 379 1009.2 381.5 1007.4 383 1005 383.7 1002.5 383.3 1000.5 382.1 999 380 998.4 377.5 998.7 375 1000 372.7 1002 371.1 1004.1 370.5Z" fill="#2d8b2d" fill-rule="evenodd"/>
<path d="M1019.8 317.5 1021.5 317.2 1023.5 317.9 1025 319.3 1025.9 321 1026.1 323 1025.7 325 1024.5 326.6 1023 327.4 1021.5 327.6 1019.8 327 1018.5 325.9 1017.4 324 1017.1 322 1017.4 320 1018.4 318.5 1019.8 317.5ZM1057.9 361 1060 360.9 1061.6 361.5 1063 362.6 1064.1 364.5 1064.4 366.5 1063.8 368.5 1062.5 370 1061 370.7 1059 370.9 1057 370.3 1055.4 369 1054.5 367.3 1054.2 365.5 1054.7 363.5 1056 361.9 1057.9 361ZM1002.8 372.5 1004.5 372.1 1006.5 372.5 1008 373.7 1009 375.5 1009.2 377.5 1008.7 379.5 1007.5 381 1006 381.9 1004 382 1002.5 381.6 1000.3 379 999.9 377 1000.4 375 1001.4 373.5 1002.8 372.5Z" fill="#1f6c1f" fill-rule="evenodd"/>
<path d="M1020.5 319 1023 319.4 1024.5 321.5 1024.5 324 1023.5 325.3 1022.5 325.8 1020 325.3 1018.6 323 1018.9 320.5 1020.5 319ZM1058.7 362.5 1061 363 1062.1 364 1062.7 365.5 1062.1 368 1060 369.3 1057.5 368.7 1055.9 366.5 1056.3 364 1057.3 363 1058.7 362.5ZM1003.3 374 1004.5 373.7 1006 374 1007.6 376 1007.5 378.5 1005.5 380.4 1003 380 1001.5 378 1001.8 375.5 1003.3 374Z" fill="#031e03" fill-rule="evenodd"/>
<path d="M1021.2 321.5 1022 321.6 1022.3 322 1022.5 322.5 1022 323.3 1021.5 323.4 1020.9 323 1020.8 322 1021.2 321.5ZM1058.9 365 1059.5 365 1060.2 365.5 1060.1 366.5 1059.5 366.8 1058.6 366.5 1058.4 366 1058.4 365.5 1058.9 365ZM1003.9 376.5 1004.5 376.2 1005.3 376.5 1005.5 377 1005 378 1004 377.8 1003.7 377 1003.9 376.5Z" fill="#8a7a48"/>
<path d="M1020.5 319 1023 319.4 1024.5 321.5 1024.5 324 1023.5 325.3 1022.5 325.8 1020 325.3 1018.6 323 1018.9 320.5 1020.5 319M1058.7 362.5 1061 363 1062.1 364 1062.7 365.5 1062.1 368 1060 369.3 1057.5 368.7 1055.9 366.5 1056.3 364 1057.3 363 1058.7 362.5M1003.3 374 1004.5 373.7 1006 374 1007.6 376 1007.5 378.5 1005.5 380.4 1003 380 1001.5 378 1001.8 375.5 1003.3 374" fill="none" stroke="#050505" stroke-width="1.0"/>
<path d="M1019.8 317.5 1021.5 317.2 1023.5 317.9 1025 319.3 1025.9 321 1026.1 323 1025.7 325 1024.5 326.6 1023 327.4 1021.5 327.6 1019.8 327 1018.5 325.9 1017.4 324 1017.1 322 1017.4 320 1018.4 318.5 1019.8 317.5M1057.9 361 1060 360.9 1061.6 361.5 1063 362.6 1064.1 364.5 1064.4 366.5 1063.8 368.5 1062.5 370 1061 370.7 1059 370.9 1057 370.3 1055.4 369 1054.5 367.3 1054.2 365.5 1054.7 363.5 1056 361.9 1057.9 361M1002.8 372.5 1004.5 372.1 1006.5 372.5 1008 373.7 1009 375.5 1009.2 377.5 1008.7 379.5 1007.5 381 1006 381.9 1004 382 1002.5 381.6 1000.3 379 999.9 377 1000.4 375 1001.4 373.5 1002.8 372.5" fill="none" stroke="#948650" stroke-width="0.8"/>
<path d="M1018.9 316 1021 315.5 1023.5 316 1025.5 317.5 1027.1 320 1027.6 323 1027.2 325.5 1026 327.5 1024 328.9 1022 329.3 1019.5 328.7 1017.5 327.1 1016.2 325 1015.6 322 1015.9 319.5 1017 317.5 1018.9 316M1057 359.5 1059.5 359.2 1062 359.9 1064.2 361.5 1065.5 363.6 1066 366 1065.6 368.5 1064.4 370.5 1062 372.2 1059.5 372.6 1056.8 372 1054.5 370.4 1053 368 1052.5 365.5 1053.1 363 1054.5 361 1057 359.5M1004.1 370.5 1006.5 370.8 1008.5 372 1010.1 374 1010.8 376.5 1010.5 379 1009.2 381.5 1007.4 383 1005 383.7 1002.5 383.3 1000.5 382.1 999 380 998.4 377.5 998.7 375 1000 372.7 1002 371.1 1004.1 370.5" fill="none" stroke="#88944a" stroke-width="0.6"/>
<path d="M1019 314 1022 313.7 1025 314.9 1027.2 317 1028.8 320 1029.2 323.5 1028.5 326.7 1026.5 329.5 1024 330.9 1021 331 1018 329.8 1015.8 327.5 1014.3 324.5 1014 321 1014.7 318 1016.5 315.5 1019 314M1057.7 357.5 1061 357.7 1064 359 1066.4 361.5 1067.7 364.5 1067.8 367.5 1066.7 370.5 1064.5 372.9 1061.5 374.2 1058 374.2 1055 373 1052.3 370.5 1051 367.5 1050.9 364 1052.1 361 1054.5 358.7 1057.7 357.5M1002.6 369 1006 368.8 1008.8 370 1011.2 372.5 1012.3 375.5 1012.2 379 1011 382 1009 384 1006 385.4 1003 385.3 1000.1 384 998.2 382 997 379 996.8 376 997.8 373 999.8 370.5 1002.6 369" fill="none" stroke="#78b050" stroke-width="0.6"/>
<path d="M1019.1 312 1022.5 312 1026 313.5 1028.9 316.5 1030.6 320.5 1030.8 324.5 1029.6 328.5 1027 331.5 1024 332.8 1020.5 332.8 1017 331.2 1014.5 328.5 1012.7 324.5 1012.4 320.5 1013.5 316.5 1016 313.5 1019.1 312M1056 356 1060 355.7 1063.5 356.7 1066.7 359 1068.9 362.5 1069.7 366.5 1069 370 1066.7 373.5 1063.5 375.5 1059.5 376.2 1055.5 375.3 1052 372.9 1049.6 369 1048.9 365 1049.9 361 1052.5 357.8 1056 356M1003.4 367 1007 367.2 1010.5 369.1 1012.8 372 1014.1 376 1013.7 380 1012 383.5 1009 386.1 1005.5 387.2 1002 386.9 998.5 384.9 996.3 382 995.1 378 995.5 374 997.4 370.5 1000 368.2 1003.4 367" fill="none" stroke="#80d880" stroke-width="0.6"/>
<path d="M1019.5 310 1023.5 310.3 1027.6 312.5 1030.8 316.5 1032.3 321 1032.3 326 1030.8 330 1028 333.1 1024 334.8 1019.5 334.4 1015.5 332.2 1012.5 328.5 1010.9 324 1010.9 319 1012.5 314.7 1015.5 311.5 1019.5 310M1056.3 354 1061 354 1065.5 355.7 1069 359 1071 363 1071.5 367.5 1070.2 372 1067.2 375.5 1063 377.6 1058 377.9 1053.5 376.3 1049.7 373 1047.5 368.5 1047.1 364 1048.6 359.5 1052 355.8 1056.3 354M1001.7 365.5 1006 365.2 1010.5 366.9 1013.6 370 1015.6 374.5 1015.7 379 1014.1 383.5 1011 387 1007 388.8 1002.5 388.9 998.5 387.2 995.4 384 993.7 380 993.5 375.5 994.9 371 997.9 367.5 1001.7 365.5" fill="none" stroke="#5a8a5a" stroke-width="0.7"/>
<path d="M1018.7 308 1023.5 308.2 1028.1 310.5 1031.8 314.5 1034 320 1034.2 325.5 1032.7 330.5 1029.5 334.5 1025 336.7 1020 336.7 1015.3 334.5 1011.6 330.5 1009.3 325 1008.9 319.5 1010.6 314 1014 310.1 1016 308.8 1018.7 308M1055.9 352 1061.5 352 1066.5 354 1070.5 357.7 1073 362.5 1073.5 368 1072 373 1068.7 377 1064 379.5 1058.5 380 1053 378.3 1048.4 374.5 1045.7 369.5 1045.1 364 1045.7 361 1046.8 358.5 1050.5 354.3 1053 352.9 1055.9 352M1001.5 363.5 1006.5 363.2 1011.5 365.2 1015.3 369 1017.4 374 1017.5 379.5 1015.5 384.9 1012 388.7 1007 390.9 1002 390.8 997.5 388.9 993.8 385 991.8 380 991.7 374.5 993.6 369.5 997 365.7 1001.5 363.5" fill="none" stroke="#4a704a" stroke-width="0.8"/>
<path d="M1018.8 305 1021.5 304.9 1024.5 305.5 1027.5 306.8 1030 308.5 1032.4 311 1034.4 314 1036.7 320.5 1036.7 327 1034.5 333 1032.6 335.5 1030.5 337.4 1028 338.8 1025 339.7 1021.5 339.9 1018.5 339.2 1015.5 337.9 1013 336.1 1008.9 331 1006.6 324.5 1006.3 321 1006.6 317.5 1007.4 314.5 1008.9 311.5 1010.9 309 1013 307.2 1016 305.7 1018.8 305M1056.5 349 1059.5 348.9 1063 349.5 1066 350.6 1069 352.4 1071.5 354.5 1073.8 357.5 1076.2 363.5 1076.2 369.5 1075.4 372.5 1073.9 375.5 1071.9 378 1069.5 380.1 1066.5 381.7 1063.5 382.6 1060 382.9 1056.5 382.5 1053 381.4 1050 379.7 1047.3 377.5 1045.3 375 1043.6 372 1042.5 368.5 1042.1 365 1042.5 361.5 1043.5 358.5 1045.2 355.5 1047.5 353 1050 351.2 1053 349.8 1056.5 349M1002 360.5 1005.5 360.3 1008.5 360.8 1011.5 362 1014 363.6 1016.4 366 1018.1 368.5 1019.4 371.5 1020.2 375 1019.8 381.5 1018.7 384.5 1017 387.5 1012.5 391.7 1009.5 393.1 1006.5 393.8 1003.5 393.9 1000.5 393.3 997.5 392.1 995 390.4 992.6 388 991 385.5 989 379.5 989.3 373 990.3 370 992 367 994 364.7 996.5 362.7 1002 360.5" fill="none" stroke="#3e5e3e" stroke-width="1.1"/>
<path d="M1016.6 302 1020 301.6 1023.5 301.9 1027 303.1 1030.5 305.1 1033.3 307.5 1035.7 310.5 1037.7 314 1039.1 318 1039.7 322 1039.7 326 1039.2 329.5 1037.7 333.5 1035.5 337 1033.1 339.5 1030.5 341.3 1027 342.7 1023.5 343.2 1020 342.9 1016.5 341.9 1013 339.9 1010.1 337.5 1007.6 334.5 1005.6 331 1004.2 327 1003.5 323 1003.5 319 1004.1 315 1005.6 311 1007.5 308 1010 305.4 1013 303.3 1016.6 302M1054.7 346 1058.5 345.7 1062.5 346.1 1066 347.1 1069.5 348.9 1072.5 351.1 1075.2 354 1077.4 357.5 1078.8 361 1079.6 365 1079.6 368.5 1078.9 372.5 1077.4 376 1075.5 379 1072.5 381.9 1069.5 383.9 1066 385.3 1062 386 1058 386 1054 385.2 1050 383.4 1046.5 381 1043.6 378 1041.3 374.5 1039.7 370.5 1039 366.5 1039.1 362.5 1039.8 359 1041.6 355 1044 351.8 1047 349.2 1050.5 347.3 1054.7 346M1000.9 357.5 1004.5 357.1 1008 357.4 1012 358.7 1015 360.5 1017.9 363 1020.2 366 1021.9 369.5 1023 373.5 1023.3 377.5 1022.8 381.5 1021.8 385 1020 388.5 1017.5 391.6 1014.5 394.1 1011 395.9 1007.5 396.9 1004 397.1 1000.5 396.6 997 395.4 993.5 393.2 990.7 390.5 988.6 387.5 987.2 384.5 986.2 380.5 985.9 377 986.3 373 987.3 369.5 989.4 365.5 991.8 362.5 994.5 360.3 997.5 358.6 1000.9 357.5" fill="none" stroke="#3a5a3a" stroke-width="1.25"/>
</g>
<rect x="971" y="286.5" width="125.5" height="125.5" fill="none" stroke="#444" stroke-width="1.1"/>
<path d="M985 286.5 L985 286.4 L988.5 284.9 L992 281.8 L994.5 278.4 L1000.5 268.5 L1004 264.8 L1007 263.9 L1013.5 264.4 L1019.5 263 L1022 263.7 L1024 265.6 L1033 280.3 L1035.5 283 L1037.5 284.3 L1039 284.7 L1041 284.6 L1044.5 282.6 L1048 278.7 L1055 268.5 L1057.5 266.4 L1059.5 265.9 L1061.5 266.6 L1063.5 268.4 L1071 279.3 L1074 282.7 L1077 285 L1080.5 286.4 L1080.5 286.5" fill="#c5ddc5" stroke="#4a9a4a" stroke-width="1.1"/>
<path d="M1096.5 302 L1096.6 302 L1097.5 305 L1099.2 308 L1108.2 318 L1109.6 320.5 L1110 322.5 L1109.5 324.5 L1108.4 326.5 L1100.9 334.5 L1098.2 338.5 L1097.2 341 L1096.8 343.5 L1097.5 348 L1099.4 351.5 L1102.2 354.5 L1114 363 L1117.5 366 L1119.3 368.5 L1120 371 L1119.2 374 L1116.8 377 L1104 386.5 L1100.2 390 L1098 393 L1096.7 396.5 L1096.5 396.5" fill="#c5ddc5" stroke="#4a9a4a" stroke-width="1.1"/>
<text x="964.5" y="350.2" font-family='"Liberation Sans", sans-serif' font-size="11.5" fill="#333" text-anchor="middle" textLength="63.5" lengthAdjust="spacingAndGlyphs" transform="rotate(-90 964.5 350.2)">Eigenvector 3</text>
<text x="1033.8" y="422.5" font-family='"Liberation Sans", sans-serif' font-size="11.5" fill="#333" text-anchor="middle" textLength="62" lengthAdjust="spacingAndGlyphs">Eigenvector 2</text>
<clipPath id="clip72_738"><rect x="72.3" y="738.3" width="125.5" height="125.5"/></clipPath>
<rect x="72.3" y="738.3" width="125.5" height="125.5" fill="#f2f2f2"/>
<g clip-path="url(#clip72_738)">
<path d="M124.7 756.3 130.3 756.5 135.3 758.9 139.6 763.3 142.6 769.3 143.7 775.3 143.4 781.3 141.6 787.8 137.8 794.8 138.1 796.8 145.8 802.4 147.8 802.8 154.8 802.6 159.8 803.4 165.3 805.5 170.3 808.7 174.4 812.8 177.6 818.3 178.7 823.3 178.1 828.3 176.3 831.8 173.8 834.6 170.3 836.8 166.3 838.1 161.8 838.6 157.3 838.2 152.8 837 148.3 835 142.2 830.3 138 824.3 136.5 819.8 136.4 815.3 137.3 811.8 140.1 806.8 140.3 805.3 137.8 803.7 134.3 803.5 129.8 805.1 123.5 806.3 121.8 807.6 121.6 809.3 123.3 817.8 122.7 824.8 120.2 832.3 115.7 839.3 111.3 843.6 106.8 846.2 102.3 847.4 97.8 847 95.3 845.8 93 843.8 91.2 841.3 90 838.3 89.1 831.3 90.5 823.3 93.6 816.3 97.6 810.8 102.8 806.4 109.9 802.8 112.7 799.3 113.5 797.3 113.6 795.3 110 787.3 108.8 781.8 108.7 776.8 109.6 771.8 112 765.8 115.4 761.3 119.8 758 124.7 756.3Z" fill="#ebe9e8" fill-rule="evenodd"/>
<path d="M124.6 759.8 127.8 759.6 130.8 760.3 133.3 761.5 136 763.8 137.9 766.3 139.7 769.8 140.6 773.3 141 777.3 140 783.8 137.2 789.8 129.3 798.4 127.3 799.7 124.8 800.1 120.8 799.9 119.7 799.3 118.7 795.8 114.5 789.8 113 786.8 111.9 783.3 111.4 778.8 112.5 771.8 115.2 766.3 119.3 762.1 121.8 760.7 124.6 759.8ZM150.2 805.8 156.3 805.6 162.3 807.1 167.8 810.2 171.9 814.3 174.6 819.3 175.3 824.3 174.1 828.8 170.8 832.7 167.8 834.4 164.3 835.5 160.3 835.7 156.3 835.2 152.3 833.9 148.8 832.1 145.7 829.8 143 826.8 141.1 823.8 139.9 820.3 139.7 816.8 140.3 813.8 141.9 810.8 144.3 808.4 147.3 806.6 150.2 805.8ZM108.6 807.3 111.8 806.9 114.3 807.4 116.3 808.9 118.3 811.4 119.7 814.3 120.4 817.8 120.5 821.8 119.9 825.8 116.9 833.3 114.5 836.8 111.8 839.6 108.8 841.9 105.8 843.3 102.8 843.9 99.8 843.7 95.8 841.7 94.2 839.8 92.9 837.3 91.8 831.8 92.5 825.3 95 818.8 98.8 813.4 103.3 809.5 108.6 807.3Z" fill="#b9aca3" fill-rule="evenodd"/>
<path d="M125.2 762.8 129.8 763.2 132.3 764.4 134.3 766.1 137.3 770.8 138.5 776.8 137.7 782.8 135 788.3 130.8 792.1 128.3 793.3 125.8 793.7 123.8 793.5 121.3 792.5 117.3 789 114.8 784.3 113.9 778.8 114.7 773.3 117 768.3 120.8 764.5 125.2 762.8ZM151.5 808.3 156.3 808.1 161.3 809.3 165.8 811.7 169.5 815.3 171.7 819.3 172.3 823.8 171.1 827.8 168.4 830.8 165.8 832.2 162.8 833 159.8 833.2 156.3 832.7 150.3 830.2 145.4 825.8 143.9 823.3 142.9 820.3 142.7 817.3 143.2 814.8 144.6 812.3 146.3 810.6 148.8 809.1 151.5 808.3ZM109.2 810.3 111.8 810.5 113.8 811.4 115.4 812.8 116.8 814.8 117.7 817.3 118.2 820.3 117.3 826.8 114.6 832.8 110.3 837.8 105.3 840.5 102.8 840.9 100.3 840.6 96.9 838.3 94.9 834.8 94.2 829.8 95.1 824.3 97.5 818.8 100.8 814.6 104.8 811.6 109.2 810.3Z" fill="#ae9a8b" fill-rule="evenodd"/>
<path d="M124 765.3 128.3 765 132.3 767 135.2 770.8 136.6 775.8 136.3 781.3 134.3 786 130.8 789.6 126.8 791.1 122.8 790.6 119.3 788.3 117 784.8 115.8 780.3 116 775.3 117.6 770.8 120.3 767.4 124 765.3ZM151.4 810.3 155.3 809.8 159.8 810.6 163.8 812.4 167.3 815.5 169.6 819.3 170.2 822.8 169.4 826.3 167.3 829 165.3 830.3 162.8 831.1 157.3 831.2 151.8 829.1 147.8 825.8 145.2 821.3 144.9 816.8 145.6 814.8 147.1 812.8 149 811.3 151.4 810.3ZM107.1 812.8 109.3 812.5 111.3 812.8 113.2 813.8 114.6 815.3 116.3 819.8 116.1 825.3 114 830.8 110.3 835.5 106.3 838.1 103.8 838.7 101.8 838.6 98.8 837.1 96.9 834.3 96 830.8 96.3 826.3 97.7 821.8 100.3 817.6 103.3 814.7 107.1 812.8Z" fill="#a78e7e" fill-rule="evenodd"/>
<path d="M124.1 767.3 127.8 767 131.3 768.6 133.8 771.8 135 775.8 134.9 780.3 133.3 784.4 130.3 787.7 126.8 789.1 123.8 788.8 120.8 787.1 118.6 784.3 117.4 780.3 117.4 776.3 118.7 772.3 120.9 769.3 124.1 767.3ZM152.5 811.8 156.3 811.5 159.8 812.2 163.3 814 165.9 816.3 167.7 819.3 168.3 822.3 167.7 825.3 165.8 827.7 161.8 829.6 157.3 829.6 152.8 827.9 149.1 824.8 147 820.8 147 816.8 148.8 813.8 152.5 811.8ZM106.7 814.8 110.3 814.7 111.8 815.3 113.3 816.8 114.7 820.3 114.6 825.3 112.8 830 109.8 833.9 105.8 836.4 102.3 836.6 99.8 835.2 98.2 832.8 97.5 829.3 97.8 825.8 99 822.3 101.2 818.8 103.8 816.3 106.7 814.8Z" fill="#9e8371" fill-rule="evenodd"/>
<path d="M124.1 769.3 126.8 768.8 129.8 769.8 132.1 772.3 133.4 775.8 133.4 779.8 132 783.3 129.8 785.8 126.8 787.1 124.3 787 121.8 785.6 119.8 782.8 118.9 779.8 119 776.3 120 773.3 121.8 770.9 124.1 769.3ZM153.6 813.3 156.8 813.1 159.7 813.8 162.5 815.3 164.6 817.3 166 819.8 166.4 822.3 165.7 824.8 164.3 826.5 161.3 827.9 157.3 828 153.3 826.4 150.3 823.8 148.7 820.3 148.9 817.3 150.6 814.8 153.6 813.3ZM106.3 816.8 109.3 816.5 111.8 818 113.1 820.8 113.2 824.8 111.9 828.8 109.3 832.3 106.3 834.3 103.3 834.7 101.3 833.8 99.8 832 99.1 829.3 99.2 826.3 100.1 823.3 101.8 820.4 103.8 818.3 106.3 816.8Z" fill="#977966" fill-rule="evenodd"/>
<path d="M125.8 770.8 128.3 771.2 130.3 772.7 131.5 774.8 132 777.8 131.6 780.3 130.3 782.9 128.3 784.6 125.8 785.2 123.8 784.7 122.1 783.3 120.8 780.9 120.4 778.3 120.7 775.8 121.9 773.3 123.8 771.5 125.8 770.8ZM154.6 814.8 156.8 814.7 159.3 815.3 161.3 816.3 163.3 818.3 164.3 820.3 164.5 822.3 164 823.8 162.8 825.3 160.3 826.4 157.3 826.4 154.3 825.3 152 823.3 150.7 820.8 150.6 818.3 151.8 816.2 154.6 814.8ZM105.9 818.8 108.3 818.4 110.3 819.3 111.7 821.8 111.8 824.8 110.8 827.9 108.8 830.8 106.3 832.5 103.8 832.8 102.3 832.1 101.2 830.8 100.6 828.8 100.7 826.3 102.5 821.8 104.3 819.8 105.9 818.8Z" fill="#8f705b" fill-rule="evenodd"/>
<path d="M125.1 772.8 126.8 772.6 128.6 773.3 129.8 774.8 130.5 776.8 130.4 779.3 129.6 781.3 128.1 782.8 126.3 783.4 124.8 783.2 123.3 782.2 122.4 780.8 121.9 778.8 122.5 775.3 123.6 773.8 125.1 772.8ZM155 816.3 158.8 816.6 161.8 818.8 162.8 821.8 162.3 823.3 161.3 824.3 159.3 825 157.3 825 155.3 824.2 153.3 822.6 152.4 820.8 152.3 818.8 153.3 817.2 155 816.3ZM106.5 820.3 108.3 820.3 109.7 821.3 110.3 822.8 110.3 825.3 109.4 827.8 107.8 829.8 106.2 830.8 104.3 831 103.1 830.3 102.3 829.2 102.1 825.8 103.8 822.2 106.5 820.3Z" fill="#6c5547" fill-rule="evenodd"/>
<path d="M126.1 774.3 128.3 775.3 129.2 777.8 128.3 780.5 126.3 781.7 124.2 780.8 123.2 778.3 123.9 775.8 124.8 774.8 126.1 774.3ZM155.4 817.8 157.8 817.7 159.9 818.8 161.1 820.8 160.5 822.8 159.3 823.5 157.8 823.6 155 822.3 153.9 819.8 154.3 818.7 155.4 817.8ZM105.7 822.3 107.3 821.9 108.2 822.3 108.9 823.3 109.1 824.8 107.8 827.9 106.8 828.8 105.3 829.3 103.8 828.5 103.3 826.3 104.2 823.8 105.7 822.3Z" fill="#141110" fill-rule="evenodd"/>
<path d="M125.6 777.3 126.3 777 126.8 777.3 127 778.3 126.3 779 125.8 778.9 125.4 778.3 125.6 777.3ZM157 819.8 157.8 819.8 158.4 820.3 158.2 821.3 157.3 821.4 156.8 821.1 156.5 820.3 157 819.8ZM105.9 824.8 106.8 824.7 107 825.3 106.6 826.3 105.8 826.6 105.4 825.8 105.9 824.8Z" fill="#b87448"/>
<path d="M126.1 774.3 128.3 775.3 129.2 777.8 128.3 780.5 126.3 781.7 124.2 780.8 123.2 778.3 123.9 775.8 124.8 774.8 126.1 774.3M155.4 817.8 157.8 817.7 159.9 818.8 161.1 820.8 160.5 822.8 159.3 823.5 157.8 823.6 155 822.3 153.9 819.8 154.3 818.7 155.4 817.8M105.7 822.3 107.3 821.9 108.2 822.3 108.9 823.3 109.1 824.8 107.8 827.9 106.8 828.8 105.3 829.3 103.8 828.5 103.3 826.3 104.2 823.8 105.7 822.3" fill="none" stroke="#050505" stroke-width="1.0"/>
<path d="M125.1 772.8 126.8 772.6 128.6 773.3 129.8 774.8 130.5 776.8 130.4 779.3 129.6 781.3 128.1 782.8 126.3 783.4 124.8 783.2 123.3 782.2 122.4 780.8 121.9 778.8 122.5 775.3 123.6 773.8 125.1 772.8M155 816.3 158.8 816.6 161.8 818.8 162.8 821.8 162.3 823.3 161.3 824.3 159.3 825 157.3 825 155.3 824.2 153.3 822.6 152.4 820.8 152.3 818.8 153.3 817.2 155 816.3M106.5 820.3 108.3 820.3 109.7 821.3 110.3 822.8 110.3 825.3 109.4 827.8 107.8 829.8 106.2 830.8 104.3 831 103.1 830.3 102.3 829.2 102.1 825.8 103.8 822.2 106.5 820.3" fill="none" stroke="#b07a58" stroke-width="0.8"/>
<path d="M125.8 770.8 128.3 771.2 130.3 772.7 131.5 774.8 132 777.8 131.6 780.3 130.3 782.9 128.3 784.6 125.8 785.2 123.8 784.7 122.1 783.3 120.8 780.9 120.4 778.3 120.7 775.8 121.9 773.3 123.8 771.5 125.8 770.8M154.6 814.8 156.8 814.7 159.3 815.3 161.3 816.3 163.3 818.3 164.3 820.3 164.5 822.3 164 823.8 162.8 825.3 160.3 826.4 157.3 826.4 154.3 825.3 152 823.3 150.7 820.8 150.6 818.3 151.8 816.2 154.6 814.8M105.9 818.8 108.3 818.4 110.3 819.3 111.7 821.8 111.8 824.8 110.8 827.9 108.8 830.8 106.3 832.5 103.8 832.8 102.3 832.1 101.2 830.8 100.6 828.8 100.7 826.3 102.5 821.8 104.3 819.8 105.9 818.8" fill="none" stroke="#b69684" stroke-width="0.6"/>
<path d="M124.1 769.3 126.8 768.8 129.8 769.8 132.1 772.3 133.4 775.8 133.4 779.8 132 783.3 129.8 785.8 126.8 787.1 124.3 787 121.8 785.6 119.8 782.8 118.9 779.8 119 776.3 120 773.3 121.8 770.9 124.1 769.3M153.6 813.3 156.8 813.1 159.7 813.8 162.5 815.3 164.6 817.3 166 819.8 166.4 822.3 165.7 824.8 164.3 826.5 161.3 827.9 157.3 828 153.3 826.4 150.3 823.8 148.7 820.3 148.9 817.3 150.6 814.8 153.6 813.3M106.3 816.8 109.3 816.5 111.8 818 113.1 820.8 113.2 824.8 111.9 828.8 109.3 832.3 106.3 834.3 103.3 834.7 101.3 833.8 99.8 832 99.1 829.3 99.2 826.3 100.1 823.3 101.8 820.4 103.8 818.3 106.3 816.8" fill="none" stroke="#bca190" stroke-width="0.6"/>
<path d="M124.1 767.3 127.8 767 131.3 768.6 133.8 771.8 135 775.8 134.9 780.3 133.3 784.4 130.3 787.7 126.8 789.1 123.8 788.8 120.8 787.1 118.6 784.3 117.4 780.3 117.4 776.3 118.7 772.3 120.9 769.3 124.1 767.3M152.5 811.8 156.3 811.5 159.8 812.2 163.3 814 165.9 816.3 167.7 819.3 168.3 822.3 167.7 825.3 165.8 827.7 161.8 829.6 157.3 829.6 152.8 827.9 149.1 824.8 147 820.8 147 816.8 148.8 813.8 152.5 811.8M106.7 814.8 110.3 814.7 111.8 815.3 113.3 816.8 114.7 820.3 114.6 825.3 112.8 830 109.8 833.9 105.8 836.4 102.3 836.6 99.8 835.2 98.2 832.8 97.5 829.3 97.8 825.8 99 822.3 101.2 818.8 103.8 816.3 106.7 814.8" fill="none" stroke="#c2ab9c" stroke-width="0.6"/>
<path d="M124 765.3 128.3 765 132.3 767 135.2 770.8 136.6 775.8 136.3 781.3 134.3 786 130.8 789.6 126.8 791.1 122.8 790.6 119.3 788.3 117 784.8 115.8 780.3 116 775.3 117.6 770.8 120.3 767.4 124 765.3M151.4 810.3 155.3 809.8 159.8 810.6 163.8 812.4 167.3 815.5 169.6 819.3 170.2 822.8 169.4 826.3 167.3 829 165.3 830.3 162.8 831.1 157.3 831.2 151.8 829.1 147.8 825.8 145.2 821.3 144.9 816.8 145.6 814.8 147.1 812.8 149 811.3 151.4 810.3M107.1 812.8 109.3 812.5 111.3 812.8 113.2 813.8 114.6 815.3 116.3 819.8 116.1 825.3 114 830.8 110.3 835.5 106.3 838.1 103.8 838.7 101.8 838.6 98.8 837.1 96.9 834.3 96 830.8 96.3 826.3 97.7 821.8 100.3 817.6 103.3 814.7 107.1 812.8" fill="none" stroke="#807068" stroke-width="0.7"/>
<path d="M125.2 762.8 129.8 763.2 132.3 764.4 134.3 766.1 137.3 770.8 138.5 776.8 137.7 782.8 135 788.3 130.8 792.1 128.3 793.3 125.8 793.7 123.8 793.5 121.3 792.5 117.3 789 114.8 784.3 113.9 778.8 114.7 773.3 117 768.3 120.8 764.5 125.2 762.8M151.5 808.3 156.3 808.1 161.3 809.3 165.8 811.7 169.5 815.3 171.7 819.3 172.3 823.8 171.1 827.8 168.4 830.8 165.8 832.2 162.8 833 159.8 833.2 156.3 832.7 150.3 830.2 145.4 825.8 143.9 823.3 142.9 820.3 142.7 817.3 143.2 814.8 144.6 812.3 146.3 810.6 148.8 809.1 151.5 808.3M109.2 810.3 111.8 810.5 113.8 811.4 115.4 812.8 116.8 814.8 117.7 817.3 118.2 820.3 117.3 826.8 114.6 832.8 110.3 837.8 105.3 840.5 102.8 840.9 100.3 840.6 96.9 838.3 94.9 834.8 94.2 829.8 95.1 824.3 97.5 818.8 100.8 814.6 104.8 811.6 109.2 810.3" fill="none" stroke="#686060" stroke-width="0.8"/>
<path d="M124.6 759.8 127.8 759.6 130.8 760.3 133.3 761.5 136 763.8 137.9 766.3 139.7 769.8 140.6 773.3 141 777.3 140 783.8 137.2 789.8 129.3 798.4 127.3 799.7 124.8 800.1 120.8 799.9 119.7 799.3 118.7 795.8 114.5 789.8 113 786.8 111.9 783.3 111.4 778.8 112.5 771.8 115.2 766.3 119.3 762.1 121.8 760.7 124.6 759.8M150.2 805.8 156.3 805.6 162.3 807.1 167.8 810.2 171.9 814.3 174.6 819.3 175.3 824.3 174.1 828.8 170.8 832.7 167.8 834.4 164.3 835.5 160.3 835.7 156.3 835.2 152.3 833.9 148.8 832.1 145.7 829.8 143 826.8 141.1 823.8 139.9 820.3 139.7 816.8 140.3 813.8 141.9 810.8 144.3 808.4 147.3 806.6 150.2 805.8M108.6 807.3 111.8 806.9 114.3 807.4 116.3 808.9 118.3 811.4 119.7 814.3 120.4 817.8 120.5 821.8 119.9 825.8 116.9 833.3 114.5 836.8 111.8 839.6 108.8 841.9 105.8 843.3 102.8 843.9 99.8 843.7 95.8 841.7 94.2 839.8 92.9 837.3 91.8 831.8 92.5 825.3 95 818.8 98.8 813.4 103.3 809.5 108.6 807.3" fill="none" stroke="#505050" stroke-width="1.1"/>
<path d="M124.7 756.3 130.3 756.5 135.3 758.9 139.6 763.3 142.6 769.3 143.7 775.3 143.4 781.3 141.6 787.8 137.8 794.8 138.1 796.8 145.8 802.4 147.8 802.8 154.8 802.6 159.8 803.4 165.3 805.5 170.3 808.7 174.4 812.8 177.6 818.3 178.7 823.3 178.1 828.3 176.3 831.8 173.8 834.6 170.3 836.8 166.3 838.1 161.8 838.6 157.3 838.2 152.8 837 148.3 835 142.2 830.3 138 824.3 136.5 819.8 136.4 815.3 137.3 811.8 140.1 806.8 140.3 805.3 137.8 803.7 134.3 803.5 129.8 805.1 123.5 806.3 121.8 807.6 121.6 809.3 123.3 817.8 122.7 824.8 120.2 832.3 115.7 839.3 111.3 843.6 106.8 846.2 102.3 847.4 97.8 847 95.3 845.8 93 843.8 91.2 841.3 90 838.3 89.1 831.3 90.5 823.3 93.6 816.3 97.6 810.8 102.8 806.4 109.9 802.8 112.7 799.3 113.5 797.3 113.6 795.3 110 787.3 108.8 781.8 108.7 776.8 109.6 771.8 112 765.8 115.4 761.3 119.8 758 124.7 756.3" fill="none" stroke="#484848" stroke-width="1.25"/>
</g>
<rect x="72.3" y="738.3" width="125.5" height="125.5" fill="none" stroke="#444" stroke-width="1.1"/>
<path d="M88.3 738.3 L88.3 738.2 L91.3 736.8 L94.3 733.9 L96.8 730.1 L102.3 720.1 L103.8 718.1 L105.3 716.9 L106.8 716.5 L108.3 716.9 L113.3 721 L115.8 721.8 L118.3 720.8 L123.3 715.9 L125.8 714.8 L127.3 715.2 L129.3 717.1 L136.3 729.1 L138.3 731.4 L139.8 732.5 L141.8 732.9 L144.3 732.1 L146.8 729.9 L153.8 722 L156.3 720.6 L158.3 720.5 L160.3 721.4 L162.3 723.1 L169.3 731.7 L172.3 734.7 L175.8 737 L179.3 738.2 L179.3 738.3" fill="#bababa" stroke="#3a3a3a" stroke-width="1.1"/>
<path d="M197.8 757.3 L197.9 757.3 L199.9 762.8 L207.5 773.3 L208.7 775.8 L209 777.8 L208.8 779.8 L207.7 782.3 L201.4 790.8 L199.7 794.3 L199.2 797.8 L200.1 804.8 L201.6 807.3 L204.3 809.8 L219.2 818.8 L220.9 820.8 L221.3 822.3 L220.6 824.3 L218.7 826.3 L207.2 833.8 L202.4 837.8 L199.4 841.8 L197.9 846.3 L197.8 846.3" fill="#bababa" stroke="#3a3a3a" stroke-width="1.1"/>
<text x="65.8" y="802" font-family='"Liberation Sans", sans-serif' font-size="11.5" fill="#333" text-anchor="middle" textLength="63.5" lengthAdjust="spacingAndGlyphs" transform="rotate(-90 65.8 802)">Eigenvector 3</text>
<text x="135.1" y="874.3" font-family='"Liberation Sans", sans-serif' font-size="11.5" fill="#333" text-anchor="middle" textLength="62" lengthAdjust="spacingAndGlyphs">Eigenvector 2</text>
<clipPath id="clip242_738"><rect x="242.5" y="738.3" width="125.5" height="125.5"/></clipPath>
<rect x="242.5" y="738.3" width="125.5" height="125.5" fill="#e6fce6"/>
<g clip-path="url(#clip242_738)">
<path d="M290.3 758.8 294.5 758.4 299 759.1 303 761 306.5 763.9 309.3 767.8 310.9 771.8 311.7 776.8 311.3 781.8 309.2 787.8 306 792.6 302.5 795.6 295.1 799.3 293 802.3 293 804.8 296.4 811.3 297.7 817.3 297.1 824.3 294.4 830.8 290.8 835.3 286 838.7 281 840.2 275.5 840.2 272 839.2 269 837.5 266.4 835.3 264.1 832.3 262.4 828.8 261.4 824.8 261.1 820.8 261.5 817.3 263.8 810.8 267.5 805.8 271.5 802.6 279.5 799.3 281.1 797.8 281.5 796.3 281.3 794.8 277.7 788.8 275.9 783.8 275.3 779.3 275.8 774.3 277.8 768.8 281 764.3 285.5 760.7 290.3 758.8ZM320.4 794.3 327 793.9 334 795.1 341 798.1 345.9 801.8 349.3 806.3 350.3 808.8 350.8 811.8 349.9 816.8 347 821.1 343.5 823.8 339.5 825.5 334.5 826.7 329 826.8 323.5 826.1 318.5 824.5 314 822.1 309.9 818.8 307.1 815.3 305.4 811.3 305.1 807.3 306.2 803.3 308.5 799.8 311.5 797.4 315.5 795.5 320.4 794.3Z" fill="#b2f2b2" fill-rule="evenodd"/>
<path d="M291.3 761.8 294.5 761.5 298 762.1 301 763.4 304 765.7 306.1 768.3 307.8 771.8 308.6 775.3 308.8 778.8 308.2 782.3 307.2 785.3 305.5 788.3 303 791.1 298.5 794 289 797 288 796.6 282.8 790.8 280.3 787.3 278.6 782.8 278.2 777.8 279.4 772.3 282.3 767.3 286.5 763.7 291.3 761.8ZM322 796.8 327.5 796.6 333.5 797.7 339 800.1 343.2 803.3 346.1 807.3 347.2 811.8 346.5 815.8 344 819.4 341 821.7 337.5 823.2 333 824.1 328.5 824.2 324 823.5 319.5 822 316 820.1 312.6 817.3 310.3 814.3 309.1 811.3 308.8 807.8 309.6 804.8 311.5 801.9 314 799.7 317.5 797.9 322 796.8ZM279 803.3 283 803.1 285.5 803.4 289.5 806.6 292 809.8 293.6 812.8 294.5 816.3 294.8 819.8 294.3 823.3 293.2 826.8 289.6 832.3 287 834.5 284 836.2 281 837 278 837.3 272.5 835.9 267.9 832.3 266.2 829.8 264.9 826.8 264 820.8 265.2 814.8 268.5 809.1 271 806.7 273.5 805 279 803.3Z" fill="#66cc66" fill-rule="evenodd"/>
<path d="M290.7 764.8 293.5 764.3 296 764.5 300.5 766.4 304.2 770.3 306.1 775.8 305.7 781.8 303.3 786.8 299.5 790.4 294.5 792.2 290 792 285.5 789.5 282.5 785.8 280.9 780.8 281.1 775.8 283 770.8 286.5 766.9 290.7 764.8ZM321.8 799.3 326.5 798.9 331.5 799.5 336 801.2 340 803.9 342.8 807.3 343.9 810.8 343.6 814.3 341.5 817.7 339 819.7 336 821 332.5 821.8 329 821.9 322 820.5 318.5 818.8 315.9 816.8 313.7 814.3 312.5 811.8 312 808.8 312.5 806.3 313.9 803.8 316 801.8 318.5 800.3 321.8 799.3ZM278.4 806.3 283.5 806.6 286 807.7 288 809.3 291.1 813.8 292.2 819.3 291.3 824.8 288.4 829.8 284 833.2 279 834.4 274.5 833.6 270.3 830.8 267.7 826.8 266.6 821.3 267.4 816.3 270 811.3 274 807.9 278.4 806.3Z" fill="#52c252" fill-rule="evenodd"/>
<path d="M290.8 766.8 295.5 766.5 299.5 768.1 302.6 771.3 304.2 775.8 304.2 780.3 302.4 784.8 299.2 788.3 295 790.1 291 790.1 287 788.2 284.2 784.8 282.8 780.8 282.8 776.3 284.3 772.3 287 768.9 290.8 766.8ZM323.1 800.8 327.5 800.5 331.5 801.2 335.5 802.8 338.8 805.3 340.9 808.3 341.7 811.3 341.1 814.3 339.4 816.8 335 819.5 329 820.3 322.5 818.9 317.5 815.8 315.8 813.8 314.6 811.3 314.3 808.8 314.7 806.8 316 804.6 318 802.8 323.1 800.8ZM278.6 808.3 283 808.7 286.7 810.8 289.4 814.8 290.4 819.3 289.7 823.8 287.2 828.3 283.5 831.2 279 832.4 275 831.6 271.6 829.3 269.4 825.8 268.4 821.3 269.1 816.8 271.2 812.8 274.5 809.8 278.6 808.3Z" fill="#47bb47" fill-rule="evenodd"/>
<path d="M292.2 768.3 296 768.4 299 769.9 301.4 772.8 302.7 776.8 302.4 780.8 300.5 784.7 297.5 787.3 294 788.4 290.5 788 287.5 786.2 285.3 783.3 284.3 779.8 284.6 775.8 286.2 772.3 289 769.6 292.2 768.3ZM323.6 802.3 327.5 802 331 802.6 334 803.8 336.9 805.8 338.8 808.3 339.6 810.8 339.3 813.3 337.7 815.8 334 818.1 328.5 818.8 323 817.5 319 814.9 316.7 811.3 316.4 809.3 316.8 807.3 319.1 804.3 323.6 802.3ZM277.8 810.3 281.5 810.2 285 811.8 287.5 814.8 288.7 818.8 288.3 822.8 286.2 826.8 283 829.5 279.5 830.5 276 830.1 273.2 828.3 271 825.3 270.1 821.8 270.5 817.8 272 814.6 274.5 811.9 277.8 810.3Z" fill="#3cab3c" fill-rule="evenodd"/>
<path d="M291.5 770.3 294.5 770 297.5 771 299.8 773.3 301 776.3 300.9 779.8 299.8 782.8 297.5 785.3 294.5 786.6 291.5 786.4 289 785.2 287 782.9 286 780.3 286 777.3 286.9 774.3 288.9 771.8 291.5 770.3ZM324 803.8 327 803.5 330 803.9 332.7 804.8 335 806.3 336.7 808.3 337.6 810.8 337.3 812.8 336.1 814.8 333 816.7 328.5 817.3 324.5 816.5 320.8 814.3 318.7 811.3 318.6 808.3 320.5 805.5 324 803.8ZM277.3 812.3 280.5 811.9 283.5 812.9 285.8 815.3 286.9 818.3 286.8 821.8 285.5 825 283 827.5 280 828.7 277 828.5 274.7 827.3 273 825.3 271.9 822.3 271.9 819.3 272.9 816.3 274.8 813.8 277.3 812.3Z" fill="#349b34" fill-rule="evenodd"/>
<path d="M292.7 771.8 295 771.9 297 772.8 298.7 774.8 299.5 777.3 299.3 779.8 298.2 782.3 296.5 783.9 294 784.9 291.5 784.6 289.5 783.4 288.1 781.3 287.5 779.3 287.7 776.8 288.8 774.3 290.5 772.7 292.7 771.8ZM324.5 805.3 327 804.9 329.5 805.2 333.5 807.2 334.9 808.8 335.5 810.3 335.3 812.3 334.5 813.7 332.1 815.3 329 815.9 325.5 815.3 322.5 813.6 320.8 811.3 320.6 808.8 321.8 806.8 324.5 805.3ZM278.4 813.8 281 813.8 283 814.7 284.7 816.8 285.4 819.3 285.2 821.8 284 824.3 282 826.1 279.5 827 277.5 826.7 275.5 825.6 274.1 823.8 273.4 821.3 273.6 818.8 274.5 816.7 276.3 814.8 278.4 813.8Z" fill="#2d8b2d" fill-rule="evenodd"/>
<path d="M291.7 773.8 293.5 773.3 295.5 773.8 297 775 297.9 776.8 298 778.8 297.3 780.8 296.1 782.3 294.5 783.1 292.5 783.2 291 782.5 289.1 779.8 289.4 776.3 291.7 773.8ZM326.9 806.3 330.5 807 332.9 808.8 333.7 811.3 332.5 813.3 330.5 814.3 328 814.5 325.4 813.8 323.3 812.3 322.3 810.3 322.8 808.3 324.5 806.9 326.9 806.3ZM279.3 815.3 281 815.5 282.5 816.4 283.7 818.3 283.9 820.3 283.5 822.3 282.5 823.8 281 824.9 279 825.3 277.5 825 276 823.8 275.1 822.3 274.9 820.3 275.3 818.3 276.3 816.8 277.6 815.8 279.3 815.3Z" fill="#1f6c1f" fill-rule="evenodd"/>
<path d="M292.2 775.3 294.5 775.1 296.3 776.8 296.4 779.3 295.5 780.8 294.5 781.5 292 781.3 290.7 779.8 290.6 777.3 292.2 775.3ZM326.1 807.8 328.5 807.7 330.5 808.5 331.8 810.3 331.5 811.9 330.5 812.7 329 813.2 327 813 325.5 812.3 324.5 811.3 324.1 809.8 324.6 808.8 326.1 807.8ZM278.1 817.3 279.5 816.9 281 817.3 282.4 819.3 282 822 280 823.6 278 823.4 276.5 821.7 276.5 819.3 278.1 817.3Z" fill="#031e03" fill-rule="evenodd"/>
<path d="M292.8 777.8 293.5 777.3 294 777.5 294.3 778.3 294 779 293.5 779.3 293 779.1 292.7 778.3 292.8 777.8ZM327.2 809.8 328.6 809.8 329.1 810.3 329 810.8 328.5 811.1 327.5 811 326.9 810.3 327.2 809.8ZM278.7 819.8 279.5 819.3 280 819.6 280.2 820.3 280 820.9 279 821.2 278.5 820.3 278.7 819.8Z" fill="#8a7a48"/>
<path d="M292.2 775.3 294.5 775.1 296.3 776.8 296.4 779.3 295.5 780.8 294.5 781.5 292 781.3 290.7 779.8 290.6 777.3 292.2 775.3M326.1 807.8 328.5 807.7 330.5 808.5 331.8 810.3 331.5 811.9 330.5 812.7 329 813.2 327 813 325.5 812.3 324.5 811.3 324.1 809.8 324.6 808.8 326.1 807.8M278.1 817.3 279.5 816.9 281 817.3 282.4 819.3 282 822 280 823.6 278 823.4 276.5 821.7 276.5 819.3 278.1 817.3" fill="none" stroke="#050505" stroke-width="1.0"/>
<path d="M291.7 773.8 293.5 773.3 295.5 773.8 297 775 297.9 776.8 298 778.8 297.3 780.8 296.1 782.3 294.5 783.1 292.5 783.2 291 782.5 289.1 779.8 289.4 776.3 291.7 773.8M326.9 806.3 330.5 807 332.9 808.8 333.7 811.3 332.5 813.3 330.5 814.3 328 814.5 325.4 813.8 323.3 812.3 322.3 810.3 322.8 808.3 324.5 806.9 326.9 806.3M279.3 815.3 281 815.5 282.5 816.4 283.7 818.3 283.9 820.3 283.5 822.3 282.5 823.8 281 824.9 279 825.3 277.5 825 276 823.8 275.1 822.3 274.9 820.3 275.3 818.3 276.3 816.8 277.6 815.8 279.3 815.3" fill="none" stroke="#948650" stroke-width="0.8"/>
<path d="M292.7 771.8 295 771.9 297 772.8 298.7 774.8 299.5 777.3 299.3 779.8 298.2 782.3 296.5 783.9 294 784.9 291.5 784.6 289.5 783.4 288.1 781.3 287.5 779.3 287.7 776.8 288.8 774.3 290.5 772.7 292.7 771.8M324.5 805.3 327 804.9 329.5 805.2 333.5 807.2 334.9 808.8 335.5 810.3 335.3 812.3 334.5 813.7 332.1 815.3 329 815.9 325.5 815.3 322.5 813.6 320.8 811.3 320.6 808.8 321.8 806.8 324.5 805.3M278.4 813.8 281 813.8 283 814.7 284.7 816.8 285.4 819.3 285.2 821.8 284 824.3 282 826.1 279.5 827 277.5 826.7 275.5 825.6 274.1 823.8 273.4 821.3 273.6 818.8 274.5 816.7 276.3 814.8 278.4 813.8" fill="none" stroke="#88944a" stroke-width="0.6"/>
<path d="M291.5 770.3 294.5 770 297.5 771 299.8 773.3 301 776.3 300.9 779.8 299.8 782.8 297.5 785.3 294.5 786.6 291.5 786.4 289 785.2 287 782.9 286 780.3 286 777.3 286.9 774.3 288.9 771.8 291.5 770.3M324 803.8 327 803.5 330 803.9 332.7 804.8 335 806.3 336.7 808.3 337.6 810.8 337.3 812.8 336.1 814.8 333 816.7 328.5 817.3 324.5 816.5 320.8 814.3 318.7 811.3 318.6 808.3 320.5 805.5 324 803.8M277.3 812.3 280.5 811.9 283.5 812.9 285.8 815.3 286.9 818.3 286.8 821.8 285.5 825 283 827.5 280 828.7 277 828.5 274.7 827.3 273 825.3 271.9 822.3 271.9 819.3 272.9 816.3 274.8 813.8 277.3 812.3" fill="none" stroke="#78b050" stroke-width="0.6"/>
<path d="M292.2 768.3 296 768.4 299 769.9 301.4 772.8 302.7 776.8 302.4 780.8 300.5 784.7 297.5 787.3 294 788.4 290.5 788 287.5 786.2 285.3 783.3 284.3 779.8 284.6 775.8 286.2 772.3 289 769.6 292.2 768.3M323.6 802.3 327.5 802 331 802.6 334 803.8 336.9 805.8 338.8 808.3 339.6 810.8 339.3 813.3 337.7 815.8 334 818.1 328.5 818.8 323 817.5 319 814.9 316.7 811.3 316.4 809.3 316.8 807.3 319.1 804.3 323.6 802.3M277.8 810.3 281.5 810.2 285 811.8 287.5 814.8 288.7 818.8 288.3 822.8 286.2 826.8 283 829.5 279.5 830.5 276 830.1 273.2 828.3 271 825.3 270.1 821.8 270.5 817.8 272 814.6 274.5 811.9 277.8 810.3" fill="none" stroke="#80d880" stroke-width="0.6"/>
<path d="M290.8 766.8 295.5 766.5 299.5 768.1 302.6 771.3 304.2 775.8 304.2 780.3 302.4 784.8 299.2 788.3 295 790.1 291 790.1 287 788.2 284.2 784.8 282.8 780.8 282.8 776.3 284.3 772.3 287 768.9 290.8 766.8M323.1 800.8 327.5 800.5 331.5 801.2 335.5 802.8 338.8 805.3 340.9 808.3 341.7 811.3 341.1 814.3 339.4 816.8 335 819.5 329 820.3 322.5 818.9 317.5 815.8 315.8 813.8 314.6 811.3 314.3 808.8 314.7 806.8 316 804.6 318 802.8 323.1 800.8M278.6 808.3 283 808.7 286.7 810.8 289.4 814.8 290.4 819.3 289.7 823.8 287.2 828.3 283.5 831.2 279 832.4 275 831.6 271.6 829.3 269.4 825.8 268.4 821.3 269.1 816.8 271.2 812.8 274.5 809.8 278.6 808.3" fill="none" stroke="#5a8a5a" stroke-width="0.7"/>
<path d="M290.7 764.8 293.5 764.3 296 764.5 300.5 766.4 304.2 770.3 306.1 775.8 305.7 781.8 303.3 786.8 299.5 790.4 294.5 792.2 290 792 285.5 789.5 282.5 785.8 280.9 780.8 281.1 775.8 283 770.8 286.5 766.9 290.7 764.8M321.8 799.3 326.5 798.9 331.5 799.5 336 801.2 340 803.9 342.8 807.3 343.9 810.8 343.6 814.3 341.5 817.7 339 819.7 336 821 332.5 821.8 329 821.9 322 820.5 318.5 818.8 315.9 816.8 313.7 814.3 312.5 811.8 312 808.8 312.5 806.3 313.9 803.8 316 801.8 318.5 800.3 321.8 799.3M278.4 806.3 283.5 806.6 286 807.7 288 809.3 291.1 813.8 292.2 819.3 291.3 824.8 288.4 829.8 284 833.2 279 834.4 274.5 833.6 270.3 830.8 267.7 826.8 266.6 821.3 267.4 816.3 270 811.3 274 807.9 278.4 806.3" fill="none" stroke="#4a704a" stroke-width="0.8"/>
<path d="M291.3 761.8 294.5 761.5 298 762.1 301 763.4 304 765.7 306.1 768.3 307.8 771.8 308.6 775.3 308.8 778.8 308.2 782.3 307.2 785.3 305.5 788.3 303 791.1 298.5 794 289 797 288 796.6 282.8 790.8 280.3 787.3 278.6 782.8 278.2 777.8 279.4 772.3 282.3 767.3 286.5 763.7 291.3 761.8M322 796.8 327.5 796.6 333.5 797.7 339 800.1 343.2 803.3 346.1 807.3 347.2 811.8 346.5 815.8 344 819.4 341 821.7 337.5 823.2 333 824.1 328.5 824.2 324 823.5 319.5 822 316 820.1 312.6 817.3 310.3 814.3 309.1 811.3 308.8 807.8 309.6 804.8 311.5 801.9 314 799.7 317.5 797.9 322 796.8M279 803.3 283 803.1 285.5 803.4 289.5 806.6 292 809.8 293.6 812.8 294.5 816.3 294.8 819.8 294.3 823.3 293.2 826.8 289.6 832.3 287 834.5 284 836.2 281 837 278 837.3 272.5 835.9 267.9 832.3 266.2 829.8 264.9 826.8 264 820.8 265.2 814.8 268.5 809.1 271 806.7 273.5 805 279 803.3" fill="none" stroke="#3e5e3e" stroke-width="1.1"/>
<path d="M290.3 758.8 294.5 758.4 299 759.1 303 761 306.5 763.9 309.3 767.8 310.9 771.8 311.7 776.8 311.3 781.8 309.2 787.8 306 792.6 302.5 795.6 295.1 799.3 293 802.3 293 804.8 296.4 811.3 297.7 817.3 297.1 824.3 294.4 830.8 290.8 835.3 286 838.7 281 840.2 275.5 840.2 272 839.2 269 837.5 266.4 835.3 264.1 832.3 262.4 828.8 261.4 824.8 261.1 820.8 261.5 817.3 263.8 810.8 267.5 805.8 271.5 802.6 279.5 799.3 281.1 797.8 281.5 796.3 281.3 794.8 277.7 788.8 275.9 783.8 275.3 779.3 275.8 774.3 277.8 768.8 281 764.3 285.5 760.7 290.3 758.8M320.4 794.3 327 793.9 334 795.1 341 798.1 345.9 801.8 349.3 806.3 350.3 808.8 350.8 811.8 349.9 816.8 347 821.1 343.5 823.8 339.5 825.5 334.5 826.7 329 826.8 323.5 826.1 318.5 824.5 314 822.1 309.9 818.8 307.1 815.3 305.4 811.3 305.1 807.3 306.2 803.3 308.5 799.8 311.5 797.4 315.5 795.5 320.4 794.3" fill="none" stroke="#3a5a3a" stroke-width="1.25"/>
</g>
<rect x="242.5" y="738.3" width="125.5" height="125.5" fill="none" stroke="#444" stroke-width="1.1"/>
<path d="M261 738.3 L261 738.1 L264.5 736.5 L267.5 733.7 L276 721 L279 717.5 L282.5 715.5 L287 714.8 L290.5 715.4 L294 717.6 L297 721.2 L304 731.6 L306 733.6 L308 734.7 L310.5 735.1 L313 734.3 L316 732.2 L323.5 725.5 L326 724.1 L328.5 723.8 L330.5 724.3 L333 725.8 L340.5 732.8 L344 735.5 L347 737.1 L350.5 738.2 L350.5 738.3" fill="#c5ddc5" stroke="#4a9a4a" stroke-width="1.1"/>
<path d="M368 759.3 L368.1 759.3 L369.2 762.3 L370.6 764.8 L378.6 773.8 L379.8 775.8 L380.4 777.8 L380.2 779.8 L379 782.3 L372.7 789.3 L371 791.8 L370.4 794.3 L370.7 796.3 L372.4 798.8 L375.4 801.3 L388.9 809.3 L390.9 811.3 L391.5 813.3 L390.6 815.8 L388.4 818.3 L376.6 827.8 L372.4 831.8 L369.5 835.8 L368.1 839.8 L368 839.8" fill="#c5ddc5" stroke="#4a9a4a" stroke-width="1.1"/>
<text x="236" y="802" font-family='"Liberation Sans", sans-serif' font-size="11.5" fill="#333" text-anchor="middle" textLength="63.5" lengthAdjust="spacingAndGlyphs" transform="rotate(-90 236 802)">Eigenvector 3</text>
<text x="305.2" y="874.3" font-family='"Liberation Sans", sans-serif' font-size="11.5" fill="#333" text-anchor="middle" textLength="62" lengthAdjust="spacingAndGlyphs">Eigenvector 2</text>
<clipPath id="clip436_738"><rect x="436.4" y="738.3" width="125.5" height="125.5"/></clipPath>
<rect x="436.4" y="738.3" width="125.5" height="125.5" fill="#f2f2f2"/>
<g clip-path="url(#clip436_738)">
<path d="M502 769.8 506.4 769.7 510.4 771.8 513.5 775.8 515.7 781.3 516.8 788.3 516.6 795.8 515.6 802.8 513 812.3 513.9 813 521.4 814.1 527.4 815.9 532.9 818.7 537.7 822.3 541.1 826.3 543.1 830.8 543.4 835.3 541.9 839.3 539.3 842.3 535.4 844.7 530.9 846.1 525.9 846.7 517.9 846.1 510.4 844 503.9 840.5 496.9 834.9 495.4 835.4 490.4 839 485.9 841.5 480.9 843.6 475.4 845.2 469.9 845.9 464.9 845.8 460.4 844.9 456.4 843.2 453.2 840.3 451.4 836.3 451.5 831.8 453.6 826.8 458.4 821 464.9 816.2 472.4 812.6 482.4 809.8 483 808.3 483.5 800.8 484.7 794.3 486.3 788.8 488.6 783.3 491.5 778.3 494.9 774.2 498.4 771.4 502 769.8Z" fill="#ebe9e8" fill-rule="evenodd"/>
<path d="M502.3 774.3 505.9 774.5 509.4 776.7 512 780.8 513.7 786.3 514.2 792.8 513.6 799.3 512.1 805.8 509.3 813.3 509.3 815.3 510.4 815.9 517.4 816.1 522.9 817.1 527.9 819 532.9 822 536.8 825.8 539 829.8 539.6 833.8 538.3 837.8 534.9 841.2 530.4 843.2 524.4 844.1 517.9 843.6 511.4 841.6 506.4 838.9 502.9 836.1 498.9 830.8 497.4 830 495.9 830.7 491.9 834.6 487.9 837.5 482.9 840.1 477.9 841.9 472.4 842.9 467.4 843 462.9 842.2 459.4 840.6 456.6 837.8 455.4 834.3 455.8 830.3 457.8 826.3 462.4 821.2 468.9 816.9 475.9 814.2 485.4 812.2 486 810.8 485.9 803.8 486.5 797.8 487.7 792.8 489.7 787.3 492.4 782.3 495.4 778.5 498.9 775.6 502.3 774.3Z" fill="#b9aca3" fill-rule="evenodd"/>
<path d="M500.6 778.8 504.4 778.5 507.7 780.3 510 783.8 511.5 789.3 511.8 794.8 511.2 800.3 509.6 806.3 506.1 814.3 505.8 816.8 506.1 818.8 507.4 819.3 513.4 818.3 518.9 818.5 524.4 820 528.9 822.2 532.9 825.4 535.5 829.3 536.1 833.3 534.9 836.7 531.9 839.5 526.9 841.4 520.9 841.7 514.9 840.5 509.9 838.3 505.9 835.4 503.1 831.8 501 826.3 498.9 825.7 495.4 826.5 491.6 831.3 488.9 833.9 484.9 836.6 479.9 838.9 474.9 840.2 469.9 840.6 465.9 840 462.4 838.5 460.9 837.3 459.6 835.3 459.1 831.3 460.8 826.8 464.3 822.8 468.9 819.5 474.4 817 479.9 815.7 487.4 815.4 488.7 814.8 489.1 812.8 488.3 806.8 488.3 801.8 489 796.8 490.2 792.3 492.4 787.3 494.9 783.4 497.9 780.3 500.6 778.8Z" fill="#ae9a8b" fill-rule="evenodd"/>
<path d="M502.2 781.3 505.4 782.1 507.9 784.7 509.5 788.8 510.1 794.3 509.7 799.3 508.7 803.8 507.1 807.8 504 813.8 503 818.8 502.2 820.8 499.4 822.7 494.4 822.9 493.6 823.3 491.3 828.3 489.1 831.3 485.5 834.3 481.4 836.6 476.9 838.1 471.9 838.8 467.9 838.4 464.4 836.9 462.1 834.3 461.6 832.3 461.7 830.3 463.6 826.3 467.9 822.1 472.9 819.3 478.4 817.6 483.9 817.3 490.4 818.5 491.4 817.8 491.8 814.8 490.2 807.8 489.9 803.8 490.2 799.3 491.3 794.3 493.3 789.3 495.9 785.3 498.9 782.5 502.2 781.3ZM512 820.3 516.4 820 520.9 820.6 525.4 822.2 529.4 824.7 532.3 827.8 533.5 830.8 533.5 833.8 532.2 836.3 530.4 837.9 527.9 839.2 524.9 839.9 521.4 840 514.4 838.6 508.9 835.6 505.2 831.3 504.4 828.8 504.4 826.3 505.1 824.3 506.5 822.8 508.9 821.3 512 820.3Z" fill="#a78e7e" fill-rule="evenodd"/>
<path d="M500.5 784.3 502.4 784 503.9 784.3 505.4 785.2 506.7 786.8 508.3 791.3 508.5 797.3 507.6 802.3 505.7 807.3 501.3 813.8 499.8 818.3 498.9 819.2 497.4 819.5 496.4 819.1 495.4 817.8 494.5 814.3 492.2 808.8 491.5 804.8 491.5 800.8 492.5 795.3 494.6 790.3 497.4 786.4 500.5 784.3ZM477.7 819.3 481.4 818.9 484.4 819.1 486.9 819.9 488.9 821.3 489.8 822.8 490.2 824.8 489.8 826.8 488.5 829.3 483.9 833.6 477.4 836.4 470.9 837.1 467.9 836.4 465.9 835.3 464.4 833.5 463.9 831.3 464.4 828.8 465.8 826.3 467.9 824.1 470.9 822 477.7 819.3ZM513 821.8 516.4 821.5 520.4 822 524.4 823.3 527.6 825.3 530 827.8 531.2 830.3 531.4 832.8 530.3 835.3 528.6 836.8 526.5 837.8 521.4 838.5 515.4 837.4 510.5 834.8 507.4 831.3 506.7 829.3 506.6 827.3 507.3 825.3 508.6 823.8 513 821.8Z" fill="#9e8371" fill-rule="evenodd"/>
<path d="M500.7 786.8 503.4 786.9 505.7 789.3 506.9 793.3 506.9 798.3 505.8 803.3 503.8 807.3 500.9 810.6 497.9 811.8 495.9 810.9 493.9 807.9 493 804.3 493.1 799.8 494 795.3 495.8 791.3 498.2 788.3 500.7 786.8ZM477.7 820.8 482.9 820.6 486.5 822.3 487.5 823.8 487.8 825.3 487.4 827.3 486.3 829.3 482.4 832.8 477.4 834.9 471.9 835.5 467.9 834 466.8 832.8 466.2 830.8 466.6 828.8 467.6 826.8 471.9 823.1 477.7 820.8ZM513.8 823.3 516.9 823 519.9 823.3 523 824.3 525.9 826 527.9 827.9 529.1 830.3 529.2 832.3 528.3 834.3 525.4 836.3 520.9 837 515.9 836.1 511.9 833.9 509.3 830.8 508.8 827.8 509.3 826.3 510.4 824.9 513.8 823.3Z" fill="#977966" fill-rule="evenodd"/>
<path d="M500.8 789.3 502.9 789.6 504.7 791.8 505.5 794.8 505.4 798.8 504.4 802.8 502.4 806.4 499.9 808.5 497.9 808.7 496.3 807.8 494.9 805.3 494.4 802.3 494.7 798.8 495.4 795.8 496.9 792.6 498.9 790.3 500.8 789.3ZM477.7 822.3 481.4 822.2 484.4 823.4 485.5 825.8 484.4 828.9 481.4 831.7 477.4 833.4 472.9 833.9 469.9 832.8 468.9 831.8 468.5 830.3 468.7 828.8 469.8 826.8 473.4 823.9 477.7 822.3ZM514.5 824.8 519.4 824.7 521.9 825.4 524.4 826.8 526 828.3 527 830.3 527.1 831.8 526.4 833.3 524.4 834.9 520.9 835.5 516.9 834.9 513.7 833.3 511.4 830.8 510.9 828.3 511.9 826.3 514.5 824.8Z" fill="#8f705b" fill-rule="evenodd"/>
<path d="M500.3 791.8 501.9 791.8 503.4 793.3 504.1 795.3 504.1 798.3 503.5 801.3 502.4 803.8 500.9 805.5 498.9 806.4 497.4 805.8 496.4 804.3 495.9 799.8 497.4 794.6 498.9 792.7 500.3 791.8ZM477.1 823.8 479.9 823.6 482.4 824.4 483.4 826.3 482.8 828.3 480.9 830.4 477.9 831.9 474.4 832.5 471.9 831.8 470.6 829.8 471.4 827.3 473.6 825.3 477.1 823.8ZM515 826.3 518.9 825.9 522.7 827.3 524.9 829.8 524.7 832.3 523.4 833.5 520.9 834.2 517.9 833.8 515.5 832.8 513.8 831.3 512.9 829.3 513.4 827.5 515 826.3Z" fill="#6c5547" fill-rule="evenodd"/>
<path d="M499.8 794.3 500.9 794 501.9 794.5 502.6 795.8 502.9 797.8 501.9 801.8 500.9 803.2 499.4 804 498.4 803.8 497.6 802.8 497.2 799.8 497.9 796.7 499.8 794.3ZM476.5 825.3 478.4 825 480.3 825.3 481.3 826.3 481.2 827.8 480 829.3 477.9 830.6 475.9 831 473.9 830.8 472.8 829.8 472.8 828.3 473.9 826.8 476.5 825.3ZM516.8 827.3 519.4 827.3 521.7 828.3 523.1 830.3 522.7 831.8 521.4 832.6 519.9 832.8 516.4 831.8 515.4 830.8 514.8 829.3 515.4 828.1 516.8 827.3Z" fill="#141110" fill-rule="evenodd"/>
<path d="M499.8 797.8 500.4 797.6 500.8 798.8 500.4 800 499.9 800.4 499.4 800.2 499.2 799.3 499.8 797.8ZM476.7 827.3 477.9 827.2 478.2 827.8 477.4 828.6 476.2 828.8 475.8 828.3 476.7 827.3ZM518.2 829.3 519.4 829.3 520 829.8 520.1 830.3 519.4 830.8 518.4 830.5 517.8 829.8 518.2 829.3Z" fill="#b87448"/>
<path d="M499.8 794.3 500.9 794 501.9 794.5 502.6 795.8 502.9 797.8 501.9 801.8 500.9 803.2 499.4 804 498.4 803.8 497.6 802.8 497.2 799.8 497.9 796.7 499.8 794.3M476.5 825.3 478.4 825 480.3 825.3 481.3 826.3 481.2 827.8 480 829.3 477.9 830.6 475.9 831 473.9 830.8 472.8 829.8 472.8 828.3 473.9 826.8 476.5 825.3M516.8 827.3 519.4 827.3 521.7 828.3 523.1 830.3 522.7 831.8 521.4 832.6 519.9 832.8 516.4 831.8 515.4 830.8 514.8 829.3 515.4 828.1 516.8 827.3" fill="none" stroke="#050505" stroke-width="1.0"/>
<path d="M500.3 791.8 501.9 791.8 503.4 793.3 504.1 795.3 504.1 798.3 503.5 801.3 502.4 803.8 500.9 805.5 498.9 806.4 497.4 805.8 496.4 804.3 495.9 799.8 497.4 794.6 498.9 792.7 500.3 791.8M477.1 823.8 479.9 823.6 482.4 824.4 483.4 826.3 482.8 828.3 480.9 830.4 477.9 831.9 474.4 832.5 471.9 831.8 470.6 829.8 471.4 827.3 473.6 825.3 477.1 823.8M515 826.3 518.9 825.9 522.7 827.3 524.9 829.8 524.7 832.3 523.4 833.5 520.9 834.2 517.9 833.8 515.5 832.8 513.8 831.3 512.9 829.3 513.4 827.5 515 826.3" fill="none" stroke="#b07a58" stroke-width="0.8"/>
<path d="M500.8 789.3 502.9 789.6 504.7 791.8 505.5 794.8 505.4 798.8 504.4 802.8 502.4 806.4 499.9 808.5 497.9 808.7 496.3 807.8 494.9 805.3 494.4 802.3 494.7 798.8 495.4 795.8 496.9 792.6 498.9 790.3 500.8 789.3M477.7 822.3 481.4 822.2 484.4 823.4 485.5 825.8 484.4 828.9 481.4 831.7 477.4 833.4 472.9 833.9 469.9 832.8 468.9 831.8 468.5 830.3 468.7 828.8 469.8 826.8 473.4 823.9 477.7 822.3M514.5 824.8 519.4 824.7 521.9 825.4 524.4 826.8 526 828.3 527 830.3 527.1 831.8 526.4 833.3 524.4 834.9 520.9 835.5 516.9 834.9 513.7 833.3 511.4 830.8 510.9 828.3 511.9 826.3 514.5 824.8" fill="none" stroke="#b69684" stroke-width="0.6"/>
<path d="M500.7 786.8 503.4 786.9 505.7 789.3 506.9 793.3 506.9 798.3 505.8 803.3 503.8 807.3 500.9 810.6 497.9 811.8 495.9 810.9 493.9 807.9 493 804.3 493.1 799.8 494 795.3 495.8 791.3 498.2 788.3 500.7 786.8M477.7 820.8 482.9 820.6 486.5 822.3 487.5 823.8 487.8 825.3 487.4 827.3 486.3 829.3 482.4 832.8 477.4 834.9 471.9 835.5 467.9 834 466.8 832.8 466.2 830.8 466.6 828.8 467.6 826.8 471.9 823.1 477.7 820.8M513.8 823.3 516.9 823 519.9 823.3 523 824.3 525.9 826 527.9 827.9 529.1 830.3 529.2 832.3 528.3 834.3 525.4 836.3 520.9 837 515.9 836.1 511.9 833.9 509.3 830.8 508.8 827.8 509.3 826.3 510.4 824.9 513.8 823.3" fill="none" stroke="#bca190" stroke-width="0.6"/>
<path d="M500.5 784.3 502.4 784 503.9 784.3 505.4 785.2 506.7 786.8 508.3 791.3 508.5 797.3 507.6 802.3 505.7 807.3 501.3 813.8 499.8 818.3 498.9 819.2 497.4 819.5 496.4 819.1 495.4 817.8 494.5 814.3 492.2 808.8 491.5 804.8 491.5 800.8 492.5 795.3 494.6 790.3 497.4 786.4 500.5 784.3M477.7 819.3 481.4 818.9 484.4 819.1 486.9 819.9 488.9 821.3 489.8 822.8 490.2 824.8 489.8 826.8 488.5 829.3 483.9 833.6 477.4 836.4 470.9 837.1 467.9 836.4 465.9 835.3 464.4 833.5 463.9 831.3 464.4 828.8 465.8 826.3 467.9 824.1 470.9 822 477.7 819.3M513 821.8 516.4 821.5 520.4 822 524.4 823.3 527.6 825.3 530 827.8 531.2 830.3 531.4 832.8 530.3 835.3 528.6 836.8 526.5 837.8 521.4 838.5 515.4 837.4 510.5 834.8 507.4 831.3 506.7 829.3 506.6 827.3 507.3 825.3 508.6 823.8 513 821.8" fill="none" stroke="#c2ab9c" stroke-width="0.6"/>
<path d="M502.2 781.3 505.4 782.1 507.9 784.7 509.5 788.8 510.1 794.3 509.7 799.3 508.7 803.8 507.1 807.8 504 813.8 503 818.8 502.2 820.8 499.4 822.7 494.4 822.9 493.6 823.3 491.3 828.3 489.1 831.3 485.5 834.3 481.4 836.6 476.9 838.1 471.9 838.8 467.9 838.4 464.4 836.9 462.1 834.3 461.6 832.3 461.7 830.3 463.6 826.3 467.9 822.1 472.9 819.3 478.4 817.6 483.9 817.3 490.4 818.5 491.4 817.8 491.8 814.8 490.2 807.8 489.9 803.8 490.2 799.3 491.3 794.3 493.3 789.3 495.9 785.3 498.9 782.5 502.2 781.3M512 820.3 516.4 820 520.9 820.6 525.4 822.2 529.4 824.7 532.3 827.8 533.5 830.8 533.5 833.8 532.2 836.3 530.4 837.9 527.9 839.2 524.9 839.9 521.4 840 514.4 838.6 508.9 835.6 505.2 831.3 504.4 828.8 504.4 826.3 505.1 824.3 506.5 822.8 508.9 821.3 512 820.3" fill="none" stroke="#807068" stroke-width="0.7"/>
<path d="M500.6 778.8 504.4 778.5 507.7 780.3 510 783.8 511.5 789.3 511.8 794.8 511.2 800.3 509.6 806.3 506.1 814.3 505.8 816.8 506.1 818.8 507.4 819.3 513.4 818.3 518.9 818.5 524.4 820 528.9 822.2 532.9 825.4 535.5 829.3 536.1 833.3 534.9 836.7 531.9 839.5 526.9 841.4 520.9 841.7 514.9 840.5 509.9 838.3 505.9 835.4 503.1 831.8 501 826.3 498.9 825.7 495.4 826.5 491.6 831.3 488.9 833.9 484.9 836.6 479.9 838.9 474.9 840.2 469.9 840.6 465.9 840 462.4 838.5 460.9 837.3 459.6 835.3 459.1 831.3 460.8 826.8 464.3 822.8 468.9 819.5 474.4 817 479.9 815.7 487.4 815.4 488.7 814.8 489.1 812.8 488.3 806.8 488.3 801.8 489 796.8 490.2 792.3 492.4 787.3 494.9 783.4 497.9 780.3 500.6 778.8" fill="none" stroke="#686060" stroke-width="0.8"/>
<path d="M502.3 774.3 505.9 774.5 509.4 776.7 512 780.8 513.7 786.3 514.2 792.8 513.6 799.3 512.1 805.8 509.3 813.3 509.3 815.3 510.4 815.9 517.4 816.1 522.9 817.1 527.9 819 532.9 822 536.8 825.8 539 829.8 539.6 833.8 538.3 837.8 534.9 841.2 530.4 843.2 524.4 844.1 517.9 843.6 511.4 841.6 506.4 838.9 502.9 836.1 498.9 830.8 497.4 830 495.9 830.7 491.9 834.6 487.9 837.5 482.9 840.1 477.9 841.9 472.4 842.9 467.4 843 462.9 842.2 459.4 840.6 456.6 837.8 455.4 834.3 455.8 830.3 457.8 826.3 462.4 821.2 468.9 816.9 475.9 814.2 485.4 812.2 486 810.8 485.9 803.8 486.5 797.8 487.7 792.8 489.7 787.3 492.4 782.3 495.4 778.5 498.9 775.6 502.3 774.3" fill="none" stroke="#505050" stroke-width="1.1"/>
<path d="M502 769.8 506.4 769.7 510.4 771.8 513.5 775.8 515.7 781.3 516.8 788.3 516.6 795.8 515.6 802.8 513 812.3 513.9 813 521.4 814.1 527.4 815.9 532.9 818.7 537.7 822.3 541.1 826.3 543.1 830.8 543.4 835.3 541.9 839.3 539.3 842.3 535.4 844.7 530.9 846.1 525.9 846.7 517.9 846.1 510.4 844 503.9 840.5 496.9 834.9 495.4 835.4 490.4 839 485.9 841.5 480.9 843.6 475.4 845.2 469.9 845.9 464.9 845.8 460.4 844.9 456.4 843.2 453.2 840.3 451.4 836.3 451.5 831.8 453.6 826.8 458.4 821 464.9 816.2 472.4 812.6 482.4 809.8 483 808.3 483.5 800.8 484.7 794.3 486.3 788.8 488.6 783.3 491.5 778.3 494.9 774.2 498.4 771.4 502 769.8" fill="none" stroke="#484848" stroke-width="1.25"/>
</g>
<rect x="436.4" y="738.3" width="125.5" height="125.5" fill="none" stroke="#444" stroke-width="1.1"/>
<path d="M452.4 738.3 L452.4 738.2 L456.4 737.2 L459.9 735.6 L470.4 728.6 L474.4 726.7 L477.9 726.4 L485.4 728.4 L488.4 728 L491.4 725.6 L497.4 716.7 L498.9 715.3 L500.4 714.8 L502.9 716 L508.4 722.2 L511.4 724.6 L513.9 725.6 L519.4 726.3 L522.4 727.3 L525.4 729 L534.9 735.5 L538.4 737.1 L542.4 738.2 L542.4 738.3" fill="#bababa" stroke="#3a3a3a" stroke-width="1.1"/>
<path d="M561.9 772.8 L562 772.8 L563.5 779.8 L568.2 791.8 L569.4 796.8 L569.3 802.3 L566.7 811.3 L567.2 814.3 L568.6 816.3 L570.9 818.3 L583.7 826.3 L585 827.8 L585.4 829.3 L584.7 830.8 L582.4 832.8 L570.7 838.8 L566.7 841.3 L563.6 844.3 L562.1 847.3 L561.9 847.3" fill="#bababa" stroke="#3a3a3a" stroke-width="1.1"/>
<text x="429.9" y="802" font-family='"Liberation Sans", sans-serif' font-size="11.5" fill="#333" text-anchor="middle" textLength="63.5" lengthAdjust="spacingAndGlyphs" transform="rotate(-90 429.9 802)">Eigenvector 3</text>
<text x="499.1" y="874.3" font-family='"Liberation Sans", sans-serif' font-size="11.5" fill="#333" text-anchor="middle" textLength="62" lengthAdjust="spacingAndGlyphs">Eigenvector 2</text>
<clipPath id="clip606_738"><rect x="606.5" y="738.3" width="125.5" height="125.5"/></clipPath>
<rect x="606.5" y="738.3" width="125.5" height="125.5" fill="#e6fce6"/>
<g clip-path="url(#clip606_738)">
<path d="M666.3 756.3 670.5 756.7 674.5 759.2 677.7 763.8 679.8 769.8 680.8 776.8 680.6 784.3 679.4 791.3 676.5 799.8 676.5 801.1 677.5 801.6 685 802.6 691 804.6 696.5 807.5 701.4 811.3 705.3 815.8 707.9 820.8 708.8 825.8 707.8 830.8 704.9 834.8 700.5 837.6 695 839 688.5 839 682 837.6 675.5 834.7 670 831 664 825.2 663 825.7 658.7 830.8 655 834.2 651 837 647 839.1 642 840.9 637.5 841.6 633.5 841.5 629.5 840.4 627 839 625.1 837.3 622.8 832.8 622.4 827.3 624.1 821.3 628.4 814.3 634.5 808.4 640.5 804.6 650.2 800.8 650.4 799.3 649.2 791.3 649.3 785.3 650.3 778.3 652.2 771.8 655 765.8 658.5 761 662.5 757.7 666.3 756.3Z" fill="#b2f2b2" fill-rule="evenodd"/>
<path d="M665.6 760.8 668 760.6 670 761.1 673.5 763.7 676.3 768.3 677.9 774.3 678.3 780.8 677.6 787.8 675.8 794.3 672.4 801.3 672.4 803.3 674.5 804.9 681.5 804.9 687.5 806.1 693 808.5 697.5 811.6 701.5 815.8 704.1 820.3 705 824.8 704.1 829.3 701.4 832.8 697 835.3 691.5 836.2 685 835.5 679 833.5 674 830.6 669.5 826.5 665.5 820.9 663.5 820.2 662 821.3 659.4 825.8 656 829.8 653 832.5 649 835.1 644.5 837.2 640 838.3 636 838.4 632 837.5 628.5 835.1 626.3 831.3 625.9 826.8 627.4 821.3 631.5 814.8 638 809.1 645.5 805.5 653.5 804.4 654.7 803.8 654.7 802.3 652.4 795.3 651.7 790.3 651.8 784.3 652.9 777.8 655.2 771.3 658.1 766.3 662 762.4 665.6 760.8Z" fill="#66cc66" fill-rule="evenodd"/>
<path d="M665 764.8 667 764.5 669 764.9 672.2 767.3 674.7 771.8 676 777.8 675.9 784.3 674.6 790.8 672.3 796.3 668.4 801.8 668.3 803.3 671.6 807.3 673 808.3 679.5 807.4 684.5 807.9 689.5 809.5 694.5 812.4 698.1 815.8 700.7 819.8 701.6 823.8 700.9 827.8 698.5 830.9 694.5 832.9 689.5 833.6 683.5 832.6 678 830.3 673.5 826.9 670.5 823.3 667.5 817.6 666 817.1 661.5 816.6 660.5 817.3 658.5 822.3 656.3 825.8 653.5 829 650 831.8 646 834 641.5 835.3 637.5 835.6 634 834.8 632 833.6 630.4 831.8 629.3 829.3 629 826.8 630.2 821.3 633.8 815.8 638 811.9 643 809 649.5 807.4 657 808.3 658 807.6 659.7 804.8 659.8 803.3 656.5 798.8 654.7 794.3 653.9 788.8 654.2 782.8 655.7 776.3 658.2 770.8 661.5 766.8 665 764.8Z" fill="#52c252" fill-rule="evenodd"/>
<path d="M664.3 767.8 666 767.3 668 767.5 670 768.5 671.5 770.1 673.8 775.3 674.5 781.8 673.5 788.8 671.1 794.8 667.5 799.1 665.5 800.4 663.5 800.8 660.5 799.9 657.8 796.8 656.1 792.3 655.5 786.3 656.2 780.3 658.1 774.8 661 770.3 664.3 767.8ZM663.2 805.8 666 805.6 668.5 807.4 669.8 810.8 669.6 812.3 668.8 813.3 666.5 814.3 664.5 814.4 662.5 813.7 661 812.3 660.5 810.8 660.7 808.8 661.9 806.8 663.2 805.8ZM680.3 809.3 684.5 809.7 689 811.1 693 813.4 696.5 816.8 698.6 820.3 699.3 823.8 698.6 826.8 696.5 829.5 694.2 830.8 691.5 831.5 688.5 831.7 685 831.2 678.5 828.6 673.6 824.3 671.9 821.8 671 819.3 670.6 816.3 670.8 813.8 672 812.3 675 810.5 680.3 809.3ZM646.3 809.8 649.5 809.4 652 809.7 654.5 810.6 656.6 812.3 657.6 814.3 657.9 816.8 656.4 822.3 652.3 827.8 646.5 831.8 640.5 833.5 637.5 833.4 635 832.6 632.7 830.8 631.4 827.8 631.4 824.3 632.5 820.8 634.7 817.3 638.3 813.8 642 811.4 646.3 809.8Z" fill="#47bb47" fill-rule="evenodd"/>
<path d="M664.3 770.3 667.5 770 669 770.7 670.6 772.3 672.5 776.8 673.1 782.3 672.2 788.3 670 793.4 667 796.9 665 798 663.5 798.2 660.5 796.9 658.6 794.3 657.3 790.3 656.9 785.8 657.6 780.8 659.1 776.3 661.5 772.5 664.3 770.3ZM647.7 811.3 652 811.8 653.7 812.8 655 814.4 655.7 816.3 655.8 818.3 654 823.3 650.5 827.4 645.5 830.6 640.5 831.8 638 831.5 636 830.7 634.1 828.8 633.3 826.3 633.5 823.3 634.9 819.8 637.2 816.8 640.5 814 644 812.2 647.7 811.3ZM678.7 811.3 682 811 686 811.7 690 813.3 693.3 815.8 695.8 818.8 697 821.8 696.9 824.8 695.5 827.4 693.7 828.8 691.5 829.7 686.5 829.9 681 828.2 676.5 825 673.5 820.8 672.9 816.8 673.6 814.8 674.8 813.3 678.7 811.3Z" fill="#3cab3c" fill-rule="evenodd"/>
<path d="M664.3 772.8 667 772.4 669.5 774.2 671.1 777.8 671.6 782.3 671 787.1 669.4 791.3 667 794.4 664 795.7 662 795.2 660 793.1 658.8 789.8 658.4 785.8 658.8 781.8 660.1 777.8 662 774.6 664.3 772.8ZM680.4 812.8 683.5 812.7 687 813.6 690 815.1 692.5 817.3 694.3 819.8 695 822.3 694.8 824.3 693.5 826.4 690.5 828 686 828.2 681.5 826.7 677.6 823.8 675.4 820.3 675.2 816.8 677 814.2 680.4 812.8ZM645.9 813.3 650 813.3 651.5 813.9 653 815.3 653.8 818.3 652.7 822.3 650 825.9 646 828.7 641.5 829.9 638 829.3 636.1 827.8 635.3 825.8 635.3 823.3 636.2 820.8 638 818.2 640.5 815.8 643 814.3 645.9 813.3Z" fill="#349b34" fill-rule="evenodd"/>
<path d="M665.9 774.8 668 775.7 669.4 777.8 670.2 780.8 670.1 784.3 669.3 787.8 668 790.5 666 792.6 664 793.2 662 792.3 660.6 790.3 659.9 787.3 659.9 783.8 660.6 780.3 662 777.5 664 775.4 665.9 774.8ZM680 814.8 682.5 814.3 685 814.6 687.5 815.5 690 817.1 691.9 819.3 692.8 821.3 692.7 823.3 692 824.8 689.7 826.3 686.5 826.7 683 825.8 680 823.9 677.8 821.3 677.1 818.8 677.9 816.3 680 814.8ZM644.6 815.3 648 814.9 650.5 815.9 651.8 818.3 651.4 821.3 649.5 824.3 646 827 642.5 828.1 639.5 827.8 638.2 826.8 637.3 825.3 637.6 821.8 640.4 817.8 644.6 815.3Z" fill="#2d8b2d" fill-rule="evenodd"/>
<path d="M664.7 777.3 666 777.1 667.5 778 668.5 779.8 668.9 782.8 668.6 785.8 667.5 788.5 666 790.3 664.5 790.9 663 790.5 662 789.3 661.3 787.3 661.1 784.8 662.1 780.3 663.3 778.3 664.7 777.3ZM681 816.3 684.5 815.9 688.6 817.8 690.8 820.8 690.9 822.3 690.2 823.8 688.8 824.8 686.5 825.2 684 824.7 681.5 823.3 679.7 821.3 679.1 819.3 679.5 817.6 681 816.3ZM644.7 816.8 647 816.5 649.1 817.3 650 819.2 649.7 821.3 648.1 823.8 646 825.4 643.5 826.4 641 826.3 639.3 824.8 639.3 821.8 641.3 818.8 644.7 816.8Z" fill="#1f6c1f" fill-rule="evenodd"/>
<path d="M665.3 779.3 667 780.3 667.7 783.8 666.5 787.4 664.5 788.7 663.5 788.3 662.8 787.3 662.3 784.3 663.4 780.8 665.3 779.3ZM682 817.8 684.5 817.4 687.5 818.7 689 820.8 688.5 822.8 686 823.7 682.5 822.3 681 819.8 681.1 818.8 682 817.8ZM644.6 818.3 646 818.1 647.5 818.6 648.2 819.8 648.1 821.3 647.2 822.8 645.5 824.2 643.5 824.9 642 824.7 640.8 823.3 641 821.6 642.5 819.5 644.6 818.3Z" fill="#031e03" fill-rule="evenodd"/>
<path d="M664.9 782.8 665.5 782.9 665.7 783.8 665.5 784.8 665 785.3 664.5 785.1 664.3 784.3 664.4 783.3 664.9 782.8ZM684.1 819.8 685.5 819.8 686 820.3 686 821.1 685.5 821.4 684.5 821.1 683.9 820.3 684.1 819.8ZM644.1 820.8 645 820.6 645.5 820.8 645.5 821.3 645 822.1 644 822.4 643.4 821.8 644.1 820.8Z" fill="#8a7a48"/>
<path d="M665.3 779.3 667 780.3 667.7 783.8 666.5 787.4 664.5 788.7 663.5 788.3 662.8 787.3 662.3 784.3 663.4 780.8 665.3 779.3M682 817.8 684.5 817.4 687.5 818.7 689 820.8 688.5 822.8 686 823.7 682.5 822.3 681 819.8 681.1 818.8 682 817.8M644.6 818.3 646 818.1 647.5 818.6 648.2 819.8 648.1 821.3 647.2 822.8 645.5 824.2 643.5 824.9 642 824.7 640.8 823.3 641 821.6 642.5 819.5 644.6 818.3" fill="none" stroke="#050505" stroke-width="1.0"/>
<path d="M664.7 777.3 666 777.1 667.5 778 668.5 779.8 668.9 782.8 668.6 785.8 667.5 788.5 666 790.3 664.5 790.9 663 790.5 662 789.3 661.3 787.3 661.1 784.8 662.1 780.3 663.3 778.3 664.7 777.3M681 816.3 684.5 815.9 688.6 817.8 690.8 820.8 690.9 822.3 690.2 823.8 688.8 824.8 686.5 825.2 684 824.7 681.5 823.3 679.7 821.3 679.1 819.3 679.5 817.6 681 816.3M644.7 816.8 647 816.5 649.1 817.3 650 819.2 649.7 821.3 648.1 823.8 646 825.4 643.5 826.4 641 826.3 639.3 824.8 639.3 821.8 641.3 818.8 644.7 816.8" fill="none" stroke="#948650" stroke-width="0.8"/>
<path d="M665.9 774.8 668 775.7 669.4 777.8 670.2 780.8 670.1 784.3 669.3 787.8 668 790.5 666 792.6 664 793.2 662 792.3 660.6 790.3 659.9 787.3 659.9 783.8 660.6 780.3 662 777.5 664 775.4 665.9 774.8M680 814.8 682.5 814.3 685 814.6 687.5 815.5 690 817.1 691.9 819.3 692.8 821.3 692.7 823.3 692 824.8 689.7 826.3 686.5 826.7 683 825.8 680 823.9 677.8 821.3 677.1 818.8 677.9 816.3 680 814.8M644.6 815.3 648 814.9 650.5 815.9 651.8 818.3 651.4 821.3 649.5 824.3 646 827 642.5 828.1 639.5 827.8 638.2 826.8 637.3 825.3 637.6 821.8 640.4 817.8 644.6 815.3" fill="none" stroke="#88944a" stroke-width="0.6"/>
<path d="M664.3 772.8 667 772.4 669.5 774.2 671.1 777.8 671.6 782.3 671 787.1 669.4 791.3 667 794.4 664 795.7 662 795.2 660 793.1 658.8 789.8 658.4 785.8 658.8 781.8 660.1 777.8 662 774.6 664.3 772.8M680.4 812.8 683.5 812.7 687 813.6 690 815.1 692.5 817.3 694.3 819.8 695 822.3 694.8 824.3 693.5 826.4 690.5 828 686 828.2 681.5 826.7 677.6 823.8 675.4 820.3 675.2 816.8 677 814.2 680.4 812.8M645.9 813.3 650 813.3 651.5 813.9 653 815.3 653.8 818.3 652.7 822.3 650 825.9 646 828.7 641.5 829.9 638 829.3 636.1 827.8 635.3 825.8 635.3 823.3 636.2 820.8 638 818.2 640.5 815.8 643 814.3 645.9 813.3" fill="none" stroke="#78b050" stroke-width="0.6"/>
<path d="M664.3 770.3 667.5 770 669 770.7 670.6 772.3 672.5 776.8 673.1 782.3 672.2 788.3 670 793.4 667 796.9 665 798 663.5 798.2 660.5 796.9 658.6 794.3 657.3 790.3 656.9 785.8 657.6 780.8 659.1 776.3 661.5 772.5 664.3 770.3M647.7 811.3 652 811.8 653.7 812.8 655 814.4 655.7 816.3 655.8 818.3 654 823.3 650.5 827.4 645.5 830.6 640.5 831.8 638 831.5 636 830.7 634.1 828.8 633.3 826.3 633.5 823.3 634.9 819.8 637.2 816.8 640.5 814 644 812.2 647.7 811.3M678.7 811.3 682 811 686 811.7 690 813.3 693.3 815.8 695.8 818.8 697 821.8 696.9 824.8 695.5 827.4 693.7 828.8 691.5 829.7 686.5 829.9 681 828.2 676.5 825 673.5 820.8 672.9 816.8 673.6 814.8 674.8 813.3 678.7 811.3" fill="none" stroke="#80d880" stroke-width="0.6"/>
<path d="M664.3 767.8 666 767.3 668 767.5 670 768.5 671.5 770.1 673.8 775.3 674.5 781.8 673.5 788.8 671.1 794.8 667.5 799.1 665.5 800.4 663.5 800.8 660.5 799.9 657.8 796.8 656.1 792.3 655.5 786.3 656.2 780.3 658.1 774.8 661 770.3 664.3 767.8M663.2 805.8 666 805.6 668.5 807.4 669.8 810.8 669.6 812.3 668.8 813.3 666.5 814.3 664.5 814.4 662.5 813.7 661 812.3 660.5 810.8 660.7 808.8 661.9 806.8 663.2 805.8M680.3 809.3 684.5 809.7 689 811.1 693 813.4 696.5 816.8 698.6 820.3 699.3 823.8 698.6 826.8 696.5 829.5 694.2 830.8 691.5 831.5 688.5 831.7 685 831.2 678.5 828.6 673.6 824.3 671.9 821.8 671 819.3 670.6 816.3 670.8 813.8 672 812.3 675 810.5 680.3 809.3M646.3 809.8 649.5 809.4 652 809.7 654.5 810.6 656.6 812.3 657.6 814.3 657.9 816.8 656.4 822.3 652.3 827.8 646.5 831.8 640.5 833.5 637.5 833.4 635 832.6 632.7 830.8 631.4 827.8 631.4 824.3 632.5 820.8 634.7 817.3 638.3 813.8 642 811.4 646.3 809.8" fill="none" stroke="#5a8a5a" stroke-width="0.7"/>
<path d="M665 764.8 667 764.5 669 764.9 672.2 767.3 674.7 771.8 676 777.8 675.9 784.3 674.6 790.8 672.3 796.3 668.4 801.8 668.3 803.3 671.6 807.3 673 808.3 679.5 807.4 684.5 807.9 689.5 809.5 694.5 812.4 698.1 815.8 700.7 819.8 701.6 823.8 700.9 827.8 698.5 830.9 694.5 832.9 689.5 833.6 683.5 832.6 678 830.3 673.5 826.9 670.5 823.3 667.5 817.6 666 817.1 661.5 816.6 660.5 817.3 658.5 822.3 656.3 825.8 653.5 829 650 831.8 646 834 641.5 835.3 637.5 835.6 634 834.8 632 833.6 630.4 831.8 629.3 829.3 629 826.8 630.2 821.3 633.8 815.8 638 811.9 643 809 649.5 807.4 657 808.3 658 807.6 659.7 804.8 659.8 803.3 656.5 798.8 654.7 794.3 653.9 788.8 654.2 782.8 655.7 776.3 658.2 770.8 661.5 766.8 665 764.8" fill="none" stroke="#4a704a" stroke-width="0.8"/>
<path d="M665.6 760.8 668 760.6 670 761.1 673.5 763.7 676.3 768.3 677.9 774.3 678.3 780.8 677.6 787.8 675.8 794.3 672.4 801.3 672.4 803.3 674.5 804.9 681.5 804.9 687.5 806.1 693 808.5 697.5 811.6 701.5 815.8 704.1 820.3 705 824.8 704.1 829.3 701.4 832.8 697 835.3 691.5 836.2 685 835.5 679 833.5 674 830.6 669.5 826.5 665.5 820.9 663.5 820.2 662 821.3 659.4 825.8 656 829.8 653 832.5 649 835.1 644.5 837.2 640 838.3 636 838.4 632 837.5 628.5 835.1 626.3 831.3 625.9 826.8 627.4 821.3 631.5 814.8 638 809.1 645.5 805.5 653.5 804.4 654.7 803.8 654.7 802.3 652.4 795.3 651.7 790.3 651.8 784.3 652.9 777.8 655.2 771.3 658.1 766.3 662 762.4 665.6 760.8" fill="none" stroke="#3e5e3e" stroke-width="1.1"/>
<path d="M666.3 756.3 670.5 756.7 674.5 759.2 677.7 763.8 679.8 769.8 680.8 776.8 680.6 784.3 679.4 791.3 676.5 799.8 676.5 801.1 677.5 801.6 685 802.6 691 804.6 696.5 807.5 701.4 811.3 705.3 815.8 707.9 820.8 708.8 825.8 707.8 830.8 704.9 834.8 700.5 837.6 695 839 688.5 839 682 837.6 675.5 834.7 670 831 664 825.2 663 825.7 658.7 830.8 655 834.2 651 837 647 839.1 642 840.9 637.5 841.6 633.5 841.5 629.5 840.4 627 839 625.1 837.3 622.8 832.8 622.4 827.3 624.1 821.3 628.4 814.3 634.5 808.4 640.5 804.6 650.2 800.8 650.4 799.3 649.2 791.3 649.3 785.3 650.3 778.3 652.2 771.8 655 765.8 658.5 761 662.5 757.7 666.3 756.3" fill="none" stroke="#3a5a3a" stroke-width="1.25"/>
</g>
<rect x="606.5" y="738.3" width="125.5" height="125.5" fill="none" stroke="#444" stroke-width="1.1"/>
<path d="M623 738.3 L623 738.2 L626.5 737.1 L629.5 735.5 L639 727.5 L642.5 725.5 L646 725.1 L652.5 726.9 L655 726.3 L657.5 724.1 L663 716 L664.5 715 L665.5 714.8 L667.5 716 L672.5 722.9 L675.5 725.5 L678 726.2 L684 725.5 L687.5 726.1 L691 728 L701 735.6 L704.5 737.3 L708 738.2 L708 738.3" fill="#c5ddc5" stroke="#4a9a4a" stroke-width="1.1"/>
<path d="M732 759.3 L732.1 759.3 L733.9 766.3 L739.1 778.3 L740.1 783.3 L739.9 786.3 L739.2 789.3 L734.9 799.8 L734.6 801.8 L734.9 803.3 L736.2 805.3 L739 807.8 L753.2 817.3 L755 819.3 L755.5 820.8 L754.9 822.8 L752.8 824.8 L740.1 832.3 L736.1 835.3 L733.6 838.3 L732.1 841.8 L732 841.8" fill="#c5ddc5" stroke="#4a9a4a" stroke-width="1.1"/>
<text x="600" y="802" font-family='"Liberation Sans", sans-serif' font-size="11.5" fill="#333" text-anchor="middle" textLength="63.5" lengthAdjust="spacingAndGlyphs" transform="rotate(-90 600 802)">Eigenvector 3</text>
<text x="669.2" y="874.3" font-family='"Liberation Sans", sans-serif' font-size="11.5" fill="#333" text-anchor="middle" textLength="62" lengthAdjust="spacingAndGlyphs">Eigenvector 2</text>
<clipPath id="clip800_738"><rect x="800.5" y="738.3" width="125.5" height="125.5"/></clipPath>
<rect x="800.5" y="738.3" width="125.5" height="125.5" fill="#f2f2f2"/>
<g clip-path="url(#clip800_738)">
<path d="M884.8 758.8 889 758.5 893.5 759.2 897.5 761 900.7 763.8 903 767.3 904.3 771.3 904.6 775.8 903.7 780.8 900.6 787.3 896 792.5 890.5 796.1 881.7 799.3 879.8 800.8 879.6 802.8 882.2 812.3 882.6 818.8 881.2 825.8 878.1 831.8 874.5 835.4 870.5 837.7 866 838.6 861.5 838.1 857.5 836.3 854 833.3 851.1 829.3 849.1 824.3 848.2 820.3 848 815.8 849.6 798.8 849.1 794.8 847.5 794.4 839.5 796.7 833.5 797.4 828.5 796.9 823.5 795.1 819 791.7 816 787.3 814.7 782.3 815.3 777.3 816.6 774.3 818.5 771.7 821 769.3 824 767.5 827.5 766.2 831 765.5 835 765.5 838.5 766.1 844 768.5 848.3 772.3 851.3 777.8 853.2 787.3 854 788.1 856 788 860 786.3 862 784.5 867.1 772.3 871.8 765.8 878 761.2 884.8 758.8Z" fill="#ebe9e8" fill-rule="evenodd"/>
<path d="M885.4 761.8 889.5 761.7 893 762.5 896 764.1 898.5 766.5 900.4 769.8 901.3 773.3 901.4 777.3 900.6 780.8 898.8 784.8 896.2 788.3 893 791.2 889.5 793.3 886 794.7 882 795.4 870.4 795.3 876.6 805.3 878.8 810.3 879.9 816.3 879.4 822.3 876.9 828.3 875 830.8 872.5 833 870 834.4 867 835.2 864 835.2 861.5 834.6 858.5 833.1 855.5 830.5 853.3 827.3 851.8 823.8 851 819.8 850.8 815.8 852.4 807.3 855.1 800.8 858.5 796.8 862.5 795 869.5 794.5 867.8 788.8 867.3 783.8 867.9 778.8 869.6 773.8 872.5 769.3 876.1 765.8 880.5 763.2 885.4 761.8ZM829.6 768.3 835 768 840.5 769.6 845 772.8 847.7 776.8 848.8 781.8 848 786.3 845.3 790.3 841 793.2 838 794.3 834.5 794.8 828 794.1 825 792.9 822.5 791.2 820.2 788.8 818.7 786.3 817.9 783.8 817.6 780.8 818.2 777.8 819.3 775.3 821.2 772.8 823.5 770.8 826.5 769.2 829.6 768.3Z" fill="#b9aca3" fill-rule="evenodd"/>
<path d="M884.1 764.8 887 764.4 890 764.7 892.5 765.6 895.1 767.3 897 769.6 898.2 772.3 898.7 775.3 898.4 778.3 897.6 781.3 896 784.3 894 786.9 891.5 789.1 888.5 790.9 885.5 792 882 792.5 879 792.2 875 790.7 872.2 787.8 870.7 783.8 870.8 778.8 872.3 774.3 875.5 769.8 879.5 766.6 884.1 764.8ZM831.3 770.3 836 770.5 840.5 772.2 843.9 775.3 845.8 779.3 845.9 783.3 844.2 787.3 841.1 790.3 837 792.1 831.5 792.5 826.5 791 822.5 787.8 820.5 783.8 820.4 779.3 822.5 775 826.5 771.8 831.3 770.3ZM861.9 801.3 864 800.9 866.5 801.1 871 803.4 875.1 808.3 877.2 814.3 877.3 820.3 875.4 825.8 872 829.9 869.5 831.4 867 832.2 862.5 831.9 858.5 829.7 855.4 825.8 853.5 820.3 853.4 814.3 855.2 808.3 858 803.9 861.9 801.3Z" fill="#ae9a8b" fill-rule="evenodd"/>
<path d="M884 766.8 889 766.6 891.5 767.5 893.5 768.8 895.2 770.8 896.1 772.8 896.6 777.8 894.8 782.8 890.9 787.3 886 789.9 883 790.4 880.5 790.3 877 789.1 874.5 786.8 872.9 783.3 872.7 779.3 873.9 775.3 876.5 771.4 880 768.5 884 766.8ZM833 771.8 837.5 772.6 841 774.7 843.4 777.8 844.2 781.3 843.3 785.3 841 788.2 837.5 790.2 833.5 791 829 790.3 825.5 788.4 823 785.3 822.1 781.8 822.9 777.8 825.1 774.8 828.5 772.7 833 771.8ZM864.3 803.8 868.5 804.6 872 807.3 874.5 811.3 875.7 816.3 875.3 821.3 873.2 825.8 870 828.9 866 830.2 862 829.5 858.5 827 856.2 823.3 855 818.3 855.4 813.3 857.5 808.3 860.5 805.2 864.3 803.8Z" fill="#a78e7e" fill-rule="evenodd"/>
<path d="M885.6 768.3 890 768.9 893.1 771.3 894.7 774.8 894.5 779.3 892.5 783.3 889 786.6 884.5 788.4 880.5 788.3 877.5 786.9 875.5 784.6 874.5 781.3 874.8 777.8 876.3 774.3 878.9 771.3 882 769.3 885.6 768.3ZM832.1 773.3 836 773.7 839 775.1 841.2 777.3 842.4 780.3 842.2 783.3 840.6 786.3 838 788.4 835 789.4 831.5 789.4 828 788.2 825.2 785.8 823.9 782.8 824 779.3 825.8 776.3 828.5 774.3 832.1 773.3ZM863.4 806.3 867 806.4 870.4 808.3 872.9 811.8 874.1 815.8 873.9 820.3 872.5 823.9 870 826.7 866.5 828.2 863 827.9 860 826 857.7 822.8 856.7 819.3 856.7 815.3 858 811.1 860.5 807.8 863.4 806.3Z" fill="#9e8371" fill-rule="evenodd"/>
<path d="M884.2 770.3 888 770.2 891 771.8 892.6 774.3 893 777.8 891.6 781.8 889 784.7 885.5 786.4 882 786.7 879.5 785.9 877.5 784 876.5 781.8 876.4 778.8 877.4 775.8 879 773.4 881.5 771.4 884.2 770.3ZM831.7 774.8 834.5 774.8 837.4 775.8 839.5 777.6 840.6 779.8 840.8 782.3 839.8 784.8 838 786.6 835.5 787.8 832.5 788.1 829.5 787.3 827.3 785.8 825.7 783.3 825.5 780.3 826.6 777.8 828.8 775.8 831.7 774.8ZM864.1 808.3 867 808.5 869.5 809.9 871.6 812.8 872.6 816.3 872.4 819.8 871 823.2 868.9 825.3 866 826.4 863 825.9 860.7 824.3 859 821.8 858.1 818.3 858.4 814.8 859.6 811.8 861.5 809.5 864.1 808.3Z" fill="#977966" fill-rule="evenodd"/>
<path d="M886 771.8 888.5 772.4 890.5 774.2 891.3 776.8 891 779.3 889.5 782 887 784.1 884 785 881.5 784.7 879.5 783.4 878.5 781.8 878.1 779.8 878.5 777.3 879.5 775.3 881.5 773.3 883.5 772.2 886 771.8ZM831.5 776.3 833.5 776.1 835.5 776.5 837.5 777.7 838.7 779.3 839.2 781.3 838.8 783.3 837.8 784.8 836 786.1 833.5 786.7 831 786.4 829 785.3 827.4 783.3 827 780.8 827.8 778.8 829.2 777.3 831.5 776.3ZM864.3 810.3 866.5 810.3 868.5 811.4 870.1 813.3 871.1 816.3 871 819.3 870 821.8 868 823.8 866 824.5 864 824.4 862 823.2 860.5 821.2 859.7 818.3 859.7 815.8 860.6 813.3 862.2 811.3 864.3 810.3Z" fill="#8f705b" fill-rule="evenodd"/>
<path d="M883.7 773.8 885.5 773.4 887.5 773.8 889.1 775.3 889.7 777.3 889.3 779.3 888 781.4 886 782.9 884 783.4 882.5 783.2 880.9 782.3 880 780.9 879.7 779.3 880 777.7 881 775.8 883.7 773.8ZM831.1 777.8 834.5 777.6 837 779.3 837.6 780.8 837.6 782.3 836 784.5 834 785.3 832.1 785.3 830.5 784.7 829.1 783.3 828.5 781.8 828.7 780.3 829.6 778.8 831.1 777.8ZM863.8 812.3 865.5 812 867.5 812.7 868.9 814.3 869.7 816.3 869.7 818.3 869 820.5 867.5 822.2 866 822.8 864.5 822.8 863 822 861.9 820.8 861.1 818.8 861 816.8 861.5 814.8 862.5 813.3 863.8 812.3Z" fill="#6c5547" fill-rule="evenodd"/>
<path d="M883.9 775.3 886.6 775.3 887.7 776.3 888.1 777.8 887 780.4 885.5 781.5 884 781.8 882 780.9 881.3 779.3 882 776.9 883.9 775.3ZM832.2 778.8 834.5 779 836 780.3 836.1 782.3 834.5 783.8 832 783.9 830.2 782.3 830.2 780.3 832.2 778.8ZM864.5 813.8 866 813.7 867 814.3 868.4 816.8 868 819.4 866 821.2 864 820.8 863 819.8 862.4 818.3 862.9 815.3 864.5 813.8Z" fill="#141110" fill-rule="evenodd"/>
<path d="M884.1 777.8 885 777.5 885.5 777.7 885.5 778.8 884.9 779.3 884 779.2 883.8 778.3 884.1 777.8ZM832.5 780.8 833.6 780.8 834 781.3 833.8 781.8 833 782.1 832.5 781.9 832.2 781.3 832.5 780.8ZM864.7 816.3 865.5 816 866.4 816.8 866.5 818 865.9 818.8 865 818.9 864.4 818.3 864.2 817.3 864.7 816.3Z" fill="#b87448"/>
<path d="M883.9 775.3 886.6 775.3 887.7 776.3 888.1 777.8 887 780.4 885.5 781.5 884 781.8 882 780.9 881.3 779.3 882 776.9 883.9 775.3M832.2 778.8 834.5 779 836 780.3 836.1 782.3 834.5 783.8 832 783.9 830.2 782.3 830.2 780.3 832.2 778.8M864.5 813.8 866 813.7 867 814.3 868.4 816.8 868 819.4 866 821.2 864 820.8 863 819.8 862.4 818.3 862.9 815.3 864.5 813.8" fill="none" stroke="#050505" stroke-width="1.0"/>
<path d="M883.7 773.8 885.5 773.4 887.5 773.8 889.1 775.3 889.7 777.3 889.3 779.3 888 781.4 886 782.9 884 783.4 882.5 783.2 880.9 782.3 880 780.9 879.7 779.3 880 777.7 881 775.8 883.7 773.8M831.1 777.8 834.5 777.6 837 779.3 837.6 780.8 837.6 782.3 836 784.5 834 785.3 832.1 785.3 830.5 784.7 829.1 783.3 828.5 781.8 828.7 780.3 829.6 778.8 831.1 777.8M863.8 812.3 865.5 812 867.5 812.7 868.9 814.3 869.7 816.3 869.7 818.3 869 820.5 867.5 822.2 866 822.8 864.5 822.8 863 822 861.9 820.8 861.1 818.8 861 816.8 861.5 814.8 862.5 813.3 863.8 812.3" fill="none" stroke="#b07a58" stroke-width="0.8"/>
<path d="M886 771.8 888.5 772.4 890.5 774.2 891.3 776.8 891 779.3 889.5 782 887 784.1 884 785 881.5 784.7 879.5 783.4 878.5 781.8 878.1 779.8 878.5 777.3 879.5 775.3 881.5 773.3 883.5 772.2 886 771.8M831.5 776.3 833.5 776.1 835.5 776.5 837.5 777.7 838.7 779.3 839.2 781.3 838.8 783.3 837.8 784.8 836 786.1 833.5 786.7 831 786.4 829 785.3 827.4 783.3 827 780.8 827.8 778.8 829.2 777.3 831.5 776.3M864.3 810.3 866.5 810.3 868.5 811.4 870.1 813.3 871.1 816.3 871 819.3 870 821.8 868 823.8 866 824.5 864 824.4 862 823.2 860.5 821.2 859.7 818.3 859.7 815.8 860.6 813.3 862.2 811.3 864.3 810.3" fill="none" stroke="#b69684" stroke-width="0.6"/>
<path d="M884.2 770.3 888 770.2 891 771.8 892.6 774.3 893 777.8 891.6 781.8 889 784.7 885.5 786.4 882 786.7 879.5 785.9 877.5 784 876.5 781.8 876.4 778.8 877.4 775.8 879 773.4 881.5 771.4 884.2 770.3M831.7 774.8 834.5 774.8 837.4 775.8 839.5 777.6 840.6 779.8 840.8 782.3 839.8 784.8 838 786.6 835.5 787.8 832.5 788.1 829.5 787.3 827.3 785.8 825.7 783.3 825.5 780.3 826.6 777.8 828.8 775.8 831.7 774.8M864.1 808.3 867 808.5 869.5 809.9 871.6 812.8 872.6 816.3 872.4 819.8 871 823.2 868.9 825.3 866 826.4 863 825.9 860.7 824.3 859 821.8 858.1 818.3 858.4 814.8 859.6 811.8 861.5 809.5 864.1 808.3" fill="none" stroke="#bca190" stroke-width="0.6"/>
<path d="M885.6 768.3 890 768.9 893.1 771.3 894.7 774.8 894.5 779.3 892.5 783.3 889 786.6 884.5 788.4 880.5 788.3 877.5 786.9 875.5 784.6 874.5 781.3 874.8 777.8 876.3 774.3 878.9 771.3 882 769.3 885.6 768.3M832.1 773.3 836 773.7 839 775.1 841.2 777.3 842.4 780.3 842.2 783.3 840.6 786.3 838 788.4 835 789.4 831.5 789.4 828 788.2 825.2 785.8 823.9 782.8 824 779.3 825.8 776.3 828.5 774.3 832.1 773.3M863.4 806.3 867 806.4 870.4 808.3 872.9 811.8 874.1 815.8 873.9 820.3 872.5 823.9 870 826.7 866.5 828.2 863 827.9 860 826 857.7 822.8 856.7 819.3 856.7 815.3 858 811.1 860.5 807.8 863.4 806.3" fill="none" stroke="#c2ab9c" stroke-width="0.6"/>
<path d="M884 766.8 889 766.6 891.5 767.5 893.5 768.8 895.2 770.8 896.1 772.8 896.6 777.8 894.8 782.8 890.9 787.3 886 789.9 883 790.4 880.5 790.3 877 789.1 874.5 786.8 872.9 783.3 872.7 779.3 873.9 775.3 876.5 771.4 880 768.5 884 766.8M833 771.8 837.5 772.6 841 774.7 843.4 777.8 844.2 781.3 843.3 785.3 841 788.2 837.5 790.2 833.5 791 829 790.3 825.5 788.4 823 785.3 822.1 781.8 822.9 777.8 825.1 774.8 828.5 772.7 833 771.8M864.3 803.8 868.5 804.6 872 807.3 874.5 811.3 875.7 816.3 875.3 821.3 873.2 825.8 870 828.9 866 830.2 862 829.5 858.5 827 856.2 823.3 855 818.3 855.4 813.3 857.5 808.3 860.5 805.2 864.3 803.8" fill="none" stroke="#807068" stroke-width="0.7"/>
<path d="M884.1 764.8 887 764.4 890 764.7 892.5 765.6 895.1 767.3 897 769.6 898.2 772.3 898.7 775.3 898.4 778.3 897.6 781.3 896 784.3 894 786.9 891.5 789.1 888.5 790.9 885.5 792 882 792.5 879 792.2 875 790.7 872.2 787.8 870.7 783.8 870.8 778.8 872.3 774.3 875.5 769.8 879.5 766.6 884.1 764.8M831.3 770.3 836 770.5 840.5 772.2 843.9 775.3 845.8 779.3 845.9 783.3 844.2 787.3 841.1 790.3 837 792.1 831.5 792.5 826.5 791 822.5 787.8 820.5 783.8 820.4 779.3 822.5 775 826.5 771.8 831.3 770.3M861.9 801.3 864 800.9 866.5 801.1 871 803.4 875.1 808.3 877.2 814.3 877.3 820.3 875.4 825.8 872 829.9 869.5 831.4 867 832.2 862.5 831.9 858.5 829.7 855.4 825.8 853.5 820.3 853.4 814.3 855.2 808.3 858 803.9 861.9 801.3" fill="none" stroke="#686060" stroke-width="0.8"/>
<path d="M885.4 761.8 889.5 761.7 893 762.5 896 764.1 898.5 766.5 900.4 769.8 901.3 773.3 901.4 777.3 900.6 780.8 898.8 784.8 896.2 788.3 893 791.2 889.5 793.3 886 794.7 882 795.4 870.4 795.3 876.6 805.3 878.8 810.3 879.9 816.3 879.4 822.3 876.9 828.3 875 830.8 872.5 833 870 834.4 867 835.2 864 835.2 861.5 834.6 858.5 833.1 855.5 830.5 853.3 827.3 851.8 823.8 851 819.8 850.8 815.8 852.4 807.3 855.1 800.8 858.5 796.8 862.5 795 869.5 794.5 867.8 788.8 867.3 783.8 867.9 778.8 869.6 773.8 872.5 769.3 876.1 765.8 880.5 763.2 885.4 761.8M829.6 768.3 835 768 840.5 769.6 845 772.8 847.7 776.8 848.8 781.8 848 786.3 845.3 790.3 841 793.2 838 794.3 834.5 794.8 828 794.1 825 792.9 822.5 791.2 820.2 788.8 818.7 786.3 817.9 783.8 817.6 780.8 818.2 777.8 819.3 775.3 821.2 772.8 823.5 770.8 826.5 769.2 829.6 768.3" fill="none" stroke="#505050" stroke-width="1.1"/>
<path d="M884.8 758.8 889 758.5 893.5 759.2 897.5 761 900.7 763.8 903 767.3 904.3 771.3 904.6 775.8 903.7 780.8 900.6 787.3 896 792.5 890.5 796.1 881.7 799.3 879.8 800.8 879.6 802.8 882.2 812.3 882.6 818.8 881.2 825.8 878.1 831.8 874.5 835.4 870.5 837.7 866 838.6 861.5 838.1 857.5 836.3 854 833.3 851.1 829.3 849.1 824.3 848.2 820.3 848 815.8 849.6 798.8 849.1 794.8 847.5 794.4 839.5 796.7 833.5 797.4 828.5 796.9 823.5 795.1 819 791.7 816 787.3 814.7 782.3 815.3 777.3 816.6 774.3 818.5 771.7 821 769.3 824 767.5 827.5 766.2 831 765.5 835 765.5 838.5 766.1 844 768.5 848.3 772.3 851.3 777.8 853.2 787.3 854 788.1 856 788 860 786.3 862 784.5 867.1 772.3 871.8 765.8 878 761.2 884.8 758.8" fill="none" stroke="#484848" stroke-width="1.25"/>
</g>
<rect x="800.5" y="738.3" width="125.5" height="125.5" fill="none" stroke="#444" stroke-width="1.1"/>
<path d="M815 738.3 L815 738.1 L817.5 737.2 L820 735.5 L823 732.5 L829 725.1 L831 723.5 L833 722.9 L834.5 723.1 L836.5 724.4 L843 731.8 L845.5 734.1 L848 735.1 L850.5 734.7 L852.5 733.2 L854.5 730.8 L862.5 717.1 L864.5 715.3 L866 714.8 L868 715.4 L873 719.4 L875.5 720.5 L878 720.4 L883.5 718.6 L886.5 719.5 L889.5 722.3 L895.5 730.8 L898.5 734.3 L901.5 736.7 L905 738.1 L905 738.3" fill="#bababa" stroke="#3a3a3a" stroke-width="1.1"/>
<path d="M926 759.3 L926.1 759.3 L927.8 763.3 L930.8 766.8 L935 769.8 L947.1 776.8 L949 778.8 L949.5 780.3 L949 781.8 L947.6 783.3 L933.7 791.3 L930.7 793.8 L929.1 796.3 L928.4 799.3 L929.1 802.8 L930.8 806.3 L935.4 813.3 L936.3 815.8 L936.5 817.8 L936.1 819.8 L934.9 822.3 L928.1 831.8 L926.1 837.3 L926 837.3" fill="#bababa" stroke="#3a3a3a" stroke-width="1.1"/>
<text x="794" y="802" font-family='"Liberation Sans", sans-serif' font-size="11.5" fill="#333" text-anchor="middle" textLength="63.5" lengthAdjust="spacingAndGlyphs" transform="rotate(-90 794 802)">Eigenvector 3</text>
<text x="863.2" y="874.3" font-family='"Liberation Sans", sans-serif' font-size="11.5" fill="#333" text-anchor="middle" textLength="62" lengthAdjust="spacingAndGlyphs">Eigenvector 2</text>
<clipPath id="clip971_738"><rect x="971" y="738.3" width="125.5" height="125.5"/></clipPath>
<rect x="971" y="738.3" width="125.5" height="125.5" fill="#e6fce6"/>
<g clip-path="url(#clip971_738)">
<path d="M1059.9 759.3 1063.5 759.2 1067.5 760 1070.8 761.8 1073.5 764.3 1075.7 767.8 1076.9 771.3 1077.3 775.3 1076.9 779.8 1074.9 785.8 1071.2 791.3 1067 795.1 1059.7 799.3 1058.5 800.8 1058.7 803.3 1061.9 812.3 1062.7 818.3 1062.1 825.3 1059.7 831.8 1056.9 835.8 1053 838.9 1049 840.3 1045 840.3 1041.5 839.1 1038.5 837 1035.7 833.8 1033.8 830.3 1032.4 826.3 1031.6 822.3 1031 808.4 1029.5 805 1028.5 804.3 1026.5 804 1017.5 805.4 1012 805.5 1007 804.6 1002 802.7 997.1 799.3 993.7 795.3 991.7 790.3 991.6 785.3 992.6 782.3 994 779.8 998.5 775.7 1005 773 1012 772.5 1018 773.5 1024 776.1 1028.8 779.8 1035 787 1036.5 787.8 1038 787.8 1039 787.1 1040 785.4 1042.8 774.3 1046.3 767.8 1049 764.8 1052.5 762.1 1056.5 760.1 1059.9 759.3Z" fill="#b2f2b2" fill-rule="evenodd"/>
<path d="M1060.6 762.3 1063.5 762.3 1066.5 763.1 1069 764.5 1071.5 766.9 1073.2 769.8 1074.2 772.8 1074.5 776.3 1074.1 779.8 1073.1 783.3 1071.3 786.8 1069 789.7 1066.5 792 1060.5 795.1 1050.8 797.3 1051.1 798.8 1056.2 805.8 1058.7 810.8 1060.1 816.8 1060 822.8 1058.2 828.8 1056.5 831.7 1054.5 834 1050 836.7 1047.5 837.1 1045 836.9 1042 835.7 1039 833.3 1036.8 830.3 1035.2 826.8 1034.2 822.8 1033.8 818.3 1035.2 807.3 1036.7 801.8 1038.2 799.3 1040.5 797.7 1045.5 796.1 1046.5 795.3 1044.5 787.8 1044.1 782.3 1044.9 776.8 1046.9 771.8 1049.5 768.2 1053 765.1 1057 763.1 1060.6 762.3ZM1007.7 775.3 1013 775.2 1018 776.3 1022.5 778.4 1026.6 781.8 1029.3 785.8 1030.8 790.8 1030.5 794.8 1028.4 797.8 1025.5 799.9 1021.5 801.7 1017.5 802.7 1013 802.9 1009 802.4 1005 801.1 1001.5 799.2 998.5 796.7 996.4 793.8 995 790.3 994.8 786.8 995.7 783.3 997.7 780.3 1000.5 777.9 1004 776.2 1007.7 775.3Z" fill="#66cc66" fill-rule="evenodd"/>
<path d="M1058.9 765.3 1061.5 765 1064.5 765.5 1067 766.6 1069 768.3 1071.4 772.8 1071.9 775.8 1071.8 778.8 1071.1 781.8 1069.7 784.8 1065.9 789.3 1063.5 791 1060.5 792.2 1055 792.7 1051.3 791.3 1048.5 788.3 1047 784.3 1046.9 779.3 1048.3 774.3 1050.9 770.3 1054.5 767.1 1058.9 765.3ZM1007.3 777.8 1012 777.4 1017 778.4 1021 780.3 1024.4 783.3 1026.5 786.8 1027.2 790.8 1026.3 794.3 1024 797.1 1021.5 798.8 1018.5 799.9 1012 800.5 1008.5 799.9 1005.5 798.8 1002.5 796.9 1000.5 795 998.7 792.3 997.8 789.8 997.7 787.3 998.3 784.8 999.7 782.3 1001.7 780.3 1004.5 778.7 1007.3 777.8ZM1043.2 803.3 1045.5 802.8 1047.5 803 1050 803.9 1052 805.3 1055.7 809.8 1057.7 815.8 1057.8 822.3 1056.1 827.8 1054.5 830.2 1052.5 832.2 1048.5 834 1044.5 833.7 1040.7 831.3 1037.9 827.3 1036.4 822.3 1036.2 816.3 1037.6 810.3 1040 805.8 1043.2 803.3Z" fill="#52c252" fill-rule="evenodd"/>
<path d="M1058.7 767.3 1063 767.2 1065 767.9 1067.1 769.3 1069.6 773.3 1070.1 778.3 1068.6 783.3 1065.5 787.3 1061 790.1 1056.5 790.7 1053 789.6 1050.5 787.3 1048.9 783.8 1048.6 779.8 1049.8 775.3 1051.9 771.8 1055 768.9 1058.7 767.3ZM1008.6 779.3 1012.5 779.1 1016.5 780 1020 781.7 1022.8 784.3 1024.5 787.3 1024.9 790.8 1023.9 793.8 1021.7 796.3 1017 798.5 1011.5 798.8 1006 797.1 1001.9 793.8 1000.6 791.8 999.9 789.3 999.9 786.8 1000.5 784.8 1001.9 782.8 1003.6 781.3 1008.6 779.3ZM1045 805.8 1047 805.7 1049 806.1 1052.5 808.5 1055 812.3 1056.4 817.3 1056.2 822.3 1054.5 827.1 1051.5 830.5 1048 832 1044.5 831.5 1041.5 829.5 1039 825.8 1037.8 821.3 1037.8 816.3 1039.2 811.3 1041.6 807.8 1045 805.8Z" fill="#47bb47" fill-rule="evenodd"/>
<path d="M1060.3 768.8 1064 769.4 1066.9 771.8 1068.4 775.3 1068.2 779.8 1066.5 783.8 1063.5 786.9 1060 788.6 1056 788.7 1053.2 787.3 1051.2 784.8 1050.3 781.8 1050.5 778.3 1051.7 774.8 1054 771.8 1057 769.7 1060.3 768.8ZM1009 780.8 1012.5 780.6 1016 781.4 1019 782.9 1021.4 785.3 1022.7 787.8 1022.9 790.8 1022 793.3 1020.1 795.3 1016 797.1 1011 797.3 1006.5 795.6 1003.3 792.8 1001.7 789.3 1001.7 787.3 1002.4 785.3 1005 782.4 1009 780.8ZM1044.6 808.3 1048 808 1051 809.6 1053.5 812.7 1054.9 816.8 1054.9 821.3 1053.7 825.3 1051 828.7 1048 830 1045 829.7 1042.5 828.1 1040.5 825.3 1039.3 821.3 1039.2 817.3 1040.2 813.3 1042 810.2 1044.6 808.3Z" fill="#3cab3c" fill-rule="evenodd"/>
<path d="M1058.7 770.8 1062 770.7 1064.9 772.3 1066.5 774.8 1066.9 778.3 1065.9 781.8 1063.6 784.8 1060.5 786.7 1057.5 787.1 1055.1 786.3 1053.3 784.8 1052.1 782.3 1051.9 779.3 1052.7 776.3 1054.2 773.8 1056.5 771.8 1058.7 770.8ZM1009.3 782.3 1012 782.1 1015 782.6 1017.5 783.8 1019.5 785.5 1020.8 787.8 1021.1 789.8 1020.5 792.1 1019 794 1016 795.5 1012 795.9 1008 794.7 1005 792.3 1003.6 789.3 1004 786.3 1006 783.8 1009.3 782.3ZM1045.2 810.3 1048 810.1 1050.5 811.4 1052.5 814.1 1053.5 817.3 1053.6 820.8 1052.5 824.3 1050.5 826.9 1048 828.1 1045.5 827.9 1043.5 826.7 1041.7 824.3 1040.7 821.3 1040.6 817.8 1041.4 814.3 1043 811.8 1045.2 810.3Z" fill="#349b34" fill-rule="evenodd"/>
<path d="M1059.9 772.3 1062.5 772.8 1064.3 774.3 1065.3 776.8 1065.2 779.3 1064.2 781.8 1062.4 783.8 1060 785.1 1057.5 785.3 1055.5 784.4 1054.2 782.8 1053.5 780.8 1053.6 778.3 1054.5 776 1056 774.1 1058 772.8 1059.9 772.3ZM1009.6 783.8 1014 783.8 1016.3 784.8 1018 786.3 1018.9 787.8 1019.2 789.8 1018.8 791.3 1017.7 792.8 1015 794.2 1012 794.4 1009 793.6 1006.7 791.8 1005.6 789.8 1005.6 787.3 1007 785.1 1009.6 783.8ZM1045.4 812.3 1047.5 812 1049.5 812.9 1051.2 814.8 1052.2 817.8 1052.2 820.8 1051.3 823.3 1049.5 825.5 1047.5 826.3 1045.5 826 1044 824.9 1042.6 822.8 1042 820.7 1041.9 818.3 1042.5 815.7 1043.6 813.8 1045.4 812.3Z" fill="#2d8b2d" fill-rule="evenodd"/>
<path d="M1058.3 774.3 1060 773.9 1062 774.4 1063.3 775.8 1063.9 777.8 1063.6 779.8 1062.5 781.7 1061 783 1059 783.7 1057.5 783.5 1056.2 782.8 1055.2 781.3 1054.9 779.8 1056 776.3 1058.3 774.3ZM1009.6 785.3 1013 785 1016 786.4 1017.1 787.8 1017.5 789.1 1017.4 790.3 1016.5 791.7 1014.7 792.8 1012.5 793.1 1010.5 792.7 1008.5 791.5 1007.3 789.8 1007.1 788.3 1008 786.4 1009.6 785.3ZM1046.6 813.8 1048 813.9 1049.5 815 1050.6 816.8 1051 818.8 1050.8 820.8 1050 822.8 1049 823.9 1047.5 824.6 1046 824.4 1044.5 823.3 1043.2 819.8 1044 815.8 1045 814.6 1046.6 813.8Z" fill="#1f6c1f" fill-rule="evenodd"/>
<path d="M1058.5 775.8 1061 775.7 1062 776.6 1062.4 777.8 1062.3 779.3 1061.5 780.8 1060.5 781.7 1059 782.2 1057 781.3 1056.4 779.8 1056.9 777.3 1058.5 775.8ZM1011 786.3 1013 786.3 1015 787.4 1015.9 789.3 1015 791 1013.5 791.7 1012 791.8 1010.5 791.3 1009.3 790.3 1008.8 789.3 1009 787.8 1011 786.3ZM1045.9 815.8 1047 815.5 1048.2 815.8 1049.1 816.8 1049.7 818.3 1049.3 821.3 1047.5 822.9 1045.6 822.3 1044.5 820.3 1044.6 817.8 1045.9 815.8Z" fill="#031e03" fill-rule="evenodd"/>
<path d="M1058.8 778.3 1059.5 777.9 1060 778 1060.2 778.8 1060 779.4 1059 779.7 1058.6 779.3 1058.8 778.3ZM1011.8 788.3 1013 788.5 1013.2 789.3 1012.5 789.8 1011.5 789.4 1011.3 788.8 1011.8 788.3ZM1046.4 818.3 1047 817.9 1047.5 818.1 1048 818.8 1047.9 819.8 1047.5 820.4 1047 820.5 1046.3 819.8 1046.4 818.3Z" fill="#8a7a48"/>
<path d="M1058.5 775.8 1061 775.7 1062 776.6 1062.4 777.8 1062.3 779.3 1061.5 780.8 1060.5 781.7 1059 782.2 1057 781.3 1056.4 779.8 1056.9 777.3 1058.5 775.8M1011 786.3 1013 786.3 1015 787.4 1015.9 789.3 1015 791 1013.5 791.7 1012 791.8 1010.5 791.3 1009.3 790.3 1008.8 789.3 1009 787.8 1011 786.3M1045.9 815.8 1047 815.5 1048.2 815.8 1049.1 816.8 1049.7 818.3 1049.3 821.3 1047.5 822.9 1045.6 822.3 1044.5 820.3 1044.6 817.8 1045.9 815.8" fill="none" stroke="#050505" stroke-width="1.0"/>
<path d="M1058.3 774.3 1060 773.9 1062 774.4 1063.3 775.8 1063.9 777.8 1063.6 779.8 1062.5 781.7 1061 783 1059 783.7 1057.5 783.5 1056.2 782.8 1055.2 781.3 1054.9 779.8 1056 776.3 1058.3 774.3M1009.6 785.3 1013 785 1016 786.4 1017.1 787.8 1017.5 789.1 1017.4 790.3 1016.5 791.7 1014.7 792.8 1012.5 793.1 1010.5 792.7 1008.5 791.5 1007.3 789.8 1007.1 788.3 1008 786.4 1009.6 785.3M1046.6 813.8 1048 813.9 1049.5 815 1050.6 816.8 1051 818.8 1050.8 820.8 1050 822.8 1049 823.9 1047.5 824.6 1046 824.4 1044.5 823.3 1043.2 819.8 1044 815.8 1045 814.6 1046.6 813.8" fill="none" stroke="#948650" stroke-width="0.8"/>
<path d="M1059.9 772.3 1062.5 772.8 1064.3 774.3 1065.3 776.8 1065.2 779.3 1064.2 781.8 1062.4 783.8 1060 785.1 1057.5 785.3 1055.5 784.4 1054.2 782.8 1053.5 780.8 1053.6 778.3 1054.5 776 1056 774.1 1058 772.8 1059.9 772.3M1009.6 783.8 1014 783.8 1016.3 784.8 1018 786.3 1018.9 787.8 1019.2 789.8 1018.8 791.3 1017.7 792.8 1015 794.2 1012 794.4 1009 793.6 1006.7 791.8 1005.6 789.8 1005.6 787.3 1007 785.1 1009.6 783.8M1045.4 812.3 1047.5 812 1049.5 812.9 1051.2 814.8 1052.2 817.8 1052.2 820.8 1051.3 823.3 1049.5 825.5 1047.5 826.3 1045.5 826 1044 824.9 1042.6 822.8 1042 820.7 1041.9 818.3 1042.5 815.7 1043.6 813.8 1045.4 812.3" fill="none" stroke="#88944a" stroke-width="0.6"/>
<path d="M1058.7 770.8 1062 770.7 1064.9 772.3 1066.5 774.8 1066.9 778.3 1065.9 781.8 1063.6 784.8 1060.5 786.7 1057.5 787.1 1055.1 786.3 1053.3 784.8 1052.1 782.3 1051.9 779.3 1052.7 776.3 1054.2 773.8 1056.5 771.8 1058.7 770.8M1009.3 782.3 1012 782.1 1015 782.6 1017.5 783.8 1019.5 785.5 1020.8 787.8 1021.1 789.8 1020.5 792.1 1019 794 1016 795.5 1012 795.9 1008 794.7 1005 792.3 1003.6 789.3 1004 786.3 1006 783.8 1009.3 782.3M1045.2 810.3 1048 810.1 1050.5 811.4 1052.5 814.1 1053.5 817.3 1053.6 820.8 1052.5 824.3 1050.5 826.9 1048 828.1 1045.5 827.9 1043.5 826.7 1041.7 824.3 1040.7 821.3 1040.6 817.8 1041.4 814.3 1043 811.8 1045.2 810.3" fill="none" stroke="#78b050" stroke-width="0.6"/>
<path d="M1060.3 768.8 1064 769.4 1066.9 771.8 1068.4 775.3 1068.2 779.8 1066.5 783.8 1063.5 786.9 1060 788.6 1056 788.7 1053.2 787.3 1051.2 784.8 1050.3 781.8 1050.5 778.3 1051.7 774.8 1054 771.8 1057 769.7 1060.3 768.8M1009 780.8 1012.5 780.6 1016 781.4 1019 782.9 1021.4 785.3 1022.7 787.8 1022.9 790.8 1022 793.3 1020.1 795.3 1016 797.1 1011 797.3 1006.5 795.6 1003.3 792.8 1001.7 789.3 1001.7 787.3 1002.4 785.3 1005 782.4 1009 780.8M1044.6 808.3 1048 808 1051 809.6 1053.5 812.7 1054.9 816.8 1054.9 821.3 1053.7 825.3 1051 828.7 1048 830 1045 829.7 1042.5 828.1 1040.5 825.3 1039.3 821.3 1039.2 817.3 1040.2 813.3 1042 810.2 1044.6 808.3" fill="none" stroke="#80d880" stroke-width="0.6"/>
<path d="M1058.7 767.3 1063 767.2 1065 767.9 1067.1 769.3 1069.6 773.3 1070.1 778.3 1068.6 783.3 1065.5 787.3 1061 790.1 1056.5 790.7 1053 789.6 1050.5 787.3 1048.9 783.8 1048.6 779.8 1049.8 775.3 1051.9 771.8 1055 768.9 1058.7 767.3M1008.6 779.3 1012.5 779.1 1016.5 780 1020 781.7 1022.8 784.3 1024.5 787.3 1024.9 790.8 1023.9 793.8 1021.7 796.3 1017 798.5 1011.5 798.8 1006 797.1 1001.9 793.8 1000.6 791.8 999.9 789.3 999.9 786.8 1000.5 784.8 1001.9 782.8 1003.6 781.3 1008.6 779.3M1045 805.8 1047 805.7 1049 806.1 1052.5 808.5 1055 812.3 1056.4 817.3 1056.2 822.3 1054.5 827.1 1051.5 830.5 1048 832 1044.5 831.5 1041.5 829.5 1039 825.8 1037.8 821.3 1037.8 816.3 1039.2 811.3 1041.6 807.8 1045 805.8" fill="none" stroke="#5a8a5a" stroke-width="0.7"/>
<path d="M1058.9 765.3 1061.5 765 1064.5 765.5 1067 766.6 1069 768.3 1071.4 772.8 1071.9 775.8 1071.8 778.8 1071.1 781.8 1069.7 784.8 1065.9 789.3 1063.5 791 1060.5 792.2 1055 792.7 1051.3 791.3 1048.5 788.3 1047 784.3 1046.9 779.3 1048.3 774.3 1050.9 770.3 1054.5 767.1 1058.9 765.3M1007.3 777.8 1012 777.4 1017 778.4 1021 780.3 1024.4 783.3 1026.5 786.8 1027.2 790.8 1026.3 794.3 1024 797.1 1021.5 798.8 1018.5 799.9 1012 800.5 1008.5 799.9 1005.5 798.8 1002.5 796.9 1000.5 795 998.7 792.3 997.8 789.8 997.7 787.3 998.3 784.8 999.7 782.3 1001.7 780.3 1004.5 778.7 1007.3 777.8M1043.2 803.3 1045.5 802.8 1047.5 803 1050 803.9 1052 805.3 1055.7 809.8 1057.7 815.8 1057.8 822.3 1056.1 827.8 1054.5 830.2 1052.5 832.2 1048.5 834 1044.5 833.7 1040.7 831.3 1037.9 827.3 1036.4 822.3 1036.2 816.3 1037.6 810.3 1040 805.8 1043.2 803.3" fill="none" stroke="#4a704a" stroke-width="0.8"/>
<path d="M1060.6 762.3 1063.5 762.3 1066.5 763.1 1069 764.5 1071.5 766.9 1073.2 769.8 1074.2 772.8 1074.5 776.3 1074.1 779.8 1073.1 783.3 1071.3 786.8 1069 789.7 1066.5 792 1060.5 795.1 1050.8 797.3 1051.1 798.8 1056.2 805.8 1058.7 810.8 1060.1 816.8 1060 822.8 1058.2 828.8 1056.5 831.7 1054.5 834 1050 836.7 1047.5 837.1 1045 836.9 1042 835.7 1039 833.3 1036.8 830.3 1035.2 826.8 1034.2 822.8 1033.8 818.3 1035.2 807.3 1036.7 801.8 1038.2 799.3 1040.5 797.7 1045.5 796.1 1046.5 795.3 1044.5 787.8 1044.1 782.3 1044.9 776.8 1046.9 771.8 1049.5 768.2 1053 765.1 1057 763.1 1060.6 762.3M1007.7 775.3 1013 775.2 1018 776.3 1022.5 778.4 1026.6 781.8 1029.3 785.8 1030.8 790.8 1030.5 794.8 1028.4 797.8 1025.5 799.9 1021.5 801.7 1017.5 802.7 1013 802.9 1009 802.4 1005 801.1 1001.5 799.2 998.5 796.7 996.4 793.8 995 790.3 994.8 786.8 995.7 783.3 997.7 780.3 1000.5 777.9 1004 776.2 1007.7 775.3" fill="none" stroke="#3e5e3e" stroke-width="1.1"/>
<path d="M1059.9 759.3 1063.5 759.2 1067.5 760 1070.8 761.8 1073.5 764.3 1075.7 767.8 1076.9 771.3 1077.3 775.3 1076.9 779.8 1074.9 785.8 1071.2 791.3 1067 795.1 1059.7 799.3 1058.5 800.8 1058.7 803.3 1061.9 812.3 1062.7 818.3 1062.1 825.3 1059.7 831.8 1056.9 835.8 1053 838.9 1049 840.3 1045 840.3 1041.5 839.1 1038.5 837 1035.7 833.8 1033.8 830.3 1032.4 826.3 1031.6 822.3 1031 808.4 1029.5 805 1028.5 804.3 1026.5 804 1017.5 805.4 1012 805.5 1007 804.6 1002 802.7 997.1 799.3 993.7 795.3 991.7 790.3 991.6 785.3 992.6 782.3 994 779.8 998.5 775.7 1005 773 1012 772.5 1018 773.5 1024 776.1 1028.8 779.8 1035 787 1036.5 787.8 1038 787.8 1039 787.1 1040 785.4 1042.8 774.3 1046.3 767.8 1049 764.8 1052.5 762.1 1056.5 760.1 1059.9 759.3" fill="none" stroke="#3a5a3a" stroke-width="1.25"/>
</g>
<rect x="971" y="738.3" width="125.5" height="125.5" fill="none" stroke="#444" stroke-width="1.1"/>
<path d="M992 738.3 L992 738.2 L995 737.2 L998 735.6 L1008 726.7 L1010 725.5 L1012 725 L1014 725.3 L1016.5 726.6 L1023.5 732.9 L1026.5 735 L1029.5 736.1 L1032.5 735.8 L1035 734.3 L1037.5 731.4 L1044 719.8 L1046 717 L1048 715.3 L1050 714.8 L1054 716.1 L1059 719.3 L1062.5 722.9 L1071 734.3 L1074 736.8 L1077.5 738.2 L1077.5 738.3" fill="#c5ddc5" stroke="#4a9a4a" stroke-width="1.1"/>
<path d="M1096.5 759.8 L1096.6 759.8 L1097.9 763.3 L1100.4 766.8 L1104 770.3 L1116.5 780.3 L1119.1 783.3 L1120 785.8 L1119.6 787.8 L1117.9 789.8 L1104.8 798.3 L1102.7 800.3 L1101.4 802.3 L1101 804.3 L1101.6 806.8 L1107.2 815.8 L1107.9 817.8 L1108 819.8 L1107.5 821.8 L1106.4 823.8 L1098.8 833.8 L1096.6 839.3 L1096.5 839.3" fill="#c5ddc5" stroke="#4a9a4a" stroke-width="1.1"/>
<text x="964.5" y="802" font-family='"Liberation Sans", sans-serif' font-size="11.5" fill="#333" text-anchor="middle" textLength="63.5" lengthAdjust="spacingAndGlyphs" transform="rotate(-90 964.5 802)">Eigenvector 3</text>
<text x="1033.8" y="874.3" font-family='"Liberation Sans", sans-serif' font-size="11.5" fill="#333" text-anchor="middle" textLength="62" lengthAdjust="spacingAndGlyphs">Eigenvector 2</text>
</svg></body></html>
